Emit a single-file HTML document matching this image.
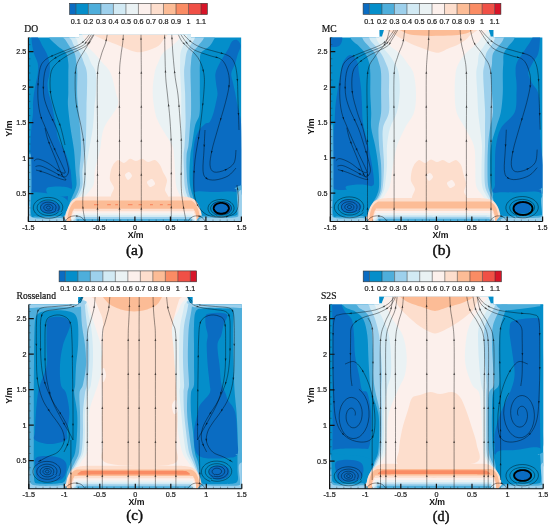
<!DOCTYPE html>
<html><head><meta charset="utf-8"><title>Temperature contours</title>
<style>html,body{margin:0;padding:0;background:#fff;}body{width:550px;height:527px;overflow:hidden;}svg{display:block;}</style>
</head><body>
<svg width="550" height="527" viewBox="0 0 550 527">
<clipPath id="clipa"><path d="M28.4,221.5L28.4,37.5L79,37.5L79,34.8L191,34.8L191,37.5L241.4,37.5L241.4,221.5Z"/></clipPath>
<g clip-path="url(#clipa)">
<rect x="28.4" y="34.8" width="213.0" height="186.7" fill="#048eca"/>
<path d="M78.0,32.8C78.0,32.8 82.0,32.8 82.0,32.8C82.0,32.8 81.5,35.3 81.5,35.3C81.5,35.3 81.5,36.3 81.5,36.3C81.5,36.3 79.0,36.3 79.0,36.3C79.0,36.3 78.0,32.8 78.0,32.8Z" fill="#048eca"/>
<path d="M26.0,31.0C26.8,32.8 30.0,34.8 31.0,37.0C32.0,39.2 31.5,41.2 32.0,44.0C32.5,46.8 33.0,50.4 34.0,53.6C35.0,56.9 37.2,60.2 37.8,63.5C38.4,66.8 38.1,70.0 37.8,73.3C37.5,76.5 36.5,79.7 35.9,83.0C35.3,86.3 34.5,89.7 34.0,93.0C33.5,96.3 33.2,99.7 33.0,103.0C32.8,106.3 33.2,109.2 33.0,113.0C32.8,116.8 31.9,120.7 31.5,126.0C31.1,131.3 30.7,137.7 30.5,145.0C30.3,152.3 30.4,162.5 30.5,170.0C30.6,177.5 30.5,184.2 31.0,190.0C31.5,195.8 32.7,201.0 33.5,205.0C34.3,209.0 34.1,212.0 36.0,214.0C37.9,216.0 41.7,216.7 45.0,217.0C48.3,217.3 53.0,217.0 56.0,216.0C59.0,215.0 61.2,212.8 63.0,211.0C64.8,209.2 66.2,207.5 67.0,205.0C67.8,202.5 67.7,198.2 68.0,196.0C68.3,193.8 68.3,193.3 69.0,192.0C69.7,190.7 71.6,190.0 72.0,188.0C72.4,186.0 71.8,183.0 71.5,180.0C71.2,177.0 71.4,174.3 70.5,170.0C69.6,165.7 67.6,158.2 66.0,154.0C64.4,149.8 62.4,148.0 61.0,145.0C59.6,142.0 58.3,139.2 57.5,136.0C56.7,132.8 56.7,129.8 56.0,126.0C55.3,122.2 54.2,116.8 53.5,113.0C52.8,109.2 52.4,106.3 51.6,103.0C50.8,99.7 49.3,96.3 48.6,93.0C47.9,89.7 47.4,86.3 47.6,83.0C47.8,79.7 49.3,76.5 49.6,73.3C49.9,70.0 50.1,66.8 49.6,63.5C49.1,60.2 47.9,56.5 46.7,53.6C45.5,50.7 43.7,48.3 42.5,46.0C41.3,43.7 40.8,42.2 39.5,40.0C38.2,37.8 36.4,35.0 35.0,33.0C33.6,31.0 32.5,29.2 31.0,28.0C29.5,26.8 26.8,25.5 26.0,26.0C25.2,26.5 25.2,29.2 26.0,31.0Z" fill="#0a6cc2"/>
<path d="M47.0,188.0C48.3,186.9 51.8,186.7 55.0,186.5C58.2,186.3 63.1,186.4 66.0,187.0C68.9,187.6 71.5,188.7 72.5,190.0C73.5,191.3 73.4,193.9 72.0,195.0C70.6,196.1 67.3,196.3 64.0,196.5C60.7,196.7 54.8,196.6 52.0,196.0C49.2,195.4 47.8,194.3 47.0,193.0C46.2,191.7 45.7,189.1 47.0,188.0Z" fill="#048eca"/>
<path d="M231.0,43.0C231.8,41.8 232.5,40.8 233.5,40.3C234.5,39.8 236.0,39.6 237.0,40.0C238.0,40.4 238.9,41.3 239.5,42.5C240.1,43.7 240.8,45.1 240.5,47.0C240.2,48.9 238.9,50.9 238.0,53.6C237.1,56.4 236.3,60.2 235.2,63.5C234.1,66.8 231.7,70.0 231.3,73.3C230.9,76.5 232.3,79.7 233.0,83.0C233.7,86.3 234.5,89.7 235.2,93.0C235.9,96.3 236.3,99.7 237.0,103.0C237.7,106.3 238.4,109.4 239.1,112.6C239.8,115.8 240.5,115.8 241.0,122.0C241.5,128.2 241.8,138.2 242.0,150.0C242.2,161.8 244.0,185.7 242.0,193.0C240.0,200.3 235.0,193.8 230.0,194.0C225.0,194.2 217.7,194.0 212.0,194.0C206.3,194.0 199.2,195.5 196.0,194.0C192.8,192.5 193.5,189.8 193.0,185.0C192.5,180.2 192.8,171.7 193.0,165.0C193.2,158.3 193.2,150.5 194.0,145.0C194.8,139.5 196.2,135.5 198.0,132.0C199.8,128.5 203.1,125.7 205.0,124.0C206.9,122.3 208.3,123.9 209.7,122.0C211.1,120.1 212.5,116.3 213.6,112.6C214.7,108.9 215.8,103.3 216.5,100.0C217.2,96.7 217.6,95.8 217.5,93.0C217.4,90.2 216.3,86.3 216.0,83.0C215.7,79.7 214.9,76.5 215.5,73.3C216.1,70.0 217.8,66.8 219.5,63.5C221.2,60.2 223.8,56.3 225.4,53.6C227.0,50.9 228.1,49.3 229.0,47.5C229.9,45.7 230.2,44.2 231.0,43.0Z" fill="#0a6cc2"/>
<path d="M49.0,22.0C21.3,24.3 48.7,33.0 49.0,36.0C49.3,39.0 49.6,38.3 51.0,40.0C52.4,41.7 55.0,43.8 57.5,46.0C60.0,48.2 64.2,50.2 66.0,53.0C67.8,55.8 67.9,59.7 68.3,63.0C68.7,66.3 68.3,68.0 68.3,73.0C68.3,78.0 68.3,87.5 68.3,93.0C68.2,98.5 67.6,100.2 68.0,106.0C68.4,111.8 69.5,120.7 70.5,128.0C71.5,135.3 73.2,143.0 74.0,150.0C74.8,157.0 75.1,164.2 75.5,170.0C75.9,175.8 76.9,180.8 76.5,185.0C76.1,189.2 74.3,191.7 73.0,195.0C71.7,198.3 70.0,201.7 68.5,205.0C67.0,208.3 64.8,211.0 64.0,215.0C63.2,219.0 41.2,226.7 64.0,229.0C86.8,231.3 177.8,231.3 200.5,229.0C223.2,226.7 201.2,219.0 200.5,215.0C199.8,211.0 197.3,208.3 196.0,205.0C194.7,201.7 193.5,198.3 192.5,195.0C191.5,191.7 190.5,189.2 190.0,185.0C189.5,180.8 189.4,175.0 189.5,170.0C189.6,165.0 190.0,159.2 190.4,155.0C190.8,150.8 191.2,149.8 192.0,145.0C192.8,140.2 193.8,131.2 195.0,126.0C196.2,120.8 198.7,119.5 199.5,114.0C200.3,108.5 199.8,99.8 199.8,93.0C199.9,86.2 199.8,78.0 199.8,73.0C199.8,68.0 199.8,66.3 200.0,63.0C200.2,59.7 199.4,55.8 201.0,53.0C202.6,50.2 207.6,48.2 209.7,46.0C211.8,43.8 212.7,41.7 213.6,40.0C214.5,38.3 214.8,39.0 215.0,36.0C215.2,33.0 242.7,24.3 215.0,22.0C187.3,19.7 76.7,19.7 49.0,22.0Z" fill="#4eaedb"/>
<path d="M31.0,193.0C32.5,191.8 36.8,192.3 40.0,192.5C43.2,192.7 46.7,193.4 50.0,194.0C53.3,194.6 57.3,195.2 60.0,196.0C62.7,196.8 64.3,197.5 66.0,199.0C67.7,200.5 69.7,202.8 70.0,205.0C70.3,207.2 69.3,210.1 68.0,212.0C66.7,213.9 65.8,215.7 62.0,216.5C58.2,217.3 49.7,217.0 45.0,217.0C40.3,217.0 36.3,217.5 34.0,216.5C31.7,215.5 31.5,213.8 31.0,211.0C30.5,208.2 31.0,203.0 31.0,200.0C31.0,197.0 29.5,194.2 31.0,193.0Z" fill="#048eca"/>
<path d="M41.0,202.0C42.2,201.2 45.7,200.9 48.0,201.0C50.3,201.1 53.0,201.7 55.0,202.5C57.0,203.3 59.2,204.8 60.0,206.0C60.8,207.2 60.6,208.8 59.8,210.0C59.0,211.2 57.1,212.5 55.0,213.0C52.9,213.5 49.2,213.5 47.0,213.2C44.8,212.9 42.6,212.2 41.5,211.0C40.4,209.8 40.6,207.5 40.5,206.0C40.4,204.5 39.8,202.8 41.0,202.0Z" fill="#0a6cc2"/>
<path d="M195.0,192.0C198.3,190.2 208.2,192.0 215.0,192.0C221.8,192.0 232.3,190.7 236.0,192.0C239.7,193.3 237.0,197.0 237.0,200.0C237.0,203.0 236.8,207.4 236.0,210.0C235.2,212.6 235.0,214.4 232.0,215.4C229.0,216.4 222.7,216.0 218.0,216.0C213.3,216.0 207.2,216.3 204.0,215.5C200.8,214.7 200.5,213.1 199.0,211.0C197.5,208.9 195.7,206.2 195.0,203.0C194.3,199.8 191.7,193.8 195.0,192.0Z" fill="#048eca"/>
<path d="M213.6,203.5C214.8,202.2 217.6,202.4 220.0,202.3C222.4,202.2 226.1,202.2 228.0,203.0C229.9,203.8 231.0,205.4 231.3,207.0C231.6,208.6 231.2,211.3 230.0,212.5C228.8,213.7 226.3,214.1 224.0,214.4C221.7,214.7 217.8,214.9 216.0,214.2C214.2,213.5 213.4,211.8 213.0,210.0C212.6,208.2 212.4,204.8 213.6,203.5Z" fill="#0a6cc2"/>
<path d="M63.0,22.0C39.5,24.3 62.6,33.0 63.0,36.0C63.4,39.0 64.5,38.3 65.5,40.0C66.5,41.7 67.8,43.8 69.3,46.0C70.8,48.2 73.3,50.2 74.5,53.0C75.7,55.8 76.0,59.7 76.5,63.0C77.0,66.3 77.2,68.0 77.3,73.0C77.4,78.0 77.0,87.5 77.1,93.0C77.2,98.5 77.5,100.2 78.0,106.0C78.5,111.8 79.5,120.7 80.0,128.0C80.5,135.3 81.1,143.0 81.0,150.0C80.9,157.0 79.7,164.2 79.5,170.0C79.3,175.8 80.5,180.8 80.0,185.0C79.5,189.2 78.1,191.7 76.5,195.0C74.9,198.3 72.4,201.7 70.5,205.0C68.6,208.3 65.9,211.0 65.0,215.0C64.1,219.0 42.5,226.7 65.0,229.0C87.5,231.3 177.5,231.3 200.0,229.0C222.5,226.7 201.1,219.0 200.0,215.0C198.9,211.0 195.2,208.3 193.5,205.0C191.8,201.7 190.5,198.3 189.5,195.0C188.5,191.7 188.0,189.2 187.5,185.0C187.0,180.8 186.7,175.0 186.5,170.0C186.3,165.0 186.3,159.2 186.6,155.0C186.9,150.8 187.9,149.8 188.5,145.0C189.1,140.2 189.6,131.2 190.0,126.0C190.4,120.8 190.8,119.5 191.0,114.0C191.2,108.5 191.1,99.8 191.0,93.0C190.9,86.2 190.5,78.0 190.5,73.0C190.5,68.0 190.7,66.3 191.0,63.0C191.3,59.7 191.3,55.8 192.5,53.0C193.7,50.2 196.3,48.2 198.0,46.0C199.7,43.8 201.8,41.7 202.8,40.0C203.8,38.3 203.8,39.0 204.0,36.0C204.2,33.0 227.5,24.3 204.0,22.0C180.5,19.7 86.5,19.7 63.0,22.0Z" fill="#9dd0ec"/>
<path d="M69.0,22.0C48.0,24.3 68.6,33.0 69.0,36.0C69.4,39.0 70.6,38.3 71.5,40.0C72.4,41.7 72.8,43.8 74.2,46.0C75.6,48.2 78.4,50.2 80.0,53.0C81.6,55.8 82.8,59.7 84.0,63.0C85.2,66.3 86.4,68.0 86.9,73.0C87.4,78.0 87.0,87.5 86.9,93.0C86.8,98.5 86.6,100.2 86.5,106.0C86.4,111.8 86.4,120.7 86.2,128.0C86.0,135.3 86.1,143.0 85.5,150.0C84.9,157.0 83.0,164.2 82.5,170.0C82.0,175.8 83.2,180.8 82.5,185.0C81.8,189.2 80.2,191.7 78.5,195.0C76.8,198.3 74.1,201.7 72.0,205.0C69.9,208.3 67.0,211.0 66.0,215.0C65.0,219.0 43.8,226.7 66.0,229.0C88.2,231.3 177.2,231.3 199.5,229.0C221.8,226.7 200.8,219.0 199.5,215.0C198.2,211.0 193.6,208.3 191.5,205.0C189.4,201.7 188.2,198.3 187.0,195.0C185.8,191.7 185.1,189.2 184.6,185.0C184.1,180.8 184.2,175.0 184.0,170.0C183.8,165.0 183.5,159.2 183.6,155.0C183.7,150.8 184.3,149.8 184.6,145.0C184.9,140.2 185.3,131.2 185.5,126.0C185.7,120.8 185.6,119.5 185.5,114.0C185.4,108.5 185.3,99.8 185.1,93.0C184.9,86.2 184.1,78.0 184.1,73.0C184.1,68.0 184.6,66.3 185.0,63.0C185.4,59.7 185.7,55.8 186.5,53.0C187.3,50.2 188.8,48.2 190.0,46.0C191.2,43.8 193.2,41.7 194.0,40.0C194.8,38.3 194.8,39.0 195.0,36.0C195.2,33.0 216.0,24.3 195.0,22.0C174.0,19.7 90.0,19.7 69.0,22.0Z" fill="#d2eaf4"/>
<path d="M75.0,22.0C56.3,24.3 74.7,33.0 75.0,36.0C75.3,39.0 76.3,38.3 77.0,40.0C77.7,41.7 77.4,43.8 79.0,46.0C80.6,48.2 84.5,50.2 86.5,53.0C88.5,55.8 89.5,59.7 91.0,63.0C92.5,66.3 95.0,68.0 95.8,73.0C96.6,78.0 96.0,87.5 95.8,93.0C95.6,98.5 95.0,100.2 94.5,106.0C94.0,111.8 93.7,120.7 92.8,128.0C91.9,135.3 90.1,143.0 89.0,150.0C87.9,157.0 86.5,164.2 86.0,170.0C85.5,175.8 86.8,180.8 86.0,185.0C85.2,189.2 83.0,191.7 81.0,195.0C79.0,198.3 76.3,201.7 74.0,205.0C71.7,208.3 68.2,211.0 67.0,215.0C65.8,219.0 45.0,226.7 67.0,229.0C89.0,231.3 177.0,231.3 199.0,229.0C221.0,226.7 200.6,219.0 199.0,215.0C197.4,211.0 192.0,208.3 189.5,205.0C187.0,201.7 185.3,198.3 184.0,195.0C182.7,191.7 182.2,189.2 181.7,185.0C181.2,180.8 181.2,175.0 181.0,170.0C180.8,165.0 180.8,159.2 180.7,155.0C180.6,150.8 180.6,149.8 180.7,145.0C180.8,140.2 180.9,131.2 181.0,126.0C181.1,120.8 181.2,119.5 181.2,114.0C181.2,108.5 181.4,99.8 181.2,93.0C181.0,86.2 180.4,78.0 180.2,73.0C180.0,68.0 180.1,66.3 180.2,63.0C180.2,59.7 180.0,55.8 180.5,53.0C181.0,50.2 182.1,48.2 183.0,46.0C183.9,43.8 185.3,41.7 186.0,40.0C186.7,38.3 186.8,39.0 187.0,36.0C187.2,33.0 205.7,24.3 187.0,22.0C168.3,19.7 93.7,19.7 75.0,22.0Z" fill="#eaf2f4"/>
<path d="M83.0,22.0C67.0,24.3 82.7,33.0 83.0,36.0C83.3,39.0 84.3,38.3 85.0,40.0C85.7,41.7 85.5,43.8 87.0,46.0C88.5,48.2 91.4,50.2 94.0,53.0C96.6,55.8 100.0,59.7 102.7,63.0C105.5,66.3 108.3,68.0 110.5,73.0C112.7,78.0 114.8,87.5 116.0,93.0C117.2,98.5 119.5,100.2 117.5,106.0C115.5,111.8 106.9,120.7 104.0,128.0C101.1,135.3 101.5,143.0 100.0,150.0C98.5,157.0 96.1,164.2 95.0,170.0C93.9,175.8 95.0,180.8 93.5,185.0C92.0,189.2 88.8,191.7 86.0,195.0C83.2,198.3 80.0,201.7 77.0,205.0C74.0,208.3 69.5,211.0 68.0,215.0C66.5,219.0 46.2,226.7 68.0,229.0C89.8,231.3 176.8,231.3 198.5,229.0C220.2,226.7 200.4,219.0 198.5,215.0C196.6,211.0 190.1,208.3 187.0,205.0C183.9,201.7 181.8,198.3 180.0,195.0C178.2,191.7 176.8,189.2 176.0,185.0C175.2,180.8 175.3,175.0 175.0,170.0C174.7,165.0 174.5,159.2 174.0,155.0C173.5,150.8 174.2,149.8 172.0,145.0C169.8,140.2 163.2,131.2 160.5,126.0C157.8,120.8 156.8,119.5 155.5,114.0C154.2,108.5 152.8,99.8 152.7,93.0C152.5,86.2 153.7,78.0 154.6,73.0C155.5,68.0 156.6,66.3 158.0,63.0C159.4,59.7 160.7,55.8 163.0,53.0C165.3,50.2 169.5,48.2 172.0,46.0C174.5,43.8 177.0,41.7 178.2,40.0C179.4,38.3 178.9,39.0 179.0,36.0C179.1,33.0 195.0,24.3 179.0,22.0C163.0,19.7 99.0,19.7 83.0,22.0Z" fill="#fcf0ec"/>
<path d="M91.0,28.0C78.2,29.0 91.5,32.3 93.0,34.0C94.5,35.7 97.2,36.7 100.0,38.0C102.8,39.3 106.7,40.7 110.0,42.0C113.3,43.3 115.7,44.3 120.0,46.0C124.3,47.7 131.5,51.2 136.0,52.0C140.5,52.8 143.2,51.7 147.0,50.7C150.8,49.7 155.7,47.9 158.6,45.8C161.5,43.7 162.9,40.0 164.5,38.0C166.1,36.0 167.1,35.7 168.0,34.0C168.9,32.3 182.8,29.0 170.0,28.0C157.2,27.0 103.8,27.0 91.0,28.0Z" fill="#fddecd"/>
<path d="M110.5,172.0C110.9,170.0 112.0,166.6 113.0,165.0C114.0,163.4 116.5,160.3 118.0,160.0C119.5,159.7 122.4,163.2 124.0,163.0C125.6,162.8 128.4,159.0 130.0,158.7C131.6,158.4 134.4,161.0 136.0,161.0C137.6,161.0 140.4,158.6 142.0,158.7C143.6,158.8 146.3,161.8 148.0,162.0C149.7,162.2 153.4,159.6 155.0,160.0C156.6,160.4 158.9,163.4 160.0,165.0C161.1,166.6 162.1,170.0 163.0,172.0C163.9,174.0 166.7,177.6 167.0,180.0C167.3,182.4 165.0,187.6 165.0,190.0C165.0,192.4 170.3,196.8 167.0,198.0C163.7,199.2 147.3,199.0 140.0,199.0C132.7,199.0 115.5,199.5 112.0,198.0C108.5,196.5 114.3,190.4 114.0,188.0C113.7,185.6 110.5,182.1 110.0,180.0C109.5,177.9 110.1,174.0 110.5,172.0Z" fill="#fddecd"/>
<path d="M125.0,175.0C125.1,173.9 128.1,171.9 129.0,172.0C129.9,172.1 132.1,174.9 132.0,176.0C131.9,177.1 128.9,180.1 128.0,180.0C127.1,179.9 124.9,176.1 125.0,175.0Z" fill="#fcf0ec"/>
<path d="M147.0,182.0C147.3,180.9 150.9,178.7 152.0,179.0C153.1,179.3 155.3,182.9 155.0,184.0C154.7,185.1 151.1,187.3 150.0,187.0C148.9,186.7 146.7,183.1 147.0,182.0Z" fill="#fcf0ec"/>
<path d="M64.5,225.5C41.6,224.0 65.0,219.3 65.5,216.5C66.0,213.7 66.4,211.5 67.5,208.8C68.6,206.2 70.1,202.5 72.0,200.6C73.9,198.7 75.8,198.0 79.0,197.3C82.2,196.6 81.9,196.6 91.0,196.5C100.1,196.4 119.5,196.5 133.8,196.5C148.0,196.5 167.4,196.4 176.5,196.5C185.6,196.6 185.3,196.6 188.5,197.3C191.7,198.0 193.6,198.7 195.5,200.6C197.4,202.5 198.9,206.2 200.0,208.8C201.1,211.5 201.5,213.7 202.0,216.5C202.5,219.3 225.9,224.0 203.0,225.5C180.1,227.0 87.4,227.0 64.5,225.5Z" fill="#fddecd"/>
<path d="M73.5,225.5C61.5,224.2 73.2,214.1 73.5,212.7C73.8,211.3 70.5,211.4 76.5,211.2C82.5,211.1 122.3,211.2 133.8,211.2C145.2,211.2 185.0,211.1 191.0,211.2C197.0,211.4 193.7,211.3 194.0,212.7C194.3,214.1 206.1,224.2 194.0,225.5C181.9,226.8 85.5,226.8 73.5,225.5Z" fill="#fcf0ec"/>
<path d="M74.5,225.5C62.6,224.4 74.2,216.1 74.5,214.9C74.8,213.7 71.6,213.6 77.5,213.4C83.4,213.2 122.5,213.4 133.8,213.4C145.0,213.4 184.1,213.2 190.0,213.4C195.9,213.6 192.7,213.7 193.0,214.9C193.3,216.1 204.8,224.4 193.0,225.5C181.2,226.6 86.3,226.6 74.5,225.5Z" fill="#eaf2f4"/>
<path d="M75.5,225.5C63.9,224.6 75.2,217.9 75.5,216.9C75.8,215.9 72.7,215.6 78.5,215.4C84.3,215.2 122.7,215.4 133.8,215.4C144.8,215.4 183.2,215.2 189.0,215.4C194.8,215.6 191.7,215.9 192.0,216.9C192.3,217.9 203.7,224.6 192.0,225.5C180.3,226.4 87.2,226.4 75.5,225.5Z" fill="#d2eaf4"/>
<path d="M76.0,225.5C64.5,224.8 75.7,219.4 76.0,218.6C76.3,217.8 73.2,217.3 79.0,217.1C84.8,217.0 122.8,217.1 133.8,217.1C144.7,217.1 182.7,217.0 188.5,217.1C194.3,217.3 191.2,217.8 191.5,218.6C191.8,219.4 203.1,224.8 191.5,225.5C179.9,226.2 87.5,226.2 76.0,225.5Z" fill="#9dd0ec"/>
<path d="M76.5,225.5C65.0,225.0 76.2,221.2 76.5,220.5C76.8,219.8 73.8,219.2 79.5,219.0C85.2,218.8 122.9,219.0 133.8,219.0C144.6,219.0 182.3,218.8 188.0,219.0C193.7,219.2 190.7,219.8 191.0,220.5C191.3,221.2 202.4,225.0 191.0,225.5C179.6,226.0 88.0,226.0 76.5,225.5Z" fill="#4eaedb"/>
<path d="M67.2,225.5C66.7,224.0 67.1,219.4 67.6,216.5C68.1,213.6 68.8,210.4 70.0,207.8C71.2,205.2 72.7,202.4 75.0,201.2C77.3,200.0 74.2,200.7 84.0,200.6C93.8,200.5 117.2,200.6 133.8,200.6C150.3,200.6 173.7,200.5 183.5,200.6C193.3,200.7 190.2,200.0 192.5,201.2C194.8,202.4 196.3,205.2 197.5,207.8C198.7,210.4 199.4,213.6 199.9,216.5C200.4,219.4 200.8,224.0 200.3,225.5C199.8,227.0 197.6,227.0 196.9,225.5C196.2,224.0 196.8,219.1 196.3,216.5C195.8,213.9 195.5,211.3 194.0,210.0C192.5,208.7 197.5,209.0 187.5,208.8C177.5,208.6 151.7,208.8 133.8,208.8C115.8,208.8 90.0,208.6 80.0,208.8C70.0,209.0 75.0,208.7 73.5,210.0C72.0,211.3 71.7,213.9 71.2,216.5C70.7,219.1 71.3,224.0 70.6,225.5C69.9,227.0 67.7,227.0 67.2,225.5Z" fill="#fcbc96"/>
<path d="M94.0,204.1C94.0,204.1 98.4,204.0 98.4,204.0C98.4,204.0 98.4,205.3 98.4,205.3C98.4,205.3 94.0,205.4 94.0,205.4C94.0,205.4 94.0,204.1 94.0,204.1Z" fill="#fa8c64"/>
<path d="M107.2,204.1C107.2,204.1 110.8,204.0 110.8,204.0C110.8,204.0 110.8,205.3 110.8,205.3C110.8,205.3 107.2,205.4 107.2,205.4C107.2,205.4 107.2,204.1 107.2,204.1Z" fill="#fa8c64"/>
<path d="M115.3,204.1C115.3,204.1 117.9,204.0 117.9,204.0C117.9,204.0 117.9,205.3 117.9,205.3C117.9,205.3 115.3,205.4 115.3,205.4C115.3,205.4 115.3,204.1 115.3,204.1Z" fill="#fa8c64"/>
<path d="M127.9,204.1C127.9,204.1 132.5,204.0 132.5,204.0C132.5,204.0 132.5,205.3 132.5,205.3C132.5,205.3 127.9,205.4 127.9,205.4C127.9,205.4 127.9,204.1 127.9,204.1Z" fill="#fa8c64"/>
<path d="M138.6,204.1C138.6,204.1 141.9,204.0 141.9,204.0C141.9,204.0 141.9,205.3 141.9,205.3C141.9,205.3 138.6,205.4 138.6,205.4C138.6,205.4 138.6,204.1 138.6,204.1Z" fill="#fa8c64"/>
<path d="M150.0,204.1C150.0,204.1 152.9,204.0 152.9,204.0C152.9,204.0 152.9,205.3 152.9,205.3C152.9,205.3 150.0,205.4 150.0,205.4C150.0,205.4 150.0,204.1 150.0,204.1Z" fill="#fa8c64"/>
<path d="M159.9,204.1C159.9,204.1 162.8,204.0 162.8,204.0C162.8,204.0 162.8,205.3 162.8,205.3C162.8,205.3 159.9,205.4 159.9,205.4C159.9,205.4 159.9,204.1 159.9,204.1Z" fill="#fa8c64"/>
<path d="M167.6,204.1C167.6,204.1 171.0,204.0 171.0,204.0C171.0,204.0 171.0,205.3 171.0,205.3C171.0,205.3 167.6,205.4 167.6,205.4C167.6,205.4 167.6,204.1 167.6,204.1Z" fill="#fa8c64"/>
<path d="M28.0,155.0C28.8,155.2 30.4,151.0 31.0,156.0C31.6,161.0 31.5,175.3 31.5,185.0C31.5,194.7 30.2,208.7 31.0,214.0C31.8,219.3 32.8,216.1 36.0,216.6C39.2,217.1 45.7,216.8 50.0,216.8C54.3,216.8 59.7,215.4 62.0,216.6C64.3,217.8 70.0,222.8 64.0,224.0C58.0,225.2 32.3,235.5 26.0,224.0C19.7,212.5 25.7,166.5 26.0,155.0C26.3,143.5 27.2,154.8 28.0,155.0Z" fill="#4eaedb"/>
<path d="M26.0,205.0C26.6,202.0 28.8,204.2 29.5,206.0C30.2,207.8 28.9,213.4 30.0,215.5C31.1,217.6 32.7,217.8 36.0,218.3C39.3,218.8 45.7,218.5 50.0,218.5C54.3,218.5 59.8,217.4 62.0,218.3C64.2,219.2 69.0,223.1 63.0,224.0C57.0,224.9 32.2,227.2 26.0,224.0C19.8,220.8 25.4,208.0 26.0,205.0Z" fill="#9dd0ec"/>
<path d="M235.0,188.0C233.6,188.3 236.2,188.0 236.5,190.0C236.8,192.0 236.9,196.7 237.0,200.0C237.1,203.3 237.2,207.4 237.0,210.0C236.8,212.6 238.8,214.4 236.0,215.4C233.2,216.4 225.3,216.1 220.0,216.2C214.7,216.3 207.3,215.8 204.0,215.8C200.7,215.8 200.7,214.6 200.0,216.0C199.3,217.4 192.5,222.7 200.0,224.0C207.5,225.3 237.5,230.0 245.0,224.0C252.5,218.0 246.7,194.0 245.0,188.0C243.3,182.0 236.4,187.7 235.0,188.0Z" fill="#4eaedb"/>
<path d="M238.0,193.0C239.1,189.7 243.8,187.8 245.0,193.0C246.2,198.2 252.3,218.8 245.0,224.0C237.7,229.2 208.2,225.0 201.0,224.0C193.8,223.0 198.3,219.0 201.5,218.0C204.7,217.0 214.2,217.9 220.0,217.8C225.8,217.7 232.9,218.0 236.0,217.2C239.1,216.4 238.2,217.0 238.5,213.0C238.8,209.0 236.9,196.3 238.0,193.0Z" fill="#9dd0ec"/>
<path d="M97.5,224.5C97.5,221.5 97.5,214.9 97.5,206.8C97.5,198.6 97.5,188.4 97.5,175.5C97.5,162.6 97.5,146.4 97.5,129.5C97.5,112.6 96.9,86.6 97.5,74.3C98.1,62.0 99.7,61.1 101.0,55.9C102.3,50.7 104.4,46.9 105.5,43.0C106.6,39.2 107.2,34.5 107.5,32.8M119.5,224.5C119.5,221.5 119.5,214.9 119.5,206.8C119.5,198.6 119.5,188.4 119.5,175.5C119.5,162.6 119.5,146.4 119.5,129.5C119.5,112.6 119.3,86.6 119.5,74.3C119.7,62.0 120.4,61.1 120.9,55.9C121.4,50.7 122.3,46.9 122.7,43.0C123.1,39.2 123.4,34.5 123.5,32.8M141.3,224.5C141.3,221.5 141.3,214.9 141.3,206.8C141.3,198.6 141.3,188.4 141.3,175.5C141.3,162.6 141.3,146.4 141.3,129.5C141.3,112.6 141.3,86.6 141.3,74.3C141.3,62.0 141.2,61.1 141.2,55.9C141.2,50.7 141.1,46.9 141.1,43.0C141.0,39.2 141.0,34.5 141.0,32.8M85.5,223.0C85.1,220.6 83.4,213.2 83.0,208.5C82.6,203.8 82.7,200.4 83.0,194.8C83.3,189.2 84.8,183.2 85.0,175.0C85.2,166.8 84.7,153.8 84.0,145.6C83.3,137.4 82.3,133.1 81.0,126.0C79.7,118.9 77.1,110.9 76.1,102.8C75.1,94.7 75.0,83.8 75.2,77.2C75.4,70.7 75.5,68.1 77.1,63.5C78.7,58.9 82.7,53.6 85.0,49.7C87.3,45.8 89.3,42.8 91.0,40.0C92.7,37.2 94.3,34.2 95.0,33.0M171.3,223.0C171.3,212.5 171.3,173.0 171.3,160.0C171.3,147.0 171.5,151.7 171.3,145.0C171.1,138.3 170.6,128.3 170.0,120.0C169.4,111.7 168.2,102.1 167.5,95.0C166.8,87.9 166.1,84.0 165.7,77.3C165.3,70.6 165.2,62.4 165.0,55.0C164.8,47.6 164.7,36.7 164.6,33.0M186.5,223.0C185.9,219.9 184.0,210.9 183.1,204.6C182.2,198.3 181.5,194.9 181.2,185.0C180.9,175.1 181.6,155.8 181.4,145.0C181.2,134.2 180.6,128.3 180.0,120.0C179.4,111.7 178.8,102.1 178.0,95.0C177.2,87.9 176.0,84.0 175.2,77.3C174.4,70.6 173.6,62.4 173.0,55.0C172.4,47.6 171.9,36.7 171.7,33.0M92.5,30.0C91.2,31.7 87.6,37.4 85.0,40.0C82.4,42.6 81.7,43.5 77.1,45.8C72.5,48.1 62.7,51.3 57.5,53.6C52.3,55.9 48.7,56.9 45.7,59.5C42.8,62.1 41.1,63.8 39.8,69.4C38.5,75.0 37.8,85.8 37.8,93.0C37.8,100.2 38.5,106.7 39.8,112.6C41.1,118.5 43.2,122.1 45.7,128.3C48.2,134.5 52.1,143.6 55.0,150.0C57.9,156.4 61.3,163.2 63.0,167.0C64.7,170.8 65.7,172.3 65.0,173.0C64.3,173.7 61.8,172.7 59.0,171.0C56.2,169.3 51.5,165.0 48.0,163.0C44.5,161.0 40.3,159.3 38.0,159.0C35.7,158.7 34.7,160.7 34.0,161.0M94.5,30.0C93.2,31.8 89.2,38.2 87.0,41.0C84.8,43.8 85.3,44.2 81.0,46.5C76.7,48.8 66.6,51.9 61.4,54.6C56.2,57.3 52.4,59.4 49.6,62.5C46.8,65.6 45.5,68.2 44.5,73.3C43.5,78.4 43.0,87.1 43.5,93.0C44.0,98.9 45.4,102.8 47.6,108.7C49.8,114.6 54.1,122.3 56.5,128.3C58.9,134.4 60.2,139.4 62.0,145.0C63.8,150.6 65.9,157.5 67.0,162.0C68.1,166.5 69.0,169.5 68.5,172.0C68.0,174.5 66.8,177.2 64.0,177.0C61.2,176.8 55.8,172.8 52.0,171.0C48.2,169.2 43.8,166.8 41.0,166.0C38.2,165.2 36.4,166.4 35.5,166.5M96.0,30.0C95.0,31.7 91.8,37.2 90.0,40.0C88.2,42.8 88.8,43.9 85.0,46.5C81.2,49.1 72.2,52.6 67.3,55.6C62.4,58.6 58.3,61.4 55.5,64.5C52.7,67.6 51.4,69.6 50.6,74.3C49.8,79.1 49.8,86.6 50.6,93.0C51.4,99.4 53.8,106.7 55.5,112.6C57.2,118.5 59.4,122.9 61.0,128.3C62.6,133.7 64.3,142.2 65.0,145.0M176.3,30.0C177.1,31.7 179.4,37.4 181.0,40.0C182.6,42.6 183.3,42.9 186.1,45.8C188.9,48.7 194.9,53.0 197.9,57.6C200.9,62.2 202.8,67.4 203.8,73.3C204.8,79.2 204.5,83.5 203.8,93.0C203.1,102.5 201.3,118.8 199.8,130.0C198.3,141.2 196.0,150.8 195.0,160.0C194.0,169.2 193.7,178.3 193.8,185.0C193.9,191.7 194.3,195.8 195.5,200.0C196.7,204.2 198.6,207.3 201.0,210.0C203.4,212.7 206.0,214.8 210.0,216.0C214.0,217.2 220.7,217.7 225.0,217.0C229.3,216.3 233.8,214.8 236.0,212.0C238.2,209.2 238.3,204.5 238.5,200.0C238.7,195.5 237.2,187.5 237.0,185.0M178.0,30.0C179.3,32.0 183.3,38.7 186.0,42.0C188.6,45.3 189.9,47.4 193.9,49.7C197.8,52.0 205.1,54.0 209.7,55.6C214.3,57.2 218.5,57.2 221.4,59.5C224.3,61.8 226.0,65.5 227.3,69.4C228.6,73.3 229.6,77.5 229.3,83.1C229.0,88.7 227.4,95.0 225.4,102.8C223.4,110.6 219.7,122.1 217.5,130.0C215.3,137.9 213.2,144.2 212.0,150.0C210.8,155.8 209.7,161.3 210.0,165.0C210.3,168.7 211.5,171.2 214.0,172.0C216.5,172.8 221.7,171.5 225.0,170.0C228.3,168.5 232.2,166.3 234.0,163.0C235.8,159.7 235.7,152.2 236.0,150.0M179.5,30.0C181.2,31.8 186.6,38.2 190.0,41.0C193.4,43.8 195.8,45.2 200.0,47.0C204.2,48.8 210.3,50.1 215.0,51.5C219.7,52.9 224.8,53.8 228.0,55.5C231.2,57.2 232.5,58.8 234.0,62.0C235.5,65.2 236.3,68.7 237.0,75.0C237.7,81.3 237.7,90.8 238.0,100.0C238.3,109.2 238.8,125.0 239.0,130.0M45.0,128.0C45.5,130.0 46.2,134.7 48.0,140.0C49.8,145.3 53.7,154.2 56.0,160.0C58.3,165.8 60.3,171.7 62.0,175.0C63.7,178.3 66.7,179.5 66.0,180.0C65.3,180.5 61.3,179.2 58.0,178.0C54.7,176.8 49.7,174.3 46.0,173.0C42.3,171.7 37.7,170.5 36.0,170.0M205.0,130.0C204.8,133.3 204.3,143.3 204.0,150.0C203.7,156.7 202.7,165.3 203.0,170.0C203.3,174.7 204.0,176.3 206.0,178.0C208.0,179.7 211.3,180.3 215.0,180.0C218.7,179.7 224.5,178.0 228.0,176.0C231.5,174.0 234.7,169.3 236.0,168.0M64.5,223.0C65.0,222.2 66.1,219.7 67.5,218.5C68.9,217.3 70.9,216.3 73.0,216.0C75.1,215.7 78.2,215.9 80.0,216.6C81.8,217.3 83.2,218.9 84.0,220.0C84.8,221.1 84.8,222.5 85.0,223.0M187.0,223.0C187.3,222.4 187.8,220.6 189.0,219.5C190.2,218.4 192.2,216.7 194.0,216.2C195.8,215.7 198.3,215.8 200.0,216.4C201.7,217.0 203.2,218.4 204.0,219.5C204.8,220.6 204.8,222.4 205.0,223.0M62.5,212.8L60.6,214.6L58.1,216.2L55.3,217.3L52.1,218.0L48.9,218.3L45.6,218.1L42.5,217.4L39.7,216.3L37.3,214.8L35.4,213.0L34.1,211.0L33.4,208.8L33.4,206.7L34.0,204.5L35.3,202.5L37.1,200.8L39.5,199.4L42.1,198.3L45.1,197.6L48.2,197.4L51.2,197.6L54.1,198.2L56.8,199.3L59.0,200.7L60.8,202.3L62.0,204.2L62.7,206.2L62.7,208.3L62.1,210.3L60.9,212.1L60.9,212.1M59.0,211.4L57.6,212.8L55.7,214.0L53.6,214.8L51.2,215.4L48.8,215.5L46.3,215.4L44.0,214.9L41.9,214.0L40.1,212.9L38.7,211.6L37.7,210.1L37.2,208.5L37.2,206.9L37.6,205.3L38.6,203.8L40.0,202.5L41.7,201.4L43.7,200.6L45.9,200.1L48.2,200.0L50.5,200.1L52.7,200.6L54.7,201.4L56.4,202.4L57.7,203.7L58.6,205.1L59.1,206.6L59.1,208.1L58.7,209.6L57.8,211.0L57.8,211.0M56.0,210.3L54.9,211.3L53.6,212.1L52.1,212.7L50.4,213.1L48.7,213.2L47.0,213.1L45.3,212.7L43.8,212.1L42.5,211.3L41.5,210.4L40.8,209.3L40.5,208.2L40.5,207.1L40.8,205.9L41.5,204.9L42.5,204.0L43.7,203.2L45.1,202.6L46.7,202.3L48.3,202.2L49.9,202.3L51.5,202.6L52.9,203.2L54.1,203.9L55.0,204.8L55.7,205.8L56.0,206.8L56.0,207.9L55.7,209.0L55.1,209.9L55.1,209.9M52.9,209.2L52.3,209.8L51.5,210.3L50.6,210.6L49.6,210.9L48.6,210.9L47.6,210.9L46.6,210.6L45.7,210.3L45.0,209.8L44.4,209.2L44.0,208.6L43.8,207.9L43.8,207.2L44.0,206.6L44.4,205.9L44.9,205.4L45.7,204.9L46.5,204.6L47.4,204.4L48.4,204.3L49.3,204.3L50.3,204.6L51.1,204.9L51.8,205.3L52.3,205.9L52.7,206.5L52.9,207.1L52.9,207.8L52.7,208.4L52.4,209.0L52.4,209.0M50.4,208.3L50.2,208.5L49.8,208.8L49.4,208.9L49.0,209.0L48.6,209.1L48.1,209.0L47.7,208.9L47.3,208.8L47.0,208.6L46.7,208.3L46.5,208.0L46.4,207.7L46.4,207.4L46.5,207.1L46.7,206.8L46.9,206.5L47.3,206.3L47.6,206.2L48.0,206.1L48.5,206.0L48.9,206.1L49.3,206.2L49.6,206.3L49.9,206.5L50.2,206.8L50.4,207.0L50.4,207.3L50.4,207.6L50.4,207.9L50.2,208.2L50.2,208.2M215.7,216.7L213.3,215.7L211.2,214.4L209.6,212.8L208.6,211.0L208.0,209.2L208.1,207.3L208.7,205.4L209.9,203.7L211.6,202.2L213.7,201.0L216.1,200.1L218.7,199.6L221.4,199.4L224.1,199.7L226.7,200.3L229.0,201.2L231.0,202.5L232.5,204.0L233.5,205.7L234.0,207.5L234.0,209.3L233.3,211.1L232.2,212.7L230.6,214.1L228.6,215.3L226.3,216.2L223.8,216.7L221.2,216.8L218.6,216.6L216.1,216.0L216.1,216.0M216.8,214.8L214.9,214.1L213.2,213.0L212.0,211.8L211.1,210.4L210.7,209.0L210.7,207.5L211.3,206.0L212.2,204.7L213.5,203.5L215.2,202.6L217.1,201.9L219.2,201.5L221.4,201.3L223.6,201.5L225.6,202.0L227.5,202.8L229.0,203.8L230.3,204.9L231.1,206.3L231.5,207.7L231.4,209.1L230.9,210.5L230.0,211.7L228.7,212.9L227.1,213.8L225.3,214.4L223.3,214.8L221.2,215.0L219.1,214.8L217.2,214.3L217.2,214.3" fill="none" stroke="#000" stroke-opacity="0.55" stroke-width="0.75" stroke-linejoin="round"/><path d="M97.5,207.2L98.5,209.8L96.5,209.8ZM97.5,173.2L98.5,175.8L96.5,175.8ZM97.5,139.2L98.5,141.8L96.5,141.8ZM97.3,105.2L98.3,107.8L96.4,107.8ZM97.7,71.2L98.5,73.9L96.5,73.8ZM106.5,38.5L107.0,41.3L105.0,40.9ZM119.5,207.2L120.5,209.8L118.5,209.8ZM119.5,173.2L120.5,175.8L118.5,175.8ZM119.5,139.2L120.5,141.8L118.5,141.8ZM119.4,105.2L120.4,107.8L118.4,107.8ZM119.6,71.2L120.5,73.8L118.5,73.8ZM123.2,37.4L124.0,40.1L122.0,40.0ZM141.3,207.2L142.3,209.8L140.3,209.8ZM141.3,173.2L142.3,175.8L140.3,175.8ZM141.3,139.2L142.3,141.8L140.3,141.8ZM141.3,105.2L142.3,107.8L140.3,107.8ZM141.3,71.2L142.3,73.8L140.3,73.8ZM141.0,37.2L142.0,39.8L140.0,39.8ZM82.8,205.9L84.0,208.5L82.0,208.6ZM85.0,172.0L86.0,174.7L84.0,174.7ZM83.2,138.1L84.5,140.6L82.5,140.8ZM76.3,104.8L77.8,107.2L75.8,107.6ZM75.5,70.9L76.3,73.5L74.3,73.4ZM90.5,40.8L90.0,43.5L88.3,42.5ZM171.3,205.7L172.3,208.3L170.3,208.3ZM171.3,171.7L172.3,174.3L170.3,174.3ZM171.0,137.7L172.1,140.3L170.1,140.4ZM168.4,103.8L169.7,106.3L167.7,106.5ZM165.4,69.9L166.5,72.5L164.5,72.6ZM164.6,36.0L165.7,38.6L163.7,38.6ZM183.3,206.0L184.7,208.4L182.7,208.7ZM181.2,172.1L182.1,174.8L180.2,174.7ZM181.2,138.1L182.3,140.7L180.3,140.8ZM178.9,104.2L180.1,106.7L178.1,106.9ZM174.4,70.5L175.7,73.0L173.7,73.2ZM171.9,36.6L173.0,39.2L171.0,39.3ZM81.5,43.3L82.9,40.8L84.2,42.3ZM50.3,56.6L52.3,54.7L53.1,56.5ZM38.0,86.1L37.1,83.4L39.1,83.5ZM42.0,119.6L40.1,117.5L42.0,116.8ZM55.4,150.8L53.4,148.8L55.2,148.0ZM56.4,169.2L59.1,169.9L58.0,171.6ZM84.6,44.2L85.4,41.5L87.0,42.7ZM54.0,58.8L55.7,56.5L56.7,58.2ZM43.3,89.4L42.3,86.7L44.3,86.7ZM53.4,121.5L51.4,119.5L53.2,118.7ZM64.6,153.5L62.9,151.3L64.8,150.7ZM57.1,173.8L59.8,174.3L58.8,176.0ZM87.3,44.9L87.7,42.2L89.4,43.2ZM57.9,62.1L59.4,59.7L60.6,61.2ZM50.7,93.7L49.4,91.2L51.4,90.9ZM60.4,126.2L58.5,124.0L60.4,123.4ZM185.1,44.7L182.5,43.6L183.9,42.2ZM203.6,72.2L202.1,69.8L204.0,69.4ZM202.6,106.1L201.9,103.4L203.9,103.6ZM198.3,139.8L197.8,137.0L199.7,137.4ZM194.0,173.5L193.1,170.8L195.1,170.9ZM198.5,206.7L196.3,204.9L198.0,203.9ZM228.7,216.2L226.3,217.8L225.9,215.9ZM237.3,187.1L238.6,189.6L236.7,189.9ZM187.8,44.3L185.4,42.8L186.9,41.6ZM218.3,57.9L215.5,58.1L216.0,56.2ZM228.8,87.9L228.1,85.2L230.1,85.4ZM220.2,120.8L220.0,118.0L221.9,118.6ZM211.3,153.6L210.8,150.8L212.8,151.2ZM227.3,168.9L225.4,170.9L224.5,169.1ZM191.6,42.3L189.0,41.4L190.2,39.9ZM223.4,53.7L220.6,54.0L221.1,52.1ZM237.5,81.6L236.3,79.0L238.3,78.9ZM238.5,115.6L237.5,113.0L239.4,112.9ZM49.7,144.6L47.9,142.5L49.7,141.8ZM62.5,176.1L60.5,174.2L62.3,173.3ZM38.9,170.8L41.7,170.6L41.2,172.5ZM204.1,147.3L203.3,144.6L205.3,144.7ZM208.0,179.4L205.3,178.7L206.4,177.1ZM78.8,216.2L76.0,216.9L76.3,214.9ZM201.1,216.7L198.3,217.0L198.8,215.1Z" fill="#000" fill-opacity="0.55"/><path d="M228.9,208.3L228.8,209.0L228.6,209.7L228.3,210.4L227.9,211.0L227.3,211.6L226.7,212.1L225.9,212.6L225.1,213.0L224.2,213.3L223.3,213.5L222.3,213.7L221.3,213.7L220.3,213.7L219.3,213.5L218.4,213.3L217.5,213.0L216.7,212.6L215.9,212.1L215.3,211.6L214.7,211.0L214.3,210.4L214.0,209.7L213.8,209.0L213.7,208.3L213.8,207.6L214.0,206.9L214.3,206.2L214.7,205.6L215.3,205.0L215.9,204.5L216.7,204.0L217.5,203.6L218.4,203.3L219.3,203.1L220.3,202.9L221.3,202.9L222.3,202.9L223.3,203.1L224.2,203.3L225.1,203.6L225.9,204.0L226.7,204.5L227.3,205.0L227.9,205.6L228.3,206.2L228.6,206.9L228.8,207.6L228.9,208.3Z" fill="none" stroke="#000" stroke-width="1.9"/>
</g>
<path d="M28.40,37.50V221.50H241.40" fill="none" stroke="#111" stroke-width="1.1"/>
<path d="M28.40,193.70h5M28.40,158.20h5M28.40,122.70h5M28.40,87.20h5M28.40,51.70h5M28.40,221.50v-5M63.90,221.50v-5M99.40,221.50v-5M134.90,221.50v-5M170.40,221.50v-5M205.90,221.50v-5M241.40,221.50v-5" stroke="#111" stroke-width="1.2" fill="none"/>
<path d="M28.40,215.00h2M28.40,207.90h2M28.40,200.80h2M28.40,186.60h2M28.40,179.50h2M28.40,172.40h2M28.40,165.30h2M28.40,151.10h2M28.40,144.00h2M28.40,136.90h2M28.40,129.80h2M28.40,115.60h2M28.40,108.50h2M28.40,101.40h2M28.40,94.30h2M28.40,80.10h2M28.40,73.00h2M28.40,65.90h2M28.40,58.80h2M28.40,44.60h2M28.40,37.50h2M35.50,221.50v-2M42.60,221.50v-2M49.70,221.50v-2M56.80,221.50v-2M71.00,221.50v-2M78.10,221.50v-2M85.20,221.50v-2M92.30,221.50v-2M106.50,221.50v-2M113.60,221.50v-2M120.70,221.50v-2M127.80,221.50v-2M142.00,221.50v-2M149.10,221.50v-2M156.20,221.50v-2M163.30,221.50v-2M177.50,221.50v-2M184.60,221.50v-2M191.70,221.50v-2M198.80,221.50v-2M213.00,221.50v-2M220.10,221.50v-2M227.20,221.50v-2M234.30,221.50v-2" stroke="#222" stroke-width="0.6" stroke-opacity="0.6" fill="none"/>
<g font-family="'Liberation Sans', Arial, sans-serif" font-size="7.2" fill="#222" stroke="#222" stroke-width="0.22"><text x="26.20" y="196.20" text-anchor="end">0.5</text><text x="26.20" y="160.70" text-anchor="end">1</text><text x="26.20" y="125.20" text-anchor="end">1.5</text><text x="26.20" y="89.70" text-anchor="end">2</text><text x="26.20" y="54.20" text-anchor="end">2.5</text><text x="28.40" y="230.00" text-anchor="middle">-1.5</text><text x="63.90" y="230.00" text-anchor="middle">-1</text><text x="99.40" y="230.00" text-anchor="middle">-0.5</text><text x="134.90" y="230.00" text-anchor="middle">0</text><text x="170.40" y="230.00" text-anchor="middle">0.5</text><text x="205.90" y="230.00" text-anchor="middle">1</text><text x="241.40" y="230.00" text-anchor="middle">1.5</text></g>
<text x="135.6" y="237.8" text-anchor="middle" font-family="'Liberation Sans', Arial, sans-serif" font-weight="bold" font-size="8.7" fill="#111">X/m</text>
<text transform="translate(12.0,128.5) rotate(-90)" text-anchor="middle" font-family="'Liberation Sans', Arial, sans-serif" font-weight="bold" font-size="8.9" fill="#111">Y/m</text>
<text x="24.3" y="31.8" font-family="'Liberation Serif', 'Times New Roman', serif" font-size="9.6" fill="#111" stroke="#111" stroke-width="0.2">DO</text>
<text x="134.5" y="255.3" text-anchor="middle" font-family="'Liberation Serif', 'Times New Roman', serif" font-size="15.5" fill="#111" stroke="#111" stroke-width="0.45">(a)</text>
<g font-family="'Liberation Sans', Arial, sans-serif" font-size="7.2" fill="#222"><rect x="69.60" y="3.3" width="6.31" height="11.20" fill="#0a6cc2"/><rect x="75.86" y="3.3" width="12.57" height="11.20" fill="#048eca"/><rect x="88.38" y="3.3" width="12.57" height="11.20" fill="#4eaedb"/><rect x="100.90" y="3.3" width="12.57" height="11.20" fill="#9dd0ec"/><rect x="113.41" y="3.3" width="12.57" height="11.20" fill="#d2eaf4"/><rect x="125.93" y="3.3" width="12.57" height="11.20" fill="#eaf2f4"/><rect x="138.45" y="3.3" width="12.57" height="11.20" fill="#fcf0ec"/><rect x="150.97" y="3.3" width="12.57" height="11.20" fill="#fddecd"/><rect x="163.49" y="3.3" width="12.57" height="11.20" fill="#fcbc96"/><rect x="176.00" y="3.3" width="12.57" height="11.20" fill="#fa8c64"/><rect x="188.52" y="3.3" width="12.57" height="11.20" fill="#f05046"/><rect x="201.04" y="3.3" width="6.31" height="11.20" fill="#d71428"/><path d="M75.86,3.3V14.5M88.38,3.3V14.5M100.90,3.3V14.5M113.41,3.3V14.5M125.93,3.3V14.5M138.45,3.3V14.5M150.97,3.3V14.5M163.49,3.3V14.5M176.00,3.3V14.5M188.52,3.3V14.5M201.04,3.3V14.5" stroke="#333" stroke-width="0.6" stroke-opacity="0.85"/><rect x="69.6" y="3.3" width="137.70" height="11.20" fill="none" stroke="#333" stroke-width="0.6"/><text x="75.86" y="23.6" text-anchor="middle" stroke="#222" stroke-width="0.22">0.1</text><text x="88.38" y="23.6" text-anchor="middle" stroke="#222" stroke-width="0.22">0.2</text><text x="100.90" y="23.6" text-anchor="middle" stroke="#222" stroke-width="0.22">0.3</text><text x="113.41" y="23.6" text-anchor="middle" stroke="#222" stroke-width="0.22">0.4</text><text x="125.93" y="23.6" text-anchor="middle" stroke="#222" stroke-width="0.22">0.5</text><text x="138.45" y="23.6" text-anchor="middle" stroke="#222" stroke-width="0.22">0.6</text><text x="150.97" y="23.6" text-anchor="middle" stroke="#222" stroke-width="0.22">0.7</text><text x="163.49" y="23.6" text-anchor="middle" stroke="#222" stroke-width="0.22">0.8</text><text x="176.00" y="23.6" text-anchor="middle" stroke="#222" stroke-width="0.22">0.9</text><text x="188.52" y="23.6" text-anchor="middle" stroke="#222" stroke-width="0.22">1</text><text x="201.04" y="23.6" text-anchor="middle" stroke="#222" stroke-width="0.22">1.1</text></g>
<clipPath id="clipb"><path d="M330.3,221.5L330.3,37.5L379.5,37.5L379.5,30.0L493.3,30.0L493.3,37.5L542.6,37.5L542.6,221.5Z"/></clipPath>
<g clip-path="url(#clipb)">
<rect x="330.3" y="30.0" width="212.3" height="191.5" fill="#048eca"/>
<path d="M330.0,36.0C331.8,34.3 339.0,35.2 341.0,36.0C343.0,36.8 342.3,39.3 342.0,41.0C341.7,42.7 340.5,45.0 339.0,46.0C337.5,47.0 334.5,47.0 333.0,47.0C331.5,47.0 330.5,47.8 330.0,46.0C329.5,44.2 328.2,37.7 330.0,36.0Z" fill="#0a6cc2"/>
<path d="M350.0,55.0C347.7,55.2 344.9,59.0 343.3,62.0C341.7,65.0 341.4,69.0 340.5,73.3C339.6,77.6 338.8,82.7 338.0,88.0C337.2,93.3 336.1,99.2 335.5,105.0C334.9,110.8 335.0,116.2 334.5,123.0C334.0,129.8 332.9,139.0 332.5,146.0C332.1,153.0 332.0,158.3 332.0,165.0C332.0,171.7 331.2,181.8 332.5,186.0C333.8,190.2 335.4,189.7 340.0,190.0C344.6,190.3 354.7,188.7 360.0,188.0C365.3,187.3 369.7,187.2 372.0,186.0C374.3,184.8 374.0,184.5 374.0,181.0C374.0,177.5 372.9,170.8 372.0,165.0C371.1,159.2 369.8,153.0 368.3,146.0C366.8,139.0 364.1,129.8 363.0,123.0C361.9,116.2 362.3,110.8 362.0,105.0C361.7,99.2 361.5,93.3 361.0,88.0C360.5,82.7 359.7,77.8 359.0,73.3C358.3,68.8 358.5,64.0 357.0,61.0C355.5,58.0 352.3,54.8 350.0,55.0Z" fill="#0a6cc2"/>
<path d="M346.7,186.0C348.9,185.1 356.1,184.5 360.0,184.5C363.9,184.5 368.3,185.1 370.3,186.0C372.3,186.9 372.7,189.0 372.0,190.0C371.3,191.0 369.3,191.7 366.0,192.0C362.7,192.3 355.2,192.3 352.0,192.0C348.8,191.7 347.9,191.0 347.0,190.0C346.1,189.0 344.5,186.9 346.7,186.0Z" fill="#048eca"/>
<path d="M531.0,32.0C529.6,33.0 533.7,34.4 532.3,38.0C530.9,41.6 525.0,49.4 522.4,53.6C519.8,57.9 517.6,60.2 516.5,63.5C515.4,66.8 515.6,70.0 515.6,73.3C515.6,76.5 516.4,79.7 516.5,83.0C516.6,86.3 516.8,88.1 516.5,93.0C516.2,97.9 517.2,106.8 514.6,112.6C512.0,118.4 504.1,122.4 501.0,128.0C497.9,133.6 496.9,139.8 495.9,146.0C494.9,152.2 495.1,158.5 495.0,165.0C494.9,171.5 494.8,180.3 495.0,185.0C495.2,189.7 488.3,191.5 496.0,193.0C503.7,194.5 533.2,195.3 541.0,194.0C548.8,192.7 542.7,189.8 543.0,185.0C543.3,180.2 543.3,171.5 543.0,165.0C542.7,158.5 541.5,152.2 541.0,146.0C540.5,139.8 540.1,133.6 540.0,128.0C539.9,122.4 540.4,118.4 540.1,112.6C539.8,106.8 539.6,97.9 538.2,93.0C536.9,88.1 533.6,86.3 532.0,83.0C530.4,79.7 528.2,76.5 528.3,73.3C528.3,70.0 530.6,66.8 532.3,63.5C533.9,60.2 536.9,57.9 538.2,53.6C539.5,49.4 539.7,41.6 540.1,38.0C540.5,34.4 542.0,33.0 540.5,32.0C539.0,31.0 532.4,31.0 531.0,32.0Z" fill="#0a6cc2"/>
<path d="M350.6,24.0C323.3,26.3 349.3,34.4 350.6,38.0C351.9,41.6 356.1,43.2 358.5,45.8C360.9,48.4 363.5,50.6 365.3,53.6C367.1,56.6 368.5,60.2 369.3,63.5C370.1,66.8 370.1,68.4 370.3,73.3C370.5,78.2 370.2,86.5 370.3,93.0C370.4,99.5 371.1,106.8 371.2,112.6C371.3,118.4 370.5,122.4 371.2,128.0C371.9,133.6 374.0,139.8 375.2,146.0C376.4,152.2 377.5,158.5 378.1,165.0C378.8,171.5 379.3,180.0 379.1,185.0C378.9,190.0 378.3,191.7 377.0,195.0C375.7,198.3 373.2,201.7 371.5,205.0C369.8,208.3 367.8,211.0 367.0,215.0C366.2,219.0 344.8,226.7 367.0,229.0C389.2,231.3 477.8,231.3 500.0,229.0C522.2,226.7 500.6,219.0 500.0,215.0C499.4,211.0 497.6,208.3 496.5,205.0C495.4,201.7 494.4,198.3 493.5,195.0C492.6,191.7 491.6,190.0 491.0,185.0C490.4,180.0 490.0,171.5 490.0,165.0C490.0,158.5 490.0,152.2 491.0,146.0C492.0,139.8 494.4,133.6 496.0,128.0C497.6,122.4 499.7,118.4 500.8,112.6C501.9,106.8 502.5,99.5 502.8,93.0C503.1,86.5 502.7,78.2 502.8,73.3C502.9,68.4 503.1,66.8 503.3,63.5C503.5,60.2 502.9,56.6 503.8,53.6C504.7,50.6 506.9,48.4 508.7,45.8C510.5,43.2 513.6,41.6 514.6,38.0C515.6,34.4 541.9,26.3 514.6,24.0C487.3,21.7 377.9,21.7 350.6,24.0Z" fill="#4eaedb"/>
<path d="M332.0,192.0C334.2,188.5 340.3,190.8 345.0,191.0C349.7,191.2 355.8,192.0 360.0,193.0C364.2,194.0 367.8,195.2 370.0,197.0C372.2,198.8 373.0,201.7 373.0,204.0C373.0,206.3 371.5,208.9 370.0,211.0C368.5,213.1 367.3,215.3 364.0,216.3C360.7,217.3 354.7,216.8 350.0,216.8C345.3,216.8 339.0,217.1 336.0,216.3C333.0,215.5 332.7,216.1 332.0,212.0C331.3,207.9 329.8,195.5 332.0,192.0Z" fill="#048eca"/>
<path d="M341.0,201.0C342.2,199.9 345.5,199.5 348.0,199.5C350.5,199.5 353.8,200.1 356.0,201.0C358.2,201.9 360.2,203.6 361.0,205.0C361.8,206.4 361.3,208.2 360.5,209.5C359.7,210.8 358.1,211.9 356.0,212.5C353.9,213.1 350.3,213.2 348.0,213.0C345.7,212.8 343.2,212.2 342.0,211.0C340.8,209.8 340.7,207.7 340.5,206.0C340.3,204.3 339.8,202.1 341.0,201.0Z" fill="#0a6cc2"/>
<path d="M495.0,193.0C498.5,191.4 507.5,192.6 515.0,192.5C522.5,192.4 535.7,190.4 540.0,192.5C544.3,194.6 541.2,201.4 541.0,205.0C540.8,208.6 540.5,212.2 539.0,214.0C537.5,215.8 536.0,215.6 532.0,216.0C528.0,216.4 519.8,216.2 515.0,216.2C510.2,216.2 505.8,216.9 503.0,216.0C500.2,215.1 499.5,213.3 498.0,211.0C496.5,208.7 494.5,205.0 494.0,202.0C493.5,199.0 491.5,194.6 495.0,193.0Z" fill="#048eca"/>
<path d="M513.6,204.0C514.7,202.8 517.6,201.8 520.0,201.6C522.4,201.3 526.3,201.6 528.0,202.5C529.7,203.4 530.1,205.4 530.3,207.0C530.5,208.6 530.4,210.9 529.0,212.0C527.6,213.1 524.2,213.3 522.0,213.4C519.8,213.5 516.9,213.3 515.5,212.5C514.1,211.7 513.7,209.9 513.4,208.5C513.1,207.1 512.5,205.2 513.6,204.0Z" fill="#0a6cc2"/>
<path d="M362.4,24.0C338.8,26.3 361.4,34.4 362.4,38.0C363.4,41.6 366.2,43.2 368.3,45.8C370.4,48.4 373.4,50.6 375.2,53.6C377.0,56.6 378.1,60.2 379.1,63.5C380.1,66.8 380.8,68.4 381.1,73.3C381.4,78.2 381.1,86.5 381.1,93.0C381.1,99.5 381.5,106.8 381.1,112.6C380.7,118.4 378.8,122.4 378.5,128.0C378.2,133.6 378.7,139.8 379.1,146.0C379.5,152.2 380.8,158.5 381.1,165.0C381.4,171.5 381.5,180.0 381.1,185.0C380.8,190.0 380.4,191.7 379.0,195.0C377.6,198.3 374.6,201.7 372.8,205.0C371.0,208.3 368.8,211.0 368.0,215.0C367.2,219.0 346.1,226.7 368.0,229.0C389.9,231.3 477.6,231.3 499.5,229.0C521.4,226.7 500.2,219.0 499.5,215.0C498.8,211.0 496.4,208.3 495.0,205.0C493.6,201.7 492.2,198.3 491.0,195.0C489.8,191.7 488.6,190.0 488.0,185.0C487.4,180.0 487.5,171.5 487.5,165.0C487.5,158.5 487.6,152.2 488.0,146.0C488.4,139.8 489.2,133.6 490.0,128.0C490.8,122.4 492.7,118.4 493.0,112.6C493.3,106.8 492.3,99.5 492.0,93.0C491.7,86.5 491.0,78.2 491.0,73.3C491.0,68.4 491.7,66.8 492.0,63.5C492.3,60.2 491.9,56.6 493.0,53.6C494.1,50.6 497.1,48.4 498.9,45.8C500.7,43.2 503.0,41.6 503.8,38.0C504.6,34.4 527.4,26.3 503.8,24.0C480.2,21.7 386.0,21.7 362.4,24.0Z" fill="#9dd0ec"/>
<path d="M369.3,24.0C348.4,26.3 368.3,34.4 369.3,38.0C370.3,41.6 373.2,43.2 375.2,45.8C377.2,48.4 379.3,50.6 381.1,53.6C382.9,56.6 384.7,60.2 386.0,63.5C387.3,66.8 388.4,68.4 388.9,73.3C389.4,78.2 388.9,86.5 388.9,93.0C388.9,99.5 389.9,106.8 388.9,112.6C387.9,118.4 384.0,122.4 383.0,128.0C382.0,133.6 382.8,139.8 383.0,146.0C383.2,152.2 384.0,158.5 384.0,165.0C384.0,171.5 383.6,180.0 383.0,185.0C382.4,190.0 382.0,191.7 380.5,195.0C379.0,198.3 375.9,201.7 374.0,205.0C372.1,208.3 369.8,211.0 369.0,215.0C368.2,219.0 347.3,226.7 369.0,229.0C390.7,231.3 477.3,231.3 499.0,229.0C520.7,226.7 499.9,219.0 499.0,215.0C498.1,211.0 495.2,208.3 493.5,205.0C491.8,201.7 489.9,198.3 488.5,195.0C487.1,191.7 485.7,190.0 485.0,185.0C484.3,180.0 484.5,171.5 484.5,165.0C484.5,158.5 484.9,152.2 485.0,146.0C485.1,139.8 485.0,133.6 485.0,128.0C485.0,122.4 485.2,118.4 485.1,112.6C485.0,106.8 484.4,99.5 484.1,93.0C483.8,86.5 483.1,78.2 483.2,73.3C483.3,68.4 484.2,66.8 484.7,63.5C485.2,60.2 485.1,56.6 486.1,53.6C487.2,50.6 489.5,48.4 491.0,45.8C492.5,43.2 494.2,41.6 494.9,38.0C495.5,34.4 515.8,26.3 494.9,24.0C474.0,21.7 390.2,21.7 369.3,24.0Z" fill="#d2eaf4"/>
<path d="M376.2,24.0C357.5,26.3 375.4,34.4 376.2,38.0C377.0,41.6 379.1,43.2 381.1,45.8C383.1,48.4 385.7,50.6 388.0,53.6C390.3,56.6 393.0,60.2 394.8,63.5C396.6,66.8 397.9,68.4 398.7,73.3C399.5,78.2 400.0,86.5 399.7,93.0C399.4,99.5 398.4,106.8 396.8,112.6C395.2,118.4 391.6,122.4 390.0,128.0C388.4,133.6 387.5,139.8 387.0,146.0C386.5,152.2 387.3,158.5 387.0,165.0C386.7,171.5 385.8,180.0 385.0,185.0C384.2,190.0 383.6,191.7 382.0,195.0C380.4,198.3 377.5,201.7 375.5,205.0C373.5,208.3 370.9,211.0 370.0,215.0C369.1,219.0 348.6,226.7 370.0,229.0C391.4,231.3 477.1,231.3 498.5,229.0C519.9,226.7 499.6,219.0 498.5,215.0C497.4,211.0 494.1,208.3 492.0,205.0C489.9,201.7 487.7,198.3 486.0,195.0C484.3,191.7 482.8,190.0 482.0,185.0C481.2,180.0 481.5,171.5 481.5,165.0C481.5,158.5 482.2,152.2 482.0,146.0C481.8,139.8 480.6,133.6 480.0,128.0C479.4,122.4 478.6,118.4 478.2,112.6C477.8,106.8 477.6,99.5 477.3,93.0C477.0,86.5 476.2,78.2 476.3,73.3C476.4,68.4 477.3,66.8 477.8,63.5C478.3,60.2 478.1,56.6 479.2,53.6C480.2,50.6 482.6,48.4 484.1,45.8C485.6,43.2 487.4,41.6 488.1,38.0C488.8,34.4 506.8,26.3 488.1,24.0C469.5,21.7 394.9,21.7 376.2,24.0Z" fill="#eaf2f4"/>
<path d="M384.0,24.0C367.8,26.3 383.0,34.4 384.0,38.0C385.0,41.6 387.3,43.2 389.9,45.8C392.5,48.4 396.8,50.6 399.7,53.6C402.6,56.6 405.3,60.2 407.6,63.5C409.9,66.8 412.1,68.4 413.5,73.3C414.9,78.2 415.9,86.5 416.0,93.0C416.1,99.5 415.8,106.8 414.0,112.6C412.2,118.4 407.8,122.4 405.0,128.0C402.2,133.6 399.0,139.8 397.0,146.0C395.0,152.2 394.2,158.5 393.0,165.0C391.8,171.5 391.3,180.0 390.0,185.0C388.7,190.0 387.1,191.7 385.0,195.0C382.9,198.3 379.8,201.7 377.5,205.0C375.2,208.3 372.1,211.0 371.0,215.0C369.9,219.0 349.8,226.7 371.0,229.0C392.2,231.3 476.8,231.3 498.0,229.0C519.2,226.7 499.3,219.0 498.0,215.0C496.7,211.0 492.7,208.3 490.0,205.0C487.3,201.7 484.3,198.3 482.0,195.0C479.7,191.7 477.1,190.0 476.0,185.0C474.9,180.0 475.6,171.5 475.3,165.0C475.0,158.5 475.7,152.2 474.0,146.0C472.3,139.8 467.9,133.6 465.0,128.0C462.1,122.4 458.3,118.4 456.6,112.6C454.9,106.8 454.9,99.5 454.7,93.0C454.5,86.5 455.0,78.2 455.6,73.3C456.2,68.4 457.0,66.8 458.6,63.5C460.2,60.2 462.9,56.6 465.5,53.6C468.1,50.6 471.7,48.4 474.3,45.8C476.9,43.2 480.1,41.6 481.2,38.0C482.3,34.4 497.4,26.3 481.2,24.0C465.0,21.7 400.2,21.7 384.0,24.0Z" fill="#fcf0ec"/>
<path d="M389.0,26.0C375.8,27.3 390.7,31.4 393.8,34.0C396.9,36.6 403.0,39.6 407.6,41.9C412.2,44.2 416.4,46.0 421.3,47.8C426.2,49.6 432.6,52.6 437.0,52.7C441.4,52.9 444.0,50.2 447.8,48.7C451.6,47.2 456.0,45.9 459.6,43.8C463.2,41.7 467.2,39.0 469.4,36.0C471.6,33.0 486.4,27.7 473.0,26.0C459.6,24.3 402.2,24.7 389.0,26.0Z" fill="#fddecd"/>
<path d="M398.0,26.0C385.7,26.8 400.0,29.6 402.0,31.0C404.0,32.4 406.2,33.7 410.0,34.5C413.8,35.3 420.0,35.6 425.0,35.8C430.0,36.0 435.0,35.9 440.0,35.8C445.0,35.7 450.7,35.7 455.0,35.3C459.3,34.9 463.0,34.4 466.0,33.5C469.0,32.6 471.3,31.2 473.0,30.0C474.7,28.8 488.5,26.7 476.0,26.0C463.5,25.3 410.3,25.2 398.0,26.0Z" fill="#fcbc96"/>
<path d="M378.5,28.0C378.5,28.0 384.3,28.0 384.3,28.0C384.3,28.0 383.8,30.5 383.8,30.5C383.8,30.5 382.0,36.5 382.0,36.5C382.0,36.5 379.5,36.5 379.5,36.5C379.5,36.5 378.5,28.0 378.5,28.0Z" fill="#048eca"/>
<path d="M488.5,28.0C488.5,28.0 494.3,28.0 494.3,28.0C494.3,28.0 493.3,36.5 493.3,36.5C493.3,36.5 490.8,36.5 490.8,36.5C490.8,36.5 489.0,30.5 489.0,30.5C489.0,30.5 488.5,28.0 488.5,28.0Z" fill="#048eca"/>
<path d="M411.5,172.0C411.9,169.9 413.0,166.6 414.0,165.0C415.0,163.4 417.5,160.3 419.0,160.0C420.5,159.7 423.4,163.1 425.0,163.0C426.6,162.9 429.4,159.5 431.0,159.4C432.6,159.3 435.4,161.9 437.0,162.0C438.6,162.1 441.4,159.9 443.0,160.0C444.6,160.1 447.3,163.0 449.0,163.0C450.7,163.0 454.4,159.7 456.0,160.0C457.6,160.3 460.0,163.1 461.0,165.0C462.0,166.9 462.8,171.5 463.5,174.0C464.2,176.5 465.9,181.6 466.0,184.0C466.1,186.4 464.0,190.0 464.0,192.0C464.0,194.0 469.2,197.9 466.0,199.0C462.8,200.1 447.1,200.4 440.0,200.5C432.9,200.6 416.3,201.0 413.0,199.5C409.7,198.0 415.3,191.5 415.0,189.0C414.7,186.5 411.5,183.3 411.0,181.0C410.5,178.7 411.1,174.1 411.5,172.0Z" fill="#fddecd"/>
<path d="M426.0,176.0C426.1,174.9 429.1,172.9 430.0,173.0C430.9,173.1 433.1,175.9 433.0,177.0C432.9,178.1 429.9,181.1 429.0,181.0C428.1,180.9 425.9,177.1 426.0,176.0Z" fill="#fcf0ec"/>
<path d="M447.0,183.0C447.3,181.9 450.9,179.7 452.0,180.0C453.1,180.3 455.3,183.9 455.0,185.0C454.7,186.1 451.1,188.3 450.0,188.0C448.9,187.7 446.7,184.1 447.0,183.0Z" fill="#fcf0ec"/>
<path d="M366.5,225.5C344.2,224.0 367.0,219.3 367.5,216.5C368.0,213.7 368.4,211.1 369.5,208.6C370.6,206.1 372.1,203.2 374.0,201.6C375.9,200.0 377.8,199.4 381.0,198.8C384.2,198.2 384.2,198.1 393.0,198.0C401.8,197.9 420.3,198.0 434.0,198.0C447.7,198.0 466.2,197.9 475.0,198.0C483.8,198.1 483.8,198.2 487.0,198.8C490.2,199.4 492.1,200.0 494.0,201.6C495.9,203.2 497.4,206.1 498.5,208.6C499.6,211.1 500.0,213.7 500.5,216.5C501.0,219.3 523.8,224.0 501.5,225.5C479.2,227.0 388.8,227.0 366.5,225.5Z" fill="#fddecd"/>
<path d="M375.5,225.5C363.8,224.2 375.2,213.9 375.5,212.5C375.8,211.1 372.6,211.2 378.5,211.0C384.4,210.8 422.9,211.0 434.0,211.0C445.1,211.0 483.6,210.8 489.5,211.0C495.4,211.2 492.2,211.1 492.5,212.5C492.8,213.9 504.2,224.2 492.5,225.5C480.8,226.8 387.2,226.8 375.5,225.5Z" fill="#fcf0ec"/>
<path d="M376.5,225.5C365.0,224.4 376.2,215.9 376.5,214.7C376.8,213.5 373.8,213.3 379.5,213.2C385.2,213.0 423.1,213.2 434.0,213.2C444.9,213.2 482.8,213.0 488.5,213.2C494.2,213.3 491.2,213.5 491.5,214.7C491.8,215.9 503.0,224.4 491.5,225.5C480.0,226.6 388.0,226.6 376.5,225.5Z" fill="#eaf2f4"/>
<path d="M377.5,225.5C366.2,224.6 377.2,217.7 377.5,216.7C377.8,215.7 374.9,215.3 380.5,215.2C386.1,215.0 423.3,215.2 434.0,215.2C444.7,215.2 481.9,215.0 487.5,215.2C493.1,215.3 490.2,215.7 490.5,216.7C490.8,217.7 501.8,224.6 490.5,225.5C479.2,226.4 388.8,226.4 377.5,225.5Z" fill="#d2eaf4"/>
<path d="M378.0,225.5C366.8,224.8 377.7,219.3 378.0,218.4C378.3,217.5 375.4,217.1 381.0,216.9C386.6,216.8 423.4,216.9 434.0,216.9C444.6,216.9 481.4,216.8 487.0,216.9C492.6,217.1 489.7,217.5 490.0,218.4C490.3,219.3 501.2,224.8 490.0,225.5C478.8,226.2 389.2,226.2 378.0,225.5Z" fill="#9dd0ec"/>
<path d="M378.5,225.5C367.4,225.0 378.2,221.0 378.5,220.3C378.8,219.6 375.9,218.9 381.5,218.8C387.1,218.6 423.5,218.8 434.0,218.8C444.5,218.8 480.9,218.6 486.5,218.8C492.1,218.9 489.2,219.6 489.5,220.3C489.8,221.0 500.6,225.0 489.5,225.5C478.4,226.0 389.6,226.0 378.5,225.5Z" fill="#4eaedb"/>
<path d="M369.2,225.5C368.7,224.0 369.1,219.5 369.6,216.5C370.1,213.5 370.8,210.0 372.0,207.6C373.2,205.2 374.7,203.2 377.0,202.2C379.3,201.2 376.5,201.7 386.0,201.6C395.5,201.5 418.0,201.6 434.0,201.6C450.0,201.6 472.5,201.5 482.0,201.6C491.5,201.7 488.7,201.2 491.0,202.2C493.3,203.2 494.8,205.2 496.0,207.6C497.2,210.0 497.9,213.5 498.4,216.5C498.9,219.5 499.3,224.0 498.8,225.5C498.3,227.0 496.1,227.0 495.4,225.5C494.7,224.0 495.3,219.1 494.8,216.5C494.3,213.9 494.0,211.1 492.5,209.8C491.0,208.5 495.8,208.8 486.0,208.6C476.2,208.4 451.3,208.6 434.0,208.6C416.7,208.6 391.8,208.4 382.0,208.6C372.2,208.8 377.0,208.5 375.5,209.8C374.0,211.1 373.7,213.9 373.2,216.5C372.7,219.1 373.3,224.0 372.6,225.5C371.9,227.0 369.7,227.0 369.2,225.5Z" fill="#fcbc96"/>
<path d="M330.0,128.0C330.8,128.0 332.4,118.5 333.0,128.0C333.6,137.5 333.5,170.7 333.5,185.0C333.5,199.3 332.2,208.7 333.0,214.0C333.8,219.3 334.8,216.1 338.0,216.6C341.2,217.1 347.7,216.8 352.0,216.8C356.3,216.8 361.7,215.4 364.0,216.6C366.3,217.8 372.0,222.8 366.0,224.0C360.0,225.2 334.3,240.0 328.0,224.0C321.7,208.0 327.7,144.0 328.0,128.0C328.3,112.0 329.2,128.0 330.0,128.0Z" fill="#4eaedb"/>
<path d="M328.0,200.0C328.6,196.2 330.8,198.4 331.5,201.0C332.2,203.6 330.9,212.6 332.0,215.5C333.1,218.4 334.7,217.8 338.0,218.3C341.3,218.8 347.7,218.5 352.0,218.5C356.3,218.5 361.8,217.4 364.0,218.3C366.2,219.2 371.0,223.1 365.0,224.0C359.0,224.9 334.2,228.0 328.0,224.0C321.8,220.0 327.4,203.8 328.0,200.0Z" fill="#9dd0ec"/>
<path d="M539.0,190.0C538.2,190.0 540.5,188.3 541.0,190.0C541.5,191.7 541.8,196.3 542.0,200.0C542.2,203.7 542.3,209.4 542.0,212.0C541.7,214.6 543.7,214.7 540.0,215.4C536.3,216.1 526.0,216.3 520.0,216.4C514.0,216.5 507.3,216.0 504.0,216.0C500.7,216.0 500.7,214.9 500.0,216.2C499.3,217.5 492.3,222.7 500.0,224.0C507.7,225.3 538.3,229.7 546.0,224.0C553.7,218.3 547.2,195.7 546.0,190.0C544.8,184.3 539.8,190.0 539.0,190.0Z" fill="#4eaedb"/>
<path d="M541.5,198.0C542.2,195.3 545.2,193.7 546.0,198.0C546.8,202.3 553.3,219.7 546.0,224.0C538.7,228.3 509.2,225.0 502.0,224.0C494.8,223.0 499.5,219.2 502.5,218.2C505.5,217.2 513.8,218.1 520.0,218.0C526.2,217.9 536.3,218.1 540.0,217.4C543.7,216.7 541.8,217.2 542.0,214.0C542.2,210.8 540.8,200.7 541.5,198.0Z" fill="#9dd0ec"/>
<path d="M367.5,224.5C367.5,221.5 367.5,214.9 367.5,206.8C367.5,198.6 367.5,188.4 367.5,175.5C367.5,162.6 367.5,146.4 367.5,129.5C367.5,112.6 366.2,86.6 367.5,74.3C368.8,62.0 372.4,61.1 375.4,55.9C378.4,50.7 383.1,47.7 385.5,43.0C387.9,38.4 389.2,30.5 390.0,28.0M394.1,224.5C394.1,221.5 394.1,214.9 394.1,206.8C394.1,198.6 394.1,188.4 394.1,175.5C394.1,162.6 394.1,146.4 394.1,129.5C394.1,112.6 393.5,86.6 394.1,74.3C394.7,62.0 396.5,61.1 397.9,55.9C399.4,50.7 401.6,47.7 402.8,43.0C404.0,38.4 404.6,30.5 405.0,28.0M426.3,224.5C426.3,221.5 426.3,214.9 426.3,206.8C426.3,198.6 426.3,188.4 426.3,175.5C426.3,162.6 426.3,146.4 426.3,129.5C426.3,112.6 426.1,86.6 426.3,74.3C426.5,62.0 426.9,61.1 427.2,55.9C427.6,50.7 428.2,47.7 428.5,43.0C428.8,38.4 428.9,30.5 429.0,28.0M466.4,224.5C466.4,221.5 466.4,214.9 466.4,206.8C466.4,198.6 466.4,188.4 466.4,175.5C466.4,162.6 466.4,146.4 466.4,129.5C466.4,112.6 466.8,86.6 466.4,74.3C466.0,62.0 465.0,61.1 464.2,55.9C463.3,50.7 462.0,47.7 461.3,43.0C460.6,38.4 460.2,30.5 460.0,28.0M491.0,224.5C491.0,221.5 491.0,214.9 491.0,206.8C491.0,198.6 491.0,188.4 491.0,175.5C491.0,162.6 491.0,146.4 491.0,129.5C491.0,112.6 492.2,86.6 491.0,74.3C489.8,62.0 486.4,61.1 483.6,55.9C480.8,50.7 476.5,47.7 474.2,43.0C471.9,38.4 470.7,30.5 470.0,28.0M394.2,30.0C392.9,31.7 389.3,37.4 386.7,40.0C384.2,42.6 383.4,43.5 378.8,45.8C374.3,48.0 364.5,51.3 359.3,53.5C354.1,55.8 350.5,56.8 347.5,59.4C344.6,62.1 343.0,63.7 341.7,69.3C340.4,74.9 339.7,85.6 339.7,92.8C339.7,100.0 340.4,106.5 341.7,112.4C343.0,118.2 345.0,121.8 347.5,128.0C350.1,134.2 353.9,143.2 356.8,149.6C359.7,156.1 363.1,162.8 364.8,166.6C366.4,170.4 367.4,171.9 366.8,172.6C366.1,173.2 363.6,172.2 360.8,170.6C358.0,168.9 353.3,164.6 349.8,162.6C346.3,160.6 342.2,158.9 339.9,158.6C337.5,158.3 336.5,160.3 335.9,160.6M396.2,30.0C394.9,31.9 391.0,38.2 388.7,41.0C386.5,43.7 387.0,44.2 382.7,46.5C378.5,48.7 368.4,51.9 363.2,54.5C358.0,57.2 354.2,59.3 351.4,62.4C348.6,65.5 347.4,68.1 346.3,73.2C345.3,78.2 344.8,86.9 345.4,92.8C345.9,98.7 347.3,102.6 349.4,108.5C351.6,114.3 355.9,122.0 358.3,128.0C360.7,134.0 362.0,139.0 363.8,144.6C365.5,150.2 367.7,157.1 368.8,161.6C369.9,166.1 370.8,169.1 370.3,171.6C369.8,174.0 368.5,176.7 365.8,176.5C363.0,176.4 357.6,172.4 353.8,170.6C350.0,168.7 345.6,166.3 342.9,165.6C340.1,164.8 338.3,166.0 337.4,166.1M397.7,30.0C396.7,31.7 393.5,37.3 391.7,40.0C389.9,42.7 390.5,43.9 386.7,46.5C382.9,49.1 374.0,52.6 369.1,55.5C364.2,58.5 360.1,61.3 357.3,64.4C354.5,67.5 353.2,69.4 352.4,74.2C351.6,78.9 351.6,86.5 352.4,92.8C353.2,99.2 355.6,106.5 357.3,112.4C359.0,118.2 361.2,122.6 362.8,128.0C364.4,133.4 366.1,141.9 366.8,144.6M479.4,30.0C480.7,32.0 484.7,38.7 487.4,42.0C490.0,45.3 491.3,47.4 495.3,49.7C499.2,51.9 506.4,53.9 511.0,55.5C515.6,57.2 519.7,57.1 522.7,59.4C525.6,61.7 527.2,65.4 528.5,69.3C529.9,73.2 530.9,77.4 530.5,83.0C530.2,88.5 528.6,94.8 526.7,102.6C524.7,110.4 521.0,121.9 518.8,129.7C516.6,137.5 514.5,143.8 513.3,149.6C512.1,155.4 511.0,160.9 511.3,164.6C511.6,168.2 512.8,170.7 515.3,171.6C517.8,172.4 522.9,171.1 526.3,169.6C529.6,168.1 533.4,165.9 535.2,162.6C537.1,159.3 536.9,151.8 537.2,149.6M480.9,30.0C482.6,31.9 488.0,38.2 491.4,41.0C494.8,43.8 497.2,45.2 501.3,47.0C505.5,48.7 511.6,50.0 516.3,51.5C520.9,52.9 526.1,53.7 529.2,55.4C532.4,57.2 533.7,58.7 535.2,61.9C536.7,65.2 537.5,68.6 538.2,74.9C538.9,81.2 538.9,90.7 539.2,99.8C539.5,108.9 540.0,124.7 540.2,129.7M346.8,127.7C347.3,129.7 348.0,134.3 349.8,139.7C351.7,145.0 355.5,153.8 357.8,159.6C360.1,165.4 362.1,171.2 363.8,174.5C365.5,177.9 368.4,179.0 367.8,179.5C367.1,180.0 363.1,178.7 359.8,177.5C356.5,176.4 351.5,173.9 347.8,172.6C344.2,171.2 339.5,170.1 337.9,169.6M506.3,129.7C506.2,133.0 505.7,143.0 505.3,149.6C505.0,156.3 504.0,164.9 504.3,169.6C504.7,174.2 505.3,175.9 507.3,177.5C509.3,179.2 512.6,179.9 516.3,179.5C519.9,179.2 525.8,177.5 529.2,175.5C532.7,173.6 535.9,168.9 537.2,167.6M366.5,223.0C367.0,222.2 368.1,219.7 369.5,218.5C370.9,217.3 372.9,216.3 375.0,216.0C377.1,215.7 380.2,215.9 382.0,216.6C383.8,217.3 385.2,218.9 386.0,220.0C386.8,221.1 386.8,222.5 387.0,223.0M489.0,223.0C489.3,222.4 489.8,220.6 491.0,219.5C492.2,218.4 494.2,216.7 496.0,216.2C497.8,215.7 500.3,215.8 502.0,216.4C503.7,217.0 505.2,218.4 506.0,219.5C506.8,220.6 506.8,222.4 507.0,223.0M363.5,212.3L361.6,214.1L359.1,215.7L356.3,216.8L353.1,217.5L349.9,217.8L346.6,217.6L343.5,216.9L340.7,215.8L338.3,214.3L336.4,212.5L335.1,210.5L334.4,208.3L334.4,206.2L335.0,204.0L336.3,202.0L338.1,200.3L340.5,198.9L343.1,197.8L346.1,197.1L349.2,196.9L352.2,197.1L355.1,197.7L357.8,198.8L360.0,200.2L361.8,201.8L363.0,203.7L363.7,205.7L363.7,207.8L363.1,209.8L361.9,211.6L361.9,211.6M360.0,210.9L358.6,212.3L356.7,213.5L354.6,214.3L352.2,214.9L349.8,215.0L347.3,214.9L345.0,214.4L342.9,213.5L341.1,212.4L339.7,211.1L338.7,209.6L338.2,208.0L338.2,206.4L338.6,204.8L339.6,203.3L341.0,202.0L342.7,200.9L344.7,200.1L346.9,199.6L349.2,199.5L351.5,199.6L353.7,200.1L355.7,200.9L357.4,201.9L358.7,203.2L359.6,204.6L360.1,206.1L360.1,207.6L359.7,209.1L358.8,210.5L358.8,210.5M357.0,209.8L355.9,210.8L354.6,211.6L353.1,212.2L351.4,212.6L349.7,212.7L348.0,212.6L346.3,212.2L344.8,211.6L343.5,210.8L342.5,209.9L341.8,208.8L341.5,207.7L341.5,206.6L341.8,205.4L342.5,204.4L343.5,203.5L344.7,202.7L346.1,202.1L347.7,201.8L349.3,201.7L350.9,201.8L352.5,202.1L353.9,202.7L355.1,203.4L356.0,204.3L356.7,205.3L357.0,206.3L357.0,207.4L356.7,208.5L356.1,209.4L356.1,209.4M353.9,208.7L353.3,209.3L352.5,209.8L351.6,210.1L350.6,210.4L349.6,210.4L348.6,210.4L347.6,210.1L346.7,209.8L346.0,209.3L345.4,208.7L345.0,208.1L344.8,207.4L344.8,206.7L345.0,206.1L345.4,205.4L345.9,204.9L346.7,204.4L347.5,204.1L348.4,203.9L349.4,203.8L350.3,203.8L351.3,204.1L352.1,204.4L352.8,204.8L353.3,205.4L353.7,206.0L353.9,206.6L353.9,207.3L353.7,207.9L353.4,208.5L353.4,208.5M351.4,207.8L351.2,208.0L350.8,208.3L350.4,208.4L350.0,208.5L349.6,208.6L349.1,208.5L348.7,208.4L348.3,208.3L348.0,208.1L347.7,207.8L347.5,207.5L347.4,207.2L347.4,206.9L347.5,206.6L347.7,206.3L347.9,206.0L348.3,205.8L348.6,205.7L349.0,205.6L349.5,205.5L349.9,205.6L350.3,205.7L350.6,205.8L350.9,206.0L351.2,206.3L351.4,206.5L351.4,206.8L351.4,207.1L351.4,207.4L351.2,207.7L351.2,207.7M515.4,218.0L512.4,216.7L509.8,215.1L507.8,213.1L506.5,210.9L505.9,208.6L506.0,206.2L506.8,203.9L508.3,201.8L510.4,200.0L513.0,198.4L516.0,197.3L519.3,196.7L522.7,196.5L526.0,196.8L529.2,197.6L532.1,198.8L534.5,200.3L536.4,202.2L537.7,204.3L538.3,206.5L538.2,208.7L537.4,210.9L536.0,212.9L534.0,214.7L531.5,216.1L528.7,217.1L525.6,217.8L522.3,217.9L519.2,217.6L516.1,216.9L516.1,216.9M517.1,215.2L514.8,214.3L512.8,213.1L511.3,211.6L510.3,210.0L509.8,208.3L509.8,206.5L510.5,204.9L511.6,203.3L513.2,201.9L515.2,200.8L517.5,200.0L520.0,199.5L522.6,199.4L525.2,199.6L527.6,200.2L529.8,201.0L531.7,202.2L533.1,203.6L534.1,205.1L534.6,206.8L534.5,208.4L533.9,210.0L532.8,211.5L531.3,212.8L529.4,213.9L527.2,214.6L524.8,215.1L522.4,215.2L519.9,215.0L517.6,214.5L517.6,214.5" fill="none" stroke="#000" stroke-opacity="0.55" stroke-width="0.75" stroke-linejoin="round"/><path d="M367.5,207.2L368.5,209.8L366.5,209.8ZM367.5,173.2L368.5,175.8L366.5,175.8ZM367.5,139.2L368.5,141.8L366.5,141.8ZM367.1,105.2L368.1,107.8L366.2,107.8ZM367.9,71.2L368.5,74.0L366.6,73.7ZM385.6,42.8L385.2,45.6L383.5,44.5ZM394.1,207.2L395.1,209.8L393.1,209.8ZM394.1,173.2L395.1,175.8L393.1,175.8ZM394.1,139.2L395.1,141.8L393.1,141.8ZM393.9,105.2L394.9,107.8L392.9,107.8ZM394.3,71.2L395.1,73.9L393.1,73.8ZM403.7,38.7L404.2,41.5L402.2,41.1ZM426.3,207.2L427.3,209.8L425.3,209.8ZM426.3,173.2L427.3,175.8L425.3,175.8ZM426.3,139.2L427.3,141.8L425.3,141.8ZM426.3,105.2L427.2,107.8L425.3,107.8ZM426.3,71.2L427.3,73.8L425.3,73.8ZM428.7,37.3L429.6,40.0L427.6,39.9ZM466.4,207.2L467.4,209.8L465.4,209.8ZM466.4,173.2L467.4,175.8L465.4,175.8ZM466.4,139.2L467.4,141.8L465.4,141.8ZM466.5,105.2L467.5,107.8L465.5,107.8ZM466.3,71.2L467.4,73.8L465.4,73.9ZM460.7,37.7L461.9,40.2L460.0,40.4ZM491.0,207.2L492.0,209.8L490.0,209.8ZM491.0,173.2L492.0,175.8L490.0,175.8ZM491.0,139.2L492.0,141.8L490.0,141.8ZM491.4,105.2L492.3,107.8L490.3,107.8ZM490.6,71.2L491.9,73.7L490.0,74.0ZM473.7,42.2L475.9,44.0L474.2,45.0ZM383.2,43.3L384.6,40.9L385.8,42.4ZM351.9,56.6L354.0,54.7L354.8,56.5ZM339.8,86.2L339.0,83.5L340.9,83.6ZM344.0,119.7L342.1,117.6L344.0,116.9ZM357.4,150.9L355.4,148.9L357.2,148.1ZM357.7,168.4L360.4,169.2L359.3,170.8ZM386.3,44.2L387.0,41.5L388.6,42.7ZM355.7,58.8L357.3,56.5L358.4,58.2ZM345.2,89.5L344.2,86.8L346.1,86.8ZM355.4,121.6L353.4,119.6L355.2,118.8ZM366.6,153.6L364.8,151.4L366.7,150.8ZM358.3,173.1L361.1,173.6L360.1,175.3ZM388.9,45.0L389.4,42.2L391.1,43.2ZM359.6,62.1L361.1,59.7L362.3,61.3ZM352.5,93.8L351.2,91.3L353.2,91.0ZM362.3,126.3L360.5,124.1L362.3,123.5ZM489.2,44.3L486.8,42.8L488.3,41.6ZM519.7,57.8L516.9,58.1L517.4,56.2ZM530.0,88.0L529.3,85.3L531.3,85.5ZM521.4,120.9L521.2,118.1L523.1,118.7ZM512.4,153.7L512.0,150.9L513.9,151.3ZM529.1,168.1L527.2,170.2L526.3,168.5ZM493.0,42.3L490.4,41.5L491.6,39.9ZM524.8,53.7L522.0,54.0L522.6,52.1ZM538.7,81.8L537.6,79.2L539.5,79.1ZM539.8,115.8L538.7,113.1L540.7,113.1ZM351.6,144.3L349.7,142.2L351.6,141.5ZM364.6,175.7L362.3,174.1L363.9,173.0ZM340.5,170.3L343.3,170.1L342.8,172.0ZM505.5,147.0L504.6,144.3L506.6,144.4ZM509.5,179.0L506.7,178.3L507.8,176.7ZM380.8,216.2L378.0,216.9L378.3,214.9ZM503.1,216.7L500.3,217.0L500.8,215.1Z" fill="#000" fill-opacity="0.55"/><path d="M532.5,208.5L532.4,209.3L532.2,210.2L531.8,211.0L531.2,211.8L530.5,212.5L529.7,213.1L528.8,213.7L527.8,214.1L526.6,214.5L525.5,214.8L524.2,214.9L523.0,215.0L521.8,214.9L520.5,214.8L519.4,214.5L518.2,214.1L517.2,213.7L516.3,213.1L515.5,212.5L514.8,211.8L514.2,211.0L513.8,210.2L513.6,209.3L513.5,208.5L513.6,207.7L513.8,206.8L514.2,206.0L514.8,205.2L515.5,204.5L516.3,203.9L517.2,203.3L518.2,202.9L519.4,202.5L520.5,202.2L521.8,202.1L523.0,202.0L524.2,202.1L525.5,202.2L526.6,202.5L527.8,202.9L528.8,203.3L529.7,203.9L530.5,204.5L531.2,205.2L531.8,206.0L532.2,206.8L532.4,207.7L532.5,208.5Z" fill="none" stroke="#000" stroke-width="1.9"/>
</g>
<path d="M330.30,37.50V221.50H542.60" fill="none" stroke="#111" stroke-width="1.1"/>
<path d="M330.30,193.19h5M330.30,157.80h5M330.30,122.42h5M330.30,87.04h5M330.30,51.65h5M330.30,221.50v-5M365.68,221.50v-5M401.07,221.50v-5M436.45,221.50v-5M471.83,221.50v-5M507.22,221.50v-5M542.60,221.50v-5" stroke="#111" stroke-width="1.2" fill="none"/>
<path d="M330.30,214.42h2M330.30,207.34h2M330.30,200.26h2M330.30,186.11h2M330.30,179.03h2M330.30,171.96h2M330.30,164.88h2M330.30,150.73h2M330.30,143.65h2M330.30,136.57h2M330.30,129.50h2M330.30,115.34h2M330.30,108.27h2M330.30,101.19h2M330.30,94.11h2M330.30,79.96h2M330.30,72.88h2M330.30,65.81h2M330.30,58.73h2M330.30,44.58h2M330.30,37.50h2M337.38,221.50v-2M344.45,221.50v-2M351.53,221.50v-2M358.61,221.50v-2M372.76,221.50v-2M379.84,221.50v-2M386.91,221.50v-2M393.99,221.50v-2M408.14,221.50v-2M415.22,221.50v-2M422.30,221.50v-2M429.37,221.50v-2M443.53,221.50v-2M450.60,221.50v-2M457.68,221.50v-2M464.76,221.50v-2M478.91,221.50v-2M485.99,221.50v-2M493.06,221.50v-2M500.14,221.50v-2M514.29,221.50v-2M521.37,221.50v-2M528.45,221.50v-2M535.52,221.50v-2" stroke="#222" stroke-width="0.6" stroke-opacity="0.6" fill="none"/>
<g font-family="'Liberation Sans', Arial, sans-serif" font-size="7.2" fill="#222" stroke="#222" stroke-width="0.22"><text x="327.50" y="195.69" text-anchor="end">0.5</text><text x="327.50" y="160.30" text-anchor="end">1</text><text x="327.50" y="124.92" text-anchor="end">1.5</text><text x="327.50" y="89.54" text-anchor="end">2</text><text x="327.50" y="54.15" text-anchor="end">2.5</text><text x="330.30" y="229.80" text-anchor="middle">-1.5</text><text x="365.68" y="229.80" text-anchor="middle">-1</text><text x="401.07" y="229.80" text-anchor="middle">-0.5</text><text x="436.45" y="229.80" text-anchor="middle">0</text><text x="471.83" y="229.80" text-anchor="middle">0.5</text><text x="507.22" y="229.80" text-anchor="middle">1</text><text x="542.60" y="229.80" text-anchor="middle">1.5</text></g>
<text x="440.5" y="238.0" text-anchor="middle" font-family="'Liberation Sans', Arial, sans-serif" font-weight="bold" font-size="8.7" fill="#111">X/m</text>
<text transform="translate(313.7,126.4) rotate(-90)" text-anchor="middle" font-family="'Liberation Sans', Arial, sans-serif" font-weight="bold" font-size="8.9" fill="#111">Y/m</text>
<text x="321.8" y="31.8" font-family="'Liberation Serif', 'Times New Roman', serif" font-size="9.6" fill="#111" stroke="#111" stroke-width="0.2">MC</text>
<text x="441.6" y="254.8" text-anchor="middle" font-family="'Liberation Serif', 'Times New Roman', serif" font-size="15.5" fill="#111" stroke="#111" stroke-width="0.45">(b)</text>
<g font-family="'Liberation Sans', Arial, sans-serif" font-size="7.2" fill="#222"><rect x="363.10" y="3.3" width="6.31" height="11.00" fill="#0a6cc2"/><rect x="369.36" y="3.3" width="12.58" height="11.00" fill="#048eca"/><rect x="381.89" y="3.3" width="12.58" height="11.00" fill="#4eaedb"/><rect x="394.42" y="3.3" width="12.58" height="11.00" fill="#9dd0ec"/><rect x="406.95" y="3.3" width="12.58" height="11.00" fill="#d2eaf4"/><rect x="419.47" y="3.3" width="12.58" height="11.00" fill="#eaf2f4"/><rect x="432.00" y="3.3" width="12.58" height="11.00" fill="#fcf0ec"/><rect x="444.53" y="3.3" width="12.58" height="11.00" fill="#fddecd"/><rect x="457.05" y="3.3" width="12.58" height="11.00" fill="#fcbc96"/><rect x="469.58" y="3.3" width="12.58" height="11.00" fill="#fa8c64"/><rect x="482.11" y="3.3" width="12.58" height="11.00" fill="#f05046"/><rect x="494.64" y="3.3" width="6.31" height="11.00" fill="#d71428"/><path d="M369.36,3.3V14.3M381.89,3.3V14.3M394.42,3.3V14.3M406.95,3.3V14.3M419.47,3.3V14.3M432.00,3.3V14.3M444.53,3.3V14.3M457.05,3.3V14.3M469.58,3.3V14.3M482.11,3.3V14.3M494.64,3.3V14.3" stroke="#333" stroke-width="0.6" stroke-opacity="0.85"/><rect x="363.1" y="3.3" width="137.80" height="11.00" fill="none" stroke="#333" stroke-width="0.6"/><text x="369.36" y="23.6" text-anchor="middle" stroke="#222" stroke-width="0.22">0.1</text><text x="381.89" y="23.6" text-anchor="middle" stroke="#222" stroke-width="0.22">0.2</text><text x="394.42" y="23.6" text-anchor="middle" stroke="#222" stroke-width="0.22">0.3</text><text x="406.95" y="23.6" text-anchor="middle" stroke="#222" stroke-width="0.22">0.4</text><text x="419.47" y="23.6" text-anchor="middle" stroke="#222" stroke-width="0.22">0.5</text><text x="432.00" y="23.6" text-anchor="middle" stroke="#222" stroke-width="0.22">0.6</text><text x="444.53" y="23.6" text-anchor="middle" stroke="#222" stroke-width="0.22">0.7</text><text x="457.05" y="23.6" text-anchor="middle" stroke="#222" stroke-width="0.22">0.8</text><text x="469.58" y="23.6" text-anchor="middle" stroke="#222" stroke-width="0.22">0.9</text><text x="482.11" y="23.6" text-anchor="middle" stroke="#222" stroke-width="0.22">1</text><text x="494.64" y="23.6" text-anchor="middle" stroke="#222" stroke-width="0.22">1.1</text></g>
<clipPath id="clipc"><path d="M28.8,488.7L28.8,304.4L78.2,304.4L78.2,297.0L192.5,297.0L192.5,304.4L241.8,304.4L241.8,488.7Z"/></clipPath>
<g clip-path="url(#clipc)">
<rect x="28.8" y="297.0" width="213.0" height="191.7" fill="#048eca"/>
<path d="M20.0,290.0C20.0,290.0 250.0,290.0 250.0,290.0C250.0,290.0 250.0,495.0 250.0,495.0C250.0,495.0 20.0,495.0 20.0,495.0C20.0,495.0 20.0,290.0 20.0,290.0Z" fill="#4eaedb"/>
<path d="M44.0,311.5C46.9,311.0 52.0,310.4 56.0,310.3C60.0,310.2 64.8,310.4 68.0,311.2C71.2,312.0 73.8,312.6 75.5,315.0C77.2,317.4 77.7,320.5 78.1,325.5C78.5,330.5 78.4,338.4 78.1,345.0C77.8,351.6 76.6,358.2 76.1,364.8C75.6,371.4 75.5,379.7 75.2,384.4C74.9,389.1 73.9,388.3 74.2,393.0C74.5,397.7 76.6,406.1 77.1,412.6C77.6,419.2 77.4,425.7 77.1,432.3C76.8,438.9 76.2,447.1 75.2,452.0C74.2,456.9 72.5,458.5 71.2,461.8C69.9,465.1 68.5,468.2 67.3,471.6C66.1,475.0 66.9,479.9 64.0,482.0C61.1,484.1 54.7,483.7 50.0,484.0C45.3,484.3 38.7,486.3 36.0,484.0C33.3,481.7 34.4,477.3 34.0,470.0C33.6,462.7 33.8,451.7 33.8,440.0C33.8,428.3 33.8,413.3 33.8,400.0C33.8,386.7 33.9,371.7 34.0,360.0C34.1,348.3 34.2,337.0 34.5,330.0C34.8,323.0 34.8,320.8 35.5,318.0C36.2,315.2 37.1,314.6 38.5,313.5C39.9,312.4 41.1,312.0 44.0,311.5Z" fill="#048eca"/>
<path d="M54.0,317.0C51.8,317.3 49.2,317.5 48.0,319.0C46.8,320.5 46.9,321.7 46.7,326.0C46.5,330.3 46.7,338.5 46.7,345.0C46.7,351.5 47.8,358.3 46.7,365.0C45.6,371.7 41.5,380.3 40.0,385.0C38.5,389.7 38.7,388.5 38.0,393.0C37.3,397.5 36.5,405.5 36.0,412.0C35.5,418.5 35.2,427.3 35.0,432.0C34.8,436.7 32.5,438.0 35.0,440.0C37.5,442.0 44.8,444.0 50.0,444.0C55.2,444.0 63.2,442.0 66.0,440.0C68.8,438.0 66.5,436.7 67.0,432.0C67.5,427.3 69.5,418.5 69.3,412.0C69.1,405.5 67.4,397.5 66.0,393.0C64.6,388.5 62.0,389.7 61.0,385.0C60.0,380.3 59.7,371.7 60.0,365.0C60.3,358.3 61.3,351.5 63.0,345.0C64.7,338.5 69.3,330.3 70.0,326.0C70.7,321.7 68.5,320.5 67.0,319.0C65.5,317.5 63.2,317.3 61.0,317.0C58.8,316.7 56.2,316.7 54.0,317.0Z" fill="#0a6cc2"/>
<path d="M36.0,458.0C38.1,456.0 44.0,456.0 48.0,456.0C52.0,456.0 57.0,456.8 60.0,458.0C63.0,459.2 65.0,460.7 66.0,463.0C67.0,465.3 66.7,469.3 66.0,472.0C65.3,474.7 64.3,477.4 62.0,479.0C59.7,480.6 55.3,481.1 52.0,481.4C48.7,481.7 44.6,481.7 42.0,481.0C39.4,480.3 37.6,479.2 36.5,477.0C35.4,474.8 35.6,471.2 35.5,468.0C35.4,464.8 33.9,460.0 36.0,458.0Z" fill="#0a6cc2"/>
<path d="M196.0,311.0C197.8,308.2 200.2,308.9 205.0,308.5C209.8,308.1 220.5,308.3 225.0,308.5C229.5,308.7 230.6,308.6 232.0,309.5C233.4,310.4 233.3,310.6 233.5,314.0C233.7,317.4 233.2,322.3 233.2,330.0C233.2,337.7 233.3,350.0 233.5,360.0C233.7,370.0 234.0,381.3 234.5,390.0C235.0,398.7 236.0,405.0 236.5,412.0C237.0,419.0 237.3,424.8 237.5,432.0C237.7,439.2 237.5,448.7 237.5,455.0C237.5,461.3 237.6,465.5 237.5,470.0C237.4,474.5 239.1,479.7 237.0,482.0C234.9,484.3 230.3,483.7 225.0,484.0C219.7,484.3 209.1,484.3 205.0,484.0C200.9,483.7 201.4,484.0 200.5,482.0C199.6,480.0 200.2,475.4 199.8,472.0C199.4,468.6 198.7,465.1 197.9,461.8C197.1,458.5 195.7,456.9 194.9,452.0C194.1,447.1 193.7,438.9 193.0,432.3C192.3,425.7 191.3,419.2 191.0,412.6C190.7,406.1 190.5,397.7 191.0,393.0C191.5,388.3 193.5,389.1 194.0,384.4C194.5,379.7 194.0,371.4 194.0,364.8C194.0,358.2 194.0,351.6 194.0,345.0C194.0,338.4 193.7,331.2 194.0,325.5C194.3,319.8 194.2,313.8 196.0,311.0Z" fill="#048eca"/>
<path d="M210.0,313.5C207.3,313.9 206.4,313.6 205.7,315.6C205.0,317.6 205.4,322.3 205.7,325.5C206.0,328.7 207.5,331.8 207.7,335.0C207.9,338.2 206.7,340.0 206.7,345.0C206.7,350.0 207.2,358.5 207.7,365.0C208.2,371.5 209.4,379.3 209.7,384.0C210.0,388.7 211.3,389.5 209.7,393.0C208.1,396.5 202.0,401.7 200.0,405.0C198.0,408.3 198.9,408.1 197.9,412.6C196.9,417.2 194.3,425.7 194.0,432.3C193.7,438.9 194.2,447.7 196.0,452.0C197.8,456.3 200.2,457.0 205.0,458.0C209.8,459.0 219.7,458.5 225.0,458.0C230.3,457.5 234.9,458.0 237.0,455.0C239.1,452.0 237.7,447.1 237.4,440.0C237.1,432.9 236.8,419.3 235.2,412.6C233.6,405.9 229.6,403.3 228.0,400.0C226.4,396.7 226.5,395.7 225.4,393.0C224.3,390.3 222.4,388.7 221.4,384.0C220.4,379.3 220.2,371.5 219.5,365.0C218.8,358.5 217.2,350.0 217.5,345.0C217.8,340.0 220.4,338.2 221.4,335.0C222.4,331.8 222.4,328.7 223.4,325.5C224.4,322.3 227.5,317.7 227.3,315.6C227.1,313.5 224.9,313.4 222.0,313.0C219.1,312.6 212.7,313.1 210.0,313.5Z" fill="#0a6cc2"/>
<path d="M209.7,469.0C210.8,467.4 213.4,466.2 216.0,465.7C218.6,465.2 222.8,465.3 225.0,466.0C227.2,466.7 228.7,468.3 229.3,470.0C229.9,471.7 229.7,474.4 228.5,476.0C227.3,477.6 224.4,478.9 222.0,479.4C219.6,479.9 216.1,479.7 214.0,479.0C211.9,478.3 210.2,476.7 209.5,475.0C208.8,473.3 208.6,470.6 209.7,469.0Z" fill="#0a6cc2"/>
<path d="M81.0,292.0C62.5,294.3 80.8,300.4 81.0,306.0C81.2,311.6 81.3,319.0 82.0,325.5C82.7,332.0 84.3,338.4 85.0,345.0C85.7,351.6 86.3,358.2 86.0,364.8C85.7,371.4 84.1,379.7 83.0,384.4C81.9,389.1 80.0,388.3 79.5,393.0C79.0,397.7 79.9,406.1 80.0,412.6C80.1,419.2 80.2,425.7 80.0,432.3C79.8,438.9 79.8,447.1 79.0,452.0C78.2,456.9 76.5,458.7 75.0,462.0C73.5,465.3 71.3,468.7 70.0,472.0C68.7,475.3 67.5,478.0 67.0,482.0C66.5,486.0 44.8,493.7 67.0,496.0C89.2,498.3 177.8,498.3 200.0,496.0C222.2,493.7 200.3,486.0 200.0,482.0C199.7,478.0 198.8,475.3 198.0,472.0C197.2,468.7 196.0,465.3 195.0,462.0C194.0,458.7 193.0,456.9 192.0,452.0C191.0,447.1 189.8,438.9 189.0,432.3C188.2,425.7 187.3,419.2 187.1,412.6C186.8,406.1 187.2,397.7 187.5,393.0C187.8,388.3 188.9,389.1 189.0,384.4C189.1,379.7 188.2,371.4 188.0,364.8C187.8,358.2 187.8,351.6 188.0,345.0C188.2,338.4 188.3,332.0 189.0,325.5C189.7,319.0 191.5,311.6 192.0,306.0C192.5,300.4 210.5,294.3 192.0,292.0C173.5,289.7 99.5,289.7 81.0,292.0Z" fill="#9dd0ec"/>
<path d="M85.0,292.0C67.8,294.3 84.7,300.4 85.0,306.0C85.3,311.6 86.3,319.0 87.0,325.5C87.7,332.0 88.7,338.4 89.0,345.0C89.3,351.6 89.3,358.2 89.0,364.8C88.7,371.4 87.7,379.7 87.0,384.4C86.3,389.1 85.7,388.3 85.0,393.0C84.3,397.7 83.3,406.1 83.0,412.6C82.7,419.2 83.2,425.7 83.0,432.3C82.8,438.9 82.5,447.1 81.5,452.0C80.5,456.9 78.7,458.7 77.0,462.0C75.3,465.3 73.0,468.7 71.5,472.0C70.0,475.3 68.6,478.0 68.0,482.0C67.4,486.0 46.1,493.7 68.0,496.0C89.9,498.3 177.6,498.3 199.5,496.0C221.4,493.7 199.9,486.0 199.5,482.0C199.1,478.0 198.1,475.3 197.0,472.0C195.9,468.7 194.3,465.3 193.0,462.0C191.7,458.7 190.2,456.9 189.0,452.0C187.8,447.1 186.9,438.9 186.1,432.3C185.3,425.7 184.5,419.2 184.1,412.6C183.7,406.1 183.5,397.7 183.5,393.0C183.5,388.3 184.2,389.1 184.1,384.4C184.0,379.7 183.3,371.4 183.1,364.8C182.9,358.2 182.9,351.6 183.1,345.0C183.3,338.4 183.3,332.0 184.1,325.5C184.9,319.0 187.3,311.6 188.0,306.0C188.7,300.4 205.2,294.3 188.0,292.0C170.8,289.7 102.2,289.7 85.0,292.0Z" fill="#d2eaf4"/>
<path d="M87.0,292.0C70.8,294.3 86.3,300.4 87.0,306.0C87.7,311.6 89.9,319.0 90.9,325.5C91.9,332.0 92.5,338.4 92.8,345.0C93.1,351.6 93.1,358.2 92.8,364.8C92.5,371.4 91.7,379.7 90.9,384.4C90.1,389.1 89.0,388.3 88.0,393.0C87.0,397.7 85.5,406.1 85.0,412.6C84.5,419.2 85.2,425.7 85.0,432.3C84.8,438.9 84.6,447.1 83.5,452.0C82.4,456.9 80.2,458.7 78.5,462.0C76.8,465.3 74.6,468.7 73.0,472.0C71.4,475.3 69.7,478.0 69.0,482.0C68.3,486.0 47.3,493.7 69.0,496.0C90.7,498.3 177.3,498.3 199.0,496.0C220.7,493.7 199.5,486.0 199.0,482.0C198.5,478.0 197.3,475.3 196.0,472.0C194.7,468.7 192.7,465.3 191.0,462.0C189.3,458.7 187.4,456.9 186.1,452.0C184.8,447.1 183.9,438.9 183.1,432.3C182.3,425.7 181.8,419.2 181.2,412.6C180.6,406.1 179.7,397.7 179.5,393.0C179.3,388.3 180.2,389.1 180.2,384.4C180.1,379.7 179.4,371.4 179.2,364.8C179.0,358.2 179.0,351.6 179.2,345.0C179.4,338.4 179.4,332.0 180.2,325.5C181.0,319.0 183.4,311.6 184.1,306.0C184.8,300.4 200.3,294.3 184.1,292.0C167.9,289.7 103.2,289.7 87.0,292.0Z" fill="#eaf2f4"/>
<path d="M89.0,292.0C73.8,294.3 88.0,300.4 89.0,306.0C90.0,311.6 92.8,319.0 94.8,325.5C96.8,332.0 99.4,338.4 100.7,345.0C102.0,351.6 103.2,358.2 102.7,364.8C102.2,371.4 99.3,379.7 98.0,384.4C96.7,389.1 96.5,388.3 95.0,393.0C93.5,397.7 90.0,406.1 89.0,412.6C88.0,419.2 89.3,425.7 89.0,432.3C88.7,438.9 88.3,447.1 87.0,452.0C85.7,456.9 83.0,458.7 81.0,462.0C79.0,465.3 76.8,468.7 75.0,472.0C73.2,475.3 70.8,478.0 70.0,482.0C69.2,486.0 48.6,493.7 70.0,496.0C91.4,498.3 177.1,498.3 198.5,496.0C219.9,493.7 199.1,486.0 198.5,482.0C197.9,478.0 196.8,475.3 195.0,472.0C193.2,468.7 190.1,465.3 188.0,462.0C185.9,458.7 183.8,456.9 182.2,452.0C180.6,447.1 179.2,438.9 178.2,432.3C177.2,425.7 177.7,419.2 176.3,412.6C174.9,406.1 171.7,397.7 170.0,393.0C168.3,388.3 167.2,389.1 166.0,384.4C164.8,379.7 162.8,371.4 162.5,364.8C162.2,358.2 163.2,351.6 164.5,345.0C165.8,338.4 167.8,332.0 170.4,325.5C173.0,319.0 178.6,311.6 180.2,306.0C181.8,300.4 195.4,294.3 180.2,292.0C165.0,289.7 104.2,289.7 89.0,292.0Z" fill="#fcf0ec"/>
<path d="M26.0,300.0C35.3,298.8 72.8,298.9 82.0,300.0C91.2,301.1 84.7,305.3 81.0,306.5C77.3,307.7 66.8,307.1 60.0,307.3C53.2,307.5 45.7,307.5 40.0,307.5C34.3,307.5 28.3,308.8 26.0,307.5C23.7,306.2 16.7,301.2 26.0,300.0Z" fill="#9dd0ec"/>
<path d="M191.0,300.0C200.0,298.9 236.8,298.8 246.0,300.0C255.2,301.2 248.7,306.2 246.0,307.5C243.3,308.8 236.8,307.5 230.0,307.5C223.2,307.5 211.3,307.5 205.0,307.3C198.7,307.1 194.3,307.7 192.0,306.5C189.7,305.3 182.0,301.1 191.0,300.0Z" fill="#9dd0ec"/>
<path d="M92.0,290.0C77.7,291.7 93.8,296.7 95.0,300.0C96.2,303.3 97.7,306.3 99.0,310.0C100.3,313.7 102.4,315.7 103.0,322.0C103.6,328.3 102.8,340.8 102.6,348.0C102.3,355.2 101.5,356.8 101.5,365.0C101.5,373.2 102.5,387.8 102.6,397.0C102.6,406.2 101.7,412.0 101.8,420.0C101.9,428.0 102.5,438.0 103.0,445.0C103.5,452.0 98.3,458.5 104.5,462.0C110.7,465.5 128.2,465.8 140.0,466.0C151.8,466.2 169.0,466.5 175.0,463.0C181.0,459.5 175.6,452.2 176.0,445.0C176.4,437.8 177.4,428.0 177.5,420.0C177.6,412.0 177.2,405.3 176.8,397.0C176.4,388.7 175.6,378.2 175.0,370.0C174.4,361.8 174.0,355.0 173.5,348.0C173.0,341.0 171.6,334.3 172.0,328.0C172.4,321.7 174.8,314.7 176.0,310.0C177.2,305.3 178.2,303.3 179.0,300.0C179.8,296.7 195.5,291.7 181.0,290.0C166.5,288.3 106.3,288.3 92.0,290.0Z" fill="#fddecd"/>
<path d="M101.0,372.0C101.2,369.7 103.2,367.3 104.0,368.0C104.8,368.7 106.2,373.7 106.0,376.0C105.8,378.3 103.8,382.7 103.0,382.0C102.2,381.3 100.8,374.3 101.0,372.0Z" fill="#fcf0ec"/>
<path d="M172.0,405.0C172.3,402.7 175.0,399.2 176.0,400.0C177.0,400.8 178.3,407.7 178.0,410.0C177.7,412.3 175.0,414.8 174.0,414.0C173.0,413.2 171.7,407.3 172.0,405.0Z" fill="#fcf0ec"/>
<path d="M100.0,290.0C91.7,290.9 101.7,295.1 103.0,297.0C104.3,298.9 107.5,302.8 110.0,304.5C112.5,306.2 118.8,308.9 122.0,309.8C125.2,310.7 131.0,311.4 134.2,311.4C137.4,311.4 143.0,310.7 146.0,309.8C149.0,308.9 154.9,306.2 157.0,304.5C159.1,302.8 160.9,298.9 162.0,297.0C163.1,295.1 173.3,290.9 165.0,290.0C156.7,289.1 108.3,289.1 100.0,290.0Z" fill="#fcbc96"/>
<path d="M77.2,295.0C77.2,295.0 83.5,295.0 83.5,295.0C83.5,295.0 83.0,297.5 83.0,297.5C83.0,297.5 80.7,303.0 80.7,303.0C80.7,303.0 78.2,303.0 78.2,303.0C78.2,303.0 77.2,295.0 77.2,295.0Z" fill="#048eca"/>
<path d="M187.2,295.0C187.2,295.0 193.5,295.0 193.5,295.0C193.5,295.0 192.5,303.0 192.5,303.0C192.5,303.0 190.0,303.0 190.0,303.0C190.0,303.0 187.7,297.5 187.7,297.5C187.7,297.5 187.2,295.0 187.2,295.0Z" fill="#048eca"/>
<path d="M65.0,492.7C42.2,491.2 65.5,486.5 66.0,483.7C66.5,480.9 66.9,478.4 68.0,476.0C69.1,473.6 70.6,471.1 72.5,469.5C74.4,467.9 76.3,467.1 79.5,466.5C82.7,465.9 82.5,465.8 91.5,465.7C100.5,465.6 119.7,465.7 133.8,465.7C147.8,465.7 167.0,465.6 176.0,465.7C185.0,465.8 184.8,465.9 188.0,466.5C191.2,467.1 193.1,467.9 195.0,469.5C196.9,471.1 198.4,473.6 199.5,476.0C200.6,478.4 201.0,480.9 201.5,483.7C202.0,486.5 225.2,491.2 202.5,492.7C179.8,494.2 87.8,494.2 65.0,492.7Z" fill="#fddecd"/>
<path d="M74.0,492.7C62.0,491.4 73.7,481.3 74.0,479.9C74.3,478.5 71.0,478.5 77.0,478.4C83.0,478.2 122.4,478.4 133.8,478.4C145.1,478.4 184.5,478.2 190.5,478.4C196.5,478.5 193.2,478.5 193.5,479.9C193.8,481.3 205.4,491.4 193.5,492.7C181.6,494.0 86.0,494.0 74.0,492.7Z" fill="#fcf0ec"/>
<path d="M75.0,492.7C63.2,491.6 74.7,483.3 75.0,482.1C75.3,480.9 72.1,480.8 78.0,480.6C83.9,480.5 122.6,480.6 133.8,480.6C144.9,480.6 183.6,480.5 189.5,480.6C195.4,480.8 192.2,480.9 192.5,482.1C192.8,483.3 204.2,491.6 192.5,492.7C180.8,493.8 86.8,493.8 75.0,492.7Z" fill="#eaf2f4"/>
<path d="M76.0,492.7C64.5,491.8 75.7,485.1 76.0,484.1C76.3,483.1 73.2,482.8 79.0,482.6C84.8,482.5 122.8,482.6 133.8,482.6C144.7,482.6 182.7,482.5 188.5,482.6C194.3,482.8 191.2,483.1 191.5,484.1C191.8,485.1 203.1,491.8 191.5,492.7C179.9,493.6 87.5,493.6 76.0,492.7Z" fill="#d2eaf4"/>
<path d="M76.5,492.7C65.0,492.0 76.2,486.6 76.5,485.8C76.8,485.0 73.8,484.4 79.5,484.3C85.2,484.2 122.9,484.3 133.8,484.3C144.6,484.3 182.3,484.2 188.0,484.3C193.7,484.4 190.7,485.0 191.0,485.8C191.3,486.6 202.4,492.0 191.0,492.7C179.6,493.4 88.0,493.4 76.5,492.7Z" fill="#9dd0ec"/>
<path d="M77.0,492.7C65.7,492.2 76.7,488.3 77.0,487.7C77.3,487.1 74.3,486.3 80.0,486.2C85.7,486.1 123.0,486.2 133.8,486.2C144.5,486.2 181.8,486.1 187.5,486.2C193.2,486.3 190.2,487.1 190.5,487.7C190.8,488.3 201.8,492.2 190.5,492.7C179.2,493.2 88.3,493.2 77.0,492.7Z" fill="#4eaedb"/>
<path d="M67.7,492.7C67.2,491.2 67.6,486.6 68.1,483.7C68.6,480.8 69.3,477.3 70.5,475.0C71.7,472.7 73.2,471.0 75.5,470.1C77.8,469.2 74.8,469.6 84.5,469.5C94.2,469.4 117.3,469.5 133.8,469.5C150.2,469.5 173.3,469.4 183.0,469.5C192.7,469.6 189.7,469.2 192.0,470.1C194.3,471.0 195.8,472.7 197.0,475.0C198.2,477.3 198.9,480.8 199.4,483.7C199.9,486.6 200.3,491.2 199.8,492.7C199.3,494.2 197.1,494.2 196.4,492.7C195.7,491.2 196.3,486.3 195.8,483.7C195.3,481.1 195.0,478.5 193.5,477.2C192.0,475.9 197.0,476.2 187.0,476.0C177.0,475.8 151.5,476.0 133.8,476.0C116.0,476.0 90.5,475.8 80.5,476.0C70.5,476.2 75.5,475.9 74.0,477.2C72.5,478.5 72.2,481.1 71.7,483.7C71.2,486.3 71.8,491.2 71.1,492.7C70.4,494.2 68.2,494.2 67.7,492.7Z" fill="#fcbc96"/>
<path d="M77.5,474.5C76.7,474.1 80.1,471.5 81.5,471.1C82.9,470.7 86.3,470.7 91.5,470.7C96.7,470.7 125.3,470.8 133.8,470.8C142.2,470.8 170.8,470.7 176.0,470.7C181.2,470.7 184.6,470.7 186.0,471.1C187.4,471.5 190.8,474.1 190.0,474.5C189.2,474.9 183.6,474.7 178.0,474.7C172.4,474.7 142.6,474.6 133.8,474.6C124.9,474.6 95.1,474.7 89.5,474.7C83.9,474.7 78.3,474.9 77.5,474.5Z" fill="#fa8c64"/>
<path d="M28.0,455.0C28.7,455.2 29.5,452.7 30.0,456.0C30.5,459.3 30.7,470.7 31.0,475.0C31.3,479.3 30.5,480.5 32.0,482.0C33.5,483.5 36.2,483.5 40.0,483.8C43.8,484.1 51.2,484.0 55.0,484.0C58.8,484.0 61.3,482.5 63.0,483.8C64.7,485.1 71.2,490.6 65.0,492.0C58.8,493.4 32.5,498.2 26.0,492.0C19.5,485.8 25.7,461.2 26.0,455.0C26.3,448.8 27.3,454.8 28.0,455.0Z" fill="#4eaedb"/>
<path d="M26.0,470.0C26.6,466.5 28.8,468.8 29.5,471.0C30.2,473.2 29.1,480.6 30.5,483.0C31.9,485.4 33.9,485.1 38.0,485.6C42.1,486.1 50.8,485.8 55.0,485.8C59.2,485.8 61.5,484.6 63.0,485.6C64.5,486.6 70.2,490.9 64.0,492.0C57.8,493.1 32.3,495.7 26.0,492.0C19.7,488.3 25.4,473.5 26.0,470.0Z" fill="#9dd0ec"/>
<path d="M236.0,455.0C234.7,455.0 237.5,452.5 238.0,455.0C238.5,457.5 238.8,465.8 239.0,470.0C239.2,474.2 239.5,477.7 239.0,480.0C238.5,482.3 239.2,482.9 236.0,483.6C232.8,484.3 225.2,484.2 220.0,484.3C214.8,484.4 208.2,484.0 205.0,484.0C201.8,484.0 201.7,483.0 201.0,484.3C200.3,485.6 193.5,490.7 201.0,492.0C208.5,493.3 238.5,498.2 246.0,492.0C253.5,485.8 247.7,461.2 246.0,455.0C244.3,448.8 237.3,455.0 236.0,455.0Z" fill="#4eaedb"/>
<path d="M239.0,465.0C240.0,462.2 244.8,460.5 246.0,465.0C247.2,469.5 253.3,487.5 246.0,492.0C238.7,496.5 209.2,493.0 202.0,492.0C194.8,491.0 199.5,487.0 202.5,486.0C205.5,485.0 214.1,485.9 220.0,485.8C225.9,485.7 234.7,486.0 238.0,485.4C241.3,484.8 239.8,485.4 240.0,482.0C240.2,478.6 238.0,467.8 239.0,465.0Z" fill="#9dd0ec"/>
<path d="M87.3,491.7C87.3,488.7 87.3,482.1 87.3,474.0C87.3,465.8 87.3,455.5 87.3,442.6C87.3,429.7 87.3,414.1 87.3,396.5C87.3,379.0 86.8,349.9 87.3,337.6C87.8,325.3 89.0,327.4 90.1,322.8C91.2,318.2 92.8,314.6 93.7,309.9C94.6,305.3 95.0,297.5 95.3,295.0M102.3,491.7C102.3,488.7 102.3,482.1 102.3,474.0C102.3,465.8 102.3,455.5 102.3,442.6C102.3,429.7 102.3,414.1 102.3,396.5C102.3,379.0 101.9,349.9 102.3,337.6C102.7,325.3 104.0,327.4 105.0,322.8C106.0,318.2 107.6,314.6 108.5,309.9C109.3,305.3 109.7,297.5 110.0,295.0M128.2,491.7C128.2,488.7 128.2,482.1 128.2,474.0C128.2,465.8 128.2,455.5 128.2,442.6C128.2,429.7 128.2,414.1 128.2,396.5C128.2,379.0 128.1,349.9 128.2,337.6C128.3,325.3 128.5,327.4 128.7,322.8C128.9,318.2 129.2,314.6 129.3,309.9C129.5,305.3 129.6,297.5 129.6,295.0M139.1,491.7C139.1,488.7 139.1,482.1 139.1,474.0C139.1,465.8 139.1,455.5 139.1,442.6C139.1,429.7 139.1,414.1 139.1,396.5C139.1,379.0 139.1,349.9 139.1,337.6C139.1,325.3 139.1,327.4 139.1,322.8C139.1,318.2 139.2,314.6 139.2,309.9C139.2,305.3 139.2,297.5 139.2,295.0M155.4,491.7C155.4,488.7 155.4,482.1 155.4,474.0C155.4,465.8 155.4,455.5 155.4,442.6C155.4,429.7 155.4,414.1 155.4,396.5C155.4,379.0 155.5,349.9 155.4,337.6C155.3,325.3 154.9,327.4 154.6,322.8C154.2,318.2 153.7,314.6 153.5,309.9C153.2,305.3 153.1,297.5 153.0,295.0M175.9,491.7C175.9,488.7 175.9,482.1 175.9,474.0C175.9,465.8 175.9,455.5 175.9,442.6C175.9,429.7 175.9,414.1 175.9,396.5C175.9,379.0 176.5,349.9 175.9,337.6C175.3,325.3 173.8,327.4 172.6,322.8C171.3,318.2 169.3,314.6 168.3,309.9C167.3,305.3 166.7,297.5 166.4,295.0M82.6,296.0C81.8,297.0 80.1,300.5 78.0,302.0C75.9,303.5 73.8,304.2 70.0,305.0C66.2,305.8 59.7,306.0 55.0,306.5C50.3,307.0 44.9,306.9 42.0,307.8C39.1,308.7 38.4,309.1 37.5,312.0C36.6,314.9 36.6,318.7 36.4,325.0C36.2,331.3 36.3,341.2 36.4,350.0C36.5,358.8 36.3,370.0 37.2,378.0C38.1,386.0 39.9,392.3 42.0,398.0C44.1,403.7 47.3,407.8 50.0,412.0C52.7,416.2 55.8,419.7 58.0,423.0C60.2,426.3 62.0,428.8 63.0,432.0C64.0,435.2 64.8,438.7 64.0,442.0C63.2,445.3 60.8,449.5 58.0,452.0C55.2,454.5 50.3,455.3 47.0,457.0C43.7,458.7 39.5,461.2 38.0,462.0M83.6,296.0C82.8,297.2 81.3,301.6 79.0,303.5C76.7,305.4 73.8,306.5 70.0,307.5C66.2,308.5 60.2,308.8 56.0,309.5C51.8,310.2 47.5,310.1 45.0,311.5C42.5,312.9 41.8,314.1 41.0,318.0C40.2,321.9 40.5,328.0 40.5,335.0C40.5,342.0 40.4,352.5 41.0,360.0C41.6,367.5 42.2,373.3 44.0,380.0C45.8,386.7 49.0,394.0 52.0,400.0C55.0,406.0 59.3,411.3 62.0,416.0C64.7,420.7 66.8,424.0 68.0,428.0C69.2,432.0 69.7,436.0 69.0,440.0C68.3,444.0 64.8,450.0 64.0,452.0M73.0,440.0C73.0,435.0 73.1,421.7 73.0,410.0C72.9,398.3 72.7,381.7 72.5,370.0C72.3,358.3 72.4,348.0 72.0,340.0C71.6,332.0 71.7,326.1 70.0,322.0C68.3,317.9 65.0,316.5 62.0,315.5C59.0,314.5 54.7,314.9 52.0,316.0C49.3,317.1 47.2,317.2 46.0,322.0C44.8,326.8 45.0,336.2 45.0,345.0C45.0,353.8 44.8,365.8 46.0,375.0C47.2,384.2 49.3,392.5 52.0,400.0C54.7,407.5 59.0,414.3 62.0,420.0C65.0,425.7 68.2,430.7 70.0,434.0C71.8,437.3 72.5,439.0 73.0,440.0M70.9,489.0C70.9,485.8 70.9,478.2 70.9,470.0C70.9,461.8 70.9,445.0 70.9,440.0M188.0,296.0C188.8,297.0 190.5,300.5 192.6,302.0C194.7,303.5 196.8,304.2 200.6,305.0C204.4,305.8 210.9,306.0 215.6,306.5C220.3,307.0 225.7,306.9 228.6,307.8C231.5,308.7 232.2,309.1 233.1,312.0C234.0,314.9 234.0,318.7 234.2,325.0C234.4,331.3 234.3,341.2 234.2,350.0C234.1,358.8 234.3,370.0 233.4,378.0C232.5,386.0 230.7,392.3 228.6,398.0C226.5,403.7 223.3,407.8 220.6,412.0C217.9,416.2 214.8,419.7 212.6,423.0C210.4,426.3 208.6,428.8 207.6,432.0C206.6,435.2 205.8,438.7 206.6,442.0C207.4,445.3 209.8,449.5 212.6,452.0C215.4,454.5 220.3,455.3 223.6,457.0C226.9,458.7 231.1,461.2 232.6,462.0M187.0,296.0C187.8,297.2 189.3,301.6 191.6,303.5C193.9,305.4 196.8,306.5 200.6,307.5C204.4,308.5 210.4,308.8 214.6,309.5C218.8,310.2 223.1,310.1 225.6,311.5C228.1,312.9 228.9,314.1 229.6,318.0C230.4,321.9 230.1,328.0 230.1,335.0C230.1,342.0 230.2,352.5 229.6,360.0C229.0,367.5 228.4,373.3 226.6,380.0C224.8,386.7 221.6,394.0 218.6,400.0C215.6,406.0 211.3,411.3 208.6,416.0C205.9,420.7 203.8,424.0 202.6,428.0C201.4,432.0 200.9,436.0 201.6,440.0C202.3,444.0 205.8,450.0 206.6,452.0M197.6,440.0C197.6,435.0 197.5,421.7 197.6,410.0C197.7,398.3 197.9,381.7 198.1,370.0C198.3,358.3 198.2,348.0 198.6,340.0C199.0,332.0 198.9,326.1 200.6,322.0C202.3,317.9 205.6,316.5 208.6,315.5C211.6,314.5 215.9,314.9 218.6,316.0C221.3,317.1 223.4,317.2 224.6,322.0C225.8,326.8 225.6,336.2 225.6,345.0C225.6,353.8 225.8,365.8 224.6,375.0C223.4,384.2 221.3,392.5 218.6,400.0C215.9,407.5 211.6,414.3 208.6,420.0C205.6,425.7 202.4,430.7 200.6,434.0C198.8,437.3 198.1,439.0 197.6,440.0M199.7,489.0C199.7,485.8 199.8,478.2 199.7,470.0C199.6,461.8 199.2,445.0 199.1,440.0M64.5,490.0C65.0,489.3 66.1,486.8 67.5,485.7C68.9,484.6 70.9,483.5 73.0,483.2C75.1,482.9 78.2,483.1 80.0,483.8C81.8,484.5 83.2,486.2 84.0,487.2C84.8,488.2 84.8,489.5 85.0,490.0M187.0,490.0C187.3,489.4 187.8,487.8 189.0,486.7C190.2,485.6 192.2,483.9 194.0,483.4C195.8,482.9 198.3,483.1 200.0,483.6C201.7,484.2 203.2,485.6 204.0,486.7C204.8,487.8 204.8,489.4 205.0,490.0M60.4,476.8L58.5,478.6L56.2,480.2L53.5,481.3L50.6,482.0L47.5,482.3L44.5,482.1L41.6,481.4L38.9,480.3L36.7,478.8L34.9,477.0L33.7,475.0L33.0,472.8L33.0,470.7L33.6,468.5L34.8,466.5L36.5,464.8L38.7,463.4L41.2,462.3L44.0,461.6L46.9,461.4L49.7,461.6L52.5,462.2L54.9,463.3L57.1,464.7L58.7,466.3L59.9,468.2L60.5,470.2L60.5,472.3L59.9,474.3L58.8,476.1L58.8,476.1M56.9,475.3L55.5,476.7L53.8,477.8L51.9,478.6L49.7,479.2L47.5,479.3L45.2,479.2L43.1,478.7L41.1,477.9L39.5,476.8L38.2,475.5L37.3,474.0L36.8,472.5L36.8,470.9L37.3,469.3L38.1,467.9L39.4,466.6L41.0,465.6L42.8,464.8L44.9,464.3L47.0,464.1L49.1,464.3L51.1,464.8L52.9,465.5L54.4,466.5L55.7,467.8L56.5,469.1L56.9,470.6L56.9,472.1L56.5,473.5L55.7,474.9L55.7,474.9M53.8,474.1L52.9,475.1L51.7,475.8L50.4,476.4L48.9,476.8L47.4,476.9L45.8,476.8L44.4,476.4L43.1,475.9L41.9,475.1L41.1,474.2L40.4,473.2L40.1,472.2L40.1,471.1L40.4,470.0L41.0,469.0L41.9,468.1L43.0,467.4L44.2,466.9L45.6,466.6L47.0,466.4L48.5,466.5L49.8,466.9L51.1,467.4L52.1,468.1L53.0,468.9L53.5,469.9L53.8,470.9L53.8,471.9L53.6,472.9L53.0,473.8L53.0,473.8M51.1,473.1L50.6,473.6L49.9,474.1L49.1,474.4L48.2,474.7L47.3,474.7L46.4,474.7L45.5,474.5L44.7,474.1L44.0,473.7L43.5,473.1L43.1,472.5L43.0,471.9L42.9,471.2L43.1,470.6L43.5,470.0L44.0,469.5L44.7,469.1L45.4,468.7L46.2,468.5L47.1,468.5L48.0,468.5L48.8,468.7L49.5,469.0L50.2,469.5L50.7,470.0L51.0,470.5L51.2,471.1L51.2,471.7L51.0,472.3L50.7,472.9L50.7,472.9M49.0,472.2L48.7,472.5L48.4,472.7L48.0,472.8L47.7,472.9L47.2,473.0L46.8,472.9L46.5,472.8L46.1,472.7L45.8,472.5L45.6,472.2L45.4,472.0L45.3,471.7L45.3,471.4L45.4,471.1L45.6,470.8L45.8,470.6L46.1,470.4L46.4,470.2L46.8,470.2L47.2,470.1L47.5,470.1L47.9,470.2L48.2,470.4L48.5,470.6L48.7,470.8L48.9,471.1L49.0,471.3L49.0,471.6L48.9,471.9L48.7,472.1L48.7,472.1M210.3,481.5L207.5,480.3L205.1,478.7L203.2,476.8L202.0,474.7L201.4,472.5L201.5,470.3L202.3,468.1L203.7,466.1L205.6,464.3L208.1,462.9L210.9,461.8L214.0,461.2L217.2,461.1L220.3,461.4L223.3,462.1L225.9,463.2L228.2,464.7L229.9,466.5L231.1,468.5L231.7,470.5L231.6,472.7L230.8,474.7L229.5,476.6L227.6,478.2L225.3,479.6L222.7,480.5L219.8,481.1L216.9,481.3L213.9,481.0L211.1,480.3L211.1,480.3M212.0,479.0L209.9,478.1L208.1,476.9L206.7,475.5L205.7,473.9L205.3,472.3L205.4,470.6L205.9,469.0L207.0,467.5L208.5,466.2L210.3,465.1L212.4,464.3L214.7,463.8L217.1,463.7L219.5,463.9L221.7,464.5L223.7,465.3L225.4,466.4L226.7,467.8L227.6,469.2L228.0,470.8L227.9,472.4L227.4,473.9L226.4,475.3L225.0,476.5L223.3,477.5L221.3,478.2L219.1,478.7L216.9,478.8L214.7,478.6L212.6,478.1L212.6,478.1M213.5,476.8L212.0,476.1L210.7,475.3L209.7,474.3L209.0,473.2L208.7,472.0L208.8,470.9L209.2,469.7L209.9,468.6L211.0,467.7L212.3,467.0L213.8,466.4L215.4,466.1L217.1,466.0L218.7,466.2L220.3,466.5L221.7,467.1L222.9,467.9L223.9,468.9L224.5,469.9L224.8,471.0L224.7,472.1L224.3,473.2L223.6,474.2L222.7,475.0L221.4,475.8L220.0,476.3L218.5,476.6L216.9,476.7L215.4,476.5L213.9,476.1L213.9,476.1M214.9,474.7L214.0,474.3L213.3,473.8L212.7,473.2L212.3,472.5L212.1,471.8L212.2,471.1L212.4,470.4L212.8,469.8L213.5,469.2L214.2,468.8L215.1,468.4L216.1,468.2L217.0,468.2L218.0,468.3L219.0,468.5L219.8,468.9L220.5,469.3L221.0,469.9L221.4,470.5L221.6,471.2L221.5,471.9L221.3,472.5L220.9,473.1L220.3,473.6L219.6,474.1L218.8,474.4L217.9,474.6L217.0,474.6L216.0,474.5L215.2,474.3L215.2,474.3" fill="none" stroke="#000" stroke-opacity="0.55" stroke-width="0.75" stroke-linejoin="round"/><path d="M87.3,474.4L88.3,477.0L86.3,477.0ZM87.3,440.4L88.3,443.0L86.3,443.0ZM87.3,406.4L88.3,409.0L86.3,409.0ZM87.2,372.4L88.2,375.0L86.2,375.0ZM87.3,338.4L88.2,341.0L86.2,341.0ZM94.4,305.3L95.0,308.1L93.1,307.8ZM102.3,474.4L103.3,477.0L101.3,477.0ZM102.3,440.4L103.3,443.0L101.3,443.0ZM102.3,406.4L103.3,409.0L101.3,409.0ZM102.2,372.4L103.2,375.0L101.2,375.0ZM102.3,338.4L103.2,341.0L101.2,341.0ZM109.1,305.2L109.8,308.0L107.8,307.8ZM128.2,474.4L129.2,477.0L127.2,477.0ZM128.2,440.4L129.2,443.0L127.2,443.0ZM128.2,406.4L129.2,409.0L127.2,409.0ZM128.2,372.4L129.2,375.0L127.2,375.0ZM128.2,338.4L129.2,341.0L127.2,341.0ZM129.5,304.4L130.4,307.1L128.4,307.0ZM139.1,474.4L140.1,477.0L138.1,477.0ZM139.1,440.4L140.1,443.0L138.1,443.0ZM139.1,406.4L140.1,409.0L138.1,409.0ZM139.1,372.4L140.1,375.0L138.1,375.0ZM139.1,338.4L140.1,341.0L138.1,341.0ZM139.2,304.4L140.2,307.0L138.2,307.0ZM155.4,474.4L156.4,477.0L154.4,477.0ZM155.4,440.4L156.4,443.0L154.4,443.0ZM155.4,406.4L156.4,409.0L154.4,409.0ZM155.4,372.4L156.4,375.0L154.4,375.0ZM155.4,338.4L156.4,341.0L154.4,341.0ZM153.3,304.5L154.3,307.1L152.4,307.1ZM175.9,474.4L176.9,477.0L174.9,477.0ZM175.9,440.4L176.9,443.0L174.9,443.0ZM175.9,406.4L176.9,409.0L174.9,409.0ZM176.1,372.4L177.0,375.0L175.0,375.0ZM175.9,338.4L177.0,341.0L175.0,341.1ZM167.5,305.7L169.0,308.1L167.0,308.5ZM68.9,305.2L71.3,303.7L71.7,305.6ZM37.4,312.4L37.4,309.5L39.2,310.3ZM36.4,346.3L35.3,343.7L37.3,343.7ZM37.5,380.3L36.2,377.8L38.1,377.5ZM49.7,411.6L47.5,409.9L49.1,408.8ZM64.3,441.4L63.3,438.7L65.3,438.8ZM38.7,461.6L40.5,459.4L41.5,461.1ZM71.4,307.1L73.6,305.4L74.2,307.3ZM41.0,317.2L41.0,314.3L42.9,315.0ZM40.6,351.2L39.6,348.5L41.5,348.5ZM45.4,384.7L43.7,382.5L45.6,381.8ZM61.2,414.6L58.9,413.0L60.6,411.9ZM66.7,446.4L66.9,443.6L68.7,444.4ZM73.0,422.7L74.0,425.3L72.0,425.3ZM72.8,388.7L73.8,391.3L71.8,391.3ZM72.4,354.7L73.4,357.3L71.4,357.3ZM69.6,320.9L71.4,323.1L69.6,323.8ZM45.3,327.2L44.5,324.5L46.5,324.6ZM45.1,361.2L44.0,358.5L46.0,358.5ZM50.2,394.7L48.5,392.4L50.4,391.8ZM64.9,425.2L62.7,423.4L64.5,422.5ZM70.9,471.7L71.9,474.3L69.9,474.3ZM201.7,305.2L198.9,305.6L199.3,303.7ZM233.2,312.4L231.4,310.3L233.2,309.5ZM234.2,346.3L233.3,343.7L235.3,343.7ZM233.1,380.3L232.5,377.5L234.4,377.8ZM220.9,411.6L221.5,408.8L223.1,409.9ZM206.3,441.4L205.3,438.8L207.3,438.7ZM231.9,461.6L229.1,461.1L230.1,459.4ZM199.2,307.1L196.4,307.3L197.0,305.4ZM229.6,317.2L227.7,315.0L229.6,314.3ZM230.0,351.2L229.1,348.5L231.0,348.5ZM225.2,384.7L225.0,381.8L226.9,382.5ZM209.4,414.6L210.0,411.9L211.7,413.0ZM203.9,446.4L201.9,444.4L203.7,443.6ZM197.6,422.7L198.6,425.3L196.6,425.3ZM197.8,388.7L198.8,391.3L196.8,391.3ZM198.2,354.7L199.2,357.3L197.2,357.3ZM201.0,320.9L201.0,323.8L199.2,323.1ZM225.3,327.2L224.1,324.6L226.1,324.5ZM225.5,361.2L224.6,358.5L226.6,358.5ZM220.4,394.7L220.2,391.8L222.1,392.4ZM205.7,425.2L206.1,422.5L207.9,423.4ZM199.7,471.7L200.7,474.3L198.7,474.3ZM78.9,483.4L76.2,484.1L76.4,482.1ZM201.2,484.2L198.4,483.9L199.3,482.1Z" fill="#000" fill-opacity="0.55"/>
</g>
<path d="M28.80,304.40V488.70H241.80" fill="none" stroke="#111" stroke-width="1.1"/>
<path d="M28.80,460.60h5M28.80,425.10h5M28.80,389.60h5M28.80,354.10h5M28.80,318.60h5M28.80,488.70v-5M64.30,488.70v-5M99.80,488.70v-5M135.30,488.70v-5M170.80,488.70v-5M206.30,488.70v-5M241.80,488.70v-5" stroke="#111" stroke-width="1.2" fill="none"/>
<path d="M28.80,481.90h2M28.80,474.80h2M28.80,467.70h2M28.80,453.50h2M28.80,446.40h2M28.80,439.30h2M28.80,432.20h2M28.80,418.00h2M28.80,410.90h2M28.80,403.80h2M28.80,396.70h2M28.80,382.50h2M28.80,375.40h2M28.80,368.30h2M28.80,361.20h2M28.80,347.00h2M28.80,339.90h2M28.80,332.80h2M28.80,325.70h2M28.80,311.50h2M28.80,304.40h2M35.90,488.70v-2M43.00,488.70v-2M50.10,488.70v-2M57.20,488.70v-2M71.40,488.70v-2M78.50,488.70v-2M85.60,488.70v-2M92.70,488.70v-2M106.90,488.70v-2M114.00,488.70v-2M121.10,488.70v-2M128.20,488.70v-2M142.40,488.70v-2M149.50,488.70v-2M156.60,488.70v-2M163.70,488.70v-2M177.90,488.70v-2M185.00,488.70v-2M192.10,488.70v-2M199.20,488.70v-2M213.40,488.70v-2M220.50,488.70v-2M227.60,488.70v-2M234.70,488.70v-2" stroke="#222" stroke-width="0.6" stroke-opacity="0.6" fill="none"/>
<g font-family="'Liberation Sans', Arial, sans-serif" font-size="7.2" fill="#222" stroke="#222" stroke-width="0.22"><text x="26.50" y="463.10" text-anchor="end">0.5</text><text x="26.50" y="427.60" text-anchor="end">1</text><text x="26.50" y="392.10" text-anchor="end">1.5</text><text x="26.50" y="356.60" text-anchor="end">2</text><text x="26.50" y="321.10" text-anchor="end">2.5</text><text x="28.80" y="496.60" text-anchor="middle">-1.5</text><text x="64.30" y="496.60" text-anchor="middle">-1</text><text x="99.80" y="496.60" text-anchor="middle">-0.5</text><text x="135.30" y="496.60" text-anchor="middle">0</text><text x="170.80" y="496.60" text-anchor="middle">0.5</text><text x="206.30" y="496.60" text-anchor="middle">1</text><text x="241.80" y="496.60" text-anchor="middle">1.5</text></g>
<text x="136.4" y="504.8" text-anchor="middle" font-family="'Liberation Sans', Arial, sans-serif" font-weight="bold" font-size="8.7" fill="#111">X/m</text>
<text transform="translate(12.0,395.5) rotate(-90)" text-anchor="middle" font-family="'Liberation Sans', Arial, sans-serif" font-weight="bold" font-size="8.9" fill="#111">Y/m</text>
<text x="16.5" y="298.8" font-family="'Liberation Serif', 'Times New Roman', serif" font-size="9.6" fill="#111" stroke="#111" stroke-width="0.2">Rosseland</text>
<text x="134.6" y="519.6" text-anchor="middle" font-family="'Liberation Serif', 'Times New Roman', serif" font-size="15.0" fill="#111" stroke="#111" stroke-width="0.45">(c)</text>
<g font-family="'Liberation Sans', Arial, sans-serif" font-size="7.2" fill="#222"><rect x="59.10" y="270.9" width="6.30" height="10.90" fill="#0a6cc2"/><rect x="65.35" y="270.9" width="12.55" height="10.90" fill="#048eca"/><rect x="77.85" y="270.9" width="12.55" height="10.90" fill="#4eaedb"/><rect x="90.35" y="270.9" width="12.55" height="10.90" fill="#9dd0ec"/><rect x="102.85" y="270.9" width="12.55" height="10.90" fill="#d2eaf4"/><rect x="115.35" y="270.9" width="12.55" height="10.90" fill="#eaf2f4"/><rect x="127.85" y="270.9" width="12.55" height="10.90" fill="#fcf0ec"/><rect x="140.35" y="270.9" width="12.55" height="10.90" fill="#fddecd"/><rect x="152.85" y="270.9" width="12.55" height="10.90" fill="#fcbc96"/><rect x="165.35" y="270.9" width="12.55" height="10.90" fill="#fa8c64"/><rect x="177.85" y="270.9" width="12.55" height="10.90" fill="#f05046"/><rect x="190.35" y="270.9" width="6.30" height="10.90" fill="#d71428"/><path d="M65.35,270.9V281.8M77.85,270.9V281.8M90.35,270.9V281.8M102.85,270.9V281.8M115.35,270.9V281.8M127.85,270.9V281.8M140.35,270.9V281.8M152.85,270.9V281.8M165.35,270.9V281.8M177.85,270.9V281.8M190.35,270.9V281.8" stroke="#333" stroke-width="0.6" stroke-opacity="0.85"/><rect x="59.1" y="270.9" width="137.50" height="10.90" fill="none" stroke="#333" stroke-width="0.6"/><text x="65.35" y="291.0" text-anchor="middle" stroke="#222" stroke-width="0.22">0.1</text><text x="77.85" y="291.0" text-anchor="middle" stroke="#222" stroke-width="0.22">0.2</text><text x="90.35" y="291.0" text-anchor="middle" stroke="#222" stroke-width="0.22">0.3</text><text x="102.85" y="291.0" text-anchor="middle" stroke="#222" stroke-width="0.22">0.4</text><text x="115.35" y="291.0" text-anchor="middle" stroke="#222" stroke-width="0.22">0.5</text><text x="127.85" y="291.0" text-anchor="middle" stroke="#222" stroke-width="0.22">0.6</text><text x="140.35" y="291.0" text-anchor="middle" stroke="#222" stroke-width="0.22">0.7</text><text x="152.85" y="291.0" text-anchor="middle" stroke="#222" stroke-width="0.22">0.8</text><text x="165.35" y="291.0" text-anchor="middle" stroke="#222" stroke-width="0.22">0.9</text><text x="177.85" y="291.0" text-anchor="middle" stroke="#222" stroke-width="0.22">1</text><text x="190.35" y="291.0" text-anchor="middle" stroke="#222" stroke-width="0.22">1.1</text></g>
<clipPath id="clipd"><path d="M329.6,488.7L329.6,304.4L379.2,304.4L379.2,296.8L493.3,296.8L493.3,304.4L543.2,304.4L543.2,488.7Z"/></clipPath>
<g clip-path="url(#clipd)">
<rect x="329.6" y="296.8" width="213.60000000000002" height="191.89999999999998" fill="#048eca"/>
<path d="M331.0,302.0C332.8,277.3 340.2,301.3 342.0,302.0C343.8,302.7 341.3,304.2 342.0,306.0C342.7,307.8 344.3,310.7 346.0,313.0C347.7,315.3 350.7,316.3 352.0,320.0C353.3,323.7 353.5,329.2 354.0,335.0C354.5,340.8 354.2,348.3 355.0,355.0C355.8,361.7 357.8,369.2 359.0,375.0C360.2,380.8 360.6,387.0 362.0,390.0C363.4,393.0 365.8,389.3 367.3,393.0C368.8,396.7 370.4,405.5 371.0,412.0C371.6,418.5 371.3,426.2 371.0,432.0C370.7,437.8 370.5,443.7 369.0,447.0C367.5,450.3 368.3,451.5 362.0,452.0C355.7,452.5 336.2,475.0 331.0,450.0C325.8,425.0 329.2,326.7 331.0,302.0Z" fill="#0a6cc2"/>
<path d="M333.0,450.0C335.7,448.6 344.2,448.7 350.0,448.5C355.8,448.3 363.7,448.4 368.0,449.0C372.3,449.6 375.0,450.5 376.0,452.0C377.0,453.5 376.7,456.9 374.0,458.0C371.3,459.1 364.8,458.5 360.0,458.5C355.2,458.5 349.3,458.2 345.0,458.0C340.7,457.8 336.0,458.3 334.0,457.0C332.0,455.7 330.3,451.4 333.0,450.0Z" fill="#048eca"/>
<path d="M336.0,462.0C338.0,460.1 344.0,459.8 348.0,459.8C352.0,459.8 357.4,460.6 360.0,462.0C362.6,463.4 363.1,465.7 363.4,468.0C363.7,470.3 363.2,473.8 362.0,476.0C360.8,478.2 358.8,480.1 356.0,481.0C353.2,481.9 348.0,481.7 345.0,481.4C342.0,481.1 339.5,480.7 338.0,479.0C336.5,477.3 336.2,473.8 335.9,471.0C335.6,468.2 334.0,463.9 336.0,462.0Z" fill="#0a6cc2"/>
<path d="M536.0,318.0C533.5,317.8 530.0,317.9 526.0,318.5C522.0,319.1 514.7,319.9 512.0,321.5C509.3,323.1 510.1,325.8 509.7,328.0C509.3,330.2 509.2,330.5 509.7,335.0C510.2,339.5 511.8,348.4 512.6,355.0C513.4,361.6 514.9,368.8 514.6,374.6C514.3,380.4 513.3,383.7 511.0,390.0C508.7,396.3 503.5,405.6 500.8,412.6C498.1,419.7 496.0,426.6 495.0,432.3C494.0,438.0 494.7,443.2 495.0,447.0C495.3,450.8 492.8,454.2 497.0,455.0C501.2,455.8 512.5,453.2 520.0,452.0C527.5,450.8 538.1,451.7 542.0,448.0C545.9,444.3 543.2,438.0 543.5,430.0C543.8,422.0 543.5,411.7 543.5,400.0C543.5,388.3 543.8,372.0 543.5,360.0C543.2,348.0 542.4,334.7 542.0,328.0C541.6,321.3 542.0,321.7 541.0,320.0C540.0,318.3 538.5,318.2 536.0,318.0Z" fill="#0a6cc2"/>
<path d="M514.6,473.0C515.7,471.9 518.8,470.9 521.0,470.6C523.2,470.3 526.5,470.6 528.0,471.3C529.5,472.0 530.1,473.7 530.3,475.0C530.5,476.3 530.4,478.1 529.0,479.0C527.6,479.9 524.2,480.2 522.0,480.4C519.8,480.6 517.3,480.6 516.0,480.0C514.7,479.4 514.4,478.2 514.2,477.0C514.0,475.8 513.5,474.1 514.6,473.0Z" fill="#0a6cc2"/>
<path d="M343.7,291.8C316.5,294.1 341.7,302.5 343.7,305.8C345.7,309.1 352.2,309.4 355.5,311.7C358.8,314.0 361.4,315.7 363.4,319.6C365.4,323.5 366.5,329.4 367.3,335.3C368.1,341.2 368.0,348.4 368.3,355.0C368.6,361.6 368.9,368.8 369.3,374.6C369.8,380.4 369.5,383.7 371.0,390.0C372.5,396.3 376.8,405.6 378.1,412.6C379.5,419.7 379.1,425.7 379.1,432.3C379.1,438.9 378.9,447.1 378.1,452.0C377.3,456.9 375.7,458.7 374.2,462.0C372.7,465.3 370.7,468.7 369.3,472.0C367.9,475.3 366.6,478.0 366.0,482.0C365.4,486.0 343.7,493.7 366.0,496.0C388.3,498.3 477.7,498.3 500.0,496.0C522.3,493.7 500.3,486.0 500.0,482.0C499.7,478.0 498.8,475.4 498.0,472.0C497.2,468.6 495.8,465.1 495.0,461.8C494.2,458.5 493.5,456.9 493.0,452.0C492.5,447.1 492.2,438.9 492.0,432.3C491.8,425.7 491.8,419.2 492.0,412.6C492.2,406.1 491.8,397.7 493.0,393.0C494.2,388.3 498.0,389.1 499.0,384.4C500.0,379.7 498.9,371.4 498.9,364.8C498.9,358.2 498.6,351.7 498.9,345.1C499.2,338.6 499.5,332.1 500.8,325.5C502.1,318.9 505.7,311.4 506.7,305.8C507.7,300.2 533.9,294.1 506.7,291.8C479.5,289.5 370.9,289.5 343.7,291.8Z" fill="#4eaedb"/>
<path d="M332.0,456.0C334.2,451.8 340.3,455.0 345.0,455.0C349.7,455.0 355.5,455.2 360.0,456.0C364.5,456.8 369.7,458.0 372.0,460.0C374.3,462.0 374.2,465.3 374.0,468.0C373.8,470.7 372.5,473.3 371.0,476.0C369.5,478.7 368.5,482.6 365.0,484.0C361.5,485.4 354.8,484.5 350.0,484.5C345.2,484.5 339.0,484.8 336.0,484.0C333.0,483.2 332.7,484.7 332.0,480.0C331.3,475.3 329.8,460.2 332.0,456.0Z" fill="#048eca"/>
<path d="M336.0,462.0C338.0,460.1 344.0,459.8 348.0,459.8C352.0,459.8 357.4,460.6 360.0,462.0C362.6,463.4 363.1,465.7 363.4,468.0C363.7,470.3 363.2,473.8 362.0,476.0C360.8,478.2 358.8,480.1 356.0,481.0C353.2,481.9 348.0,481.7 345.0,481.4C342.0,481.1 339.5,480.7 338.0,479.0C336.5,477.3 336.2,473.8 335.9,471.0C335.6,468.2 334.0,463.9 336.0,462.0Z" fill="#0a6cc2"/>
<path d="M497.0,452.0C500.2,449.0 507.8,450.7 515.0,450.0C522.2,449.3 535.7,445.5 540.0,448.0C544.3,450.5 541.2,459.7 541.0,465.0C540.8,470.3 540.5,476.9 539.0,480.0C537.5,483.1 536.0,482.8 532.0,483.4C528.0,484.0 519.8,483.8 515.0,483.8C510.2,483.8 505.7,484.4 503.0,483.6C500.3,482.8 500.2,481.6 499.0,479.0C497.8,476.4 496.3,472.5 496.0,468.0C495.7,463.5 493.8,455.0 497.0,452.0Z" fill="#048eca"/>
<path d="M514.6,473.0C515.7,471.9 518.8,470.9 521.0,470.6C523.2,470.3 526.5,470.6 528.0,471.3C529.5,472.0 530.1,473.7 530.3,475.0C530.5,476.3 530.4,478.1 529.0,479.0C527.6,479.9 524.2,480.2 522.0,480.4C519.8,480.6 517.3,480.6 516.0,480.0C514.7,479.4 514.4,478.2 514.2,477.0C514.0,475.8 513.5,474.1 514.6,473.0Z" fill="#0a6cc2"/>
<path d="M357.5,291.8C333.6,294.1 356.2,302.5 357.5,305.8C358.8,309.1 363.2,309.4 365.3,311.7C367.4,314.0 369.1,315.7 370.2,319.6C371.3,323.5 371.7,329.4 372.2,335.3C372.7,341.2 373.0,348.4 373.2,355.0C373.4,361.6 372.9,368.8 373.2,374.6C373.5,380.4 373.9,383.7 375.0,390.0C376.1,396.3 379.1,405.6 380.0,412.6C380.9,419.7 380.6,425.7 380.5,432.3C380.4,438.9 380.3,447.1 379.5,452.0C378.7,456.9 377.0,458.7 375.5,462.0C374.0,465.3 371.9,468.7 370.5,472.0C369.1,475.3 367.4,478.0 366.8,482.0C366.2,486.0 344.7,493.7 366.8,496.0C388.9,498.3 477.4,498.3 499.5,496.0C521.6,493.7 499.9,486.0 499.5,482.0C499.1,478.0 498.2,475.4 497.0,472.0C495.8,468.6 493.3,465.1 492.0,461.8C490.7,458.5 489.6,456.9 489.0,452.0C488.4,447.1 488.2,438.9 488.1,432.3C488.0,425.7 488.0,419.2 488.1,412.6C488.2,406.1 488.0,397.7 489.0,393.0C490.0,388.3 493.3,389.1 494.0,384.4C494.7,379.7 493.3,371.4 493.0,364.8C492.7,358.2 492.0,351.7 492.0,345.1C492.0,338.6 491.5,332.1 493.0,325.5C494.5,318.9 499.5,311.4 500.8,305.8C502.1,300.2 524.7,294.1 500.8,291.8C476.9,289.5 381.4,289.5 357.5,291.8Z" fill="#9dd0ec"/>
<path d="M369.3,291.8C348.4,294.1 368.9,302.5 369.3,305.8C369.8,309.1 371.0,309.4 372.0,311.7C373.0,314.0 374.0,315.7 375.2,319.6C376.4,323.5 378.1,329.4 379.1,335.3C380.1,341.2 380.5,348.4 381.0,355.0C381.5,361.6 381.9,368.8 382.0,374.6C382.1,380.4 381.5,383.7 381.5,390.0C381.5,396.3 381.9,405.6 382.0,412.6C382.1,419.7 382.2,425.7 382.0,432.3C381.8,438.9 381.8,447.1 381.0,452.0C380.2,456.9 378.6,458.7 377.0,462.0C375.4,465.3 373.1,468.7 371.5,472.0C369.9,475.3 368.2,478.0 367.5,482.0C366.8,486.0 345.6,493.7 367.5,496.0C389.4,498.3 477.1,498.3 499.0,496.0C520.9,493.7 499.5,486.0 499.0,482.0C498.5,478.0 497.5,475.4 496.0,472.0C494.5,468.6 491.6,465.1 490.0,461.8C488.4,458.5 487.1,456.9 486.5,452.0C485.9,447.1 486.2,438.9 486.1,432.3C486.0,425.7 486.1,419.2 486.1,412.6C486.1,406.1 486.0,397.7 486.1,393.0C486.2,388.3 486.7,389.1 486.5,384.4C486.3,379.7 485.5,371.4 485.1,364.8C484.7,358.2 484.1,351.7 484.1,345.1C484.1,338.6 483.3,332.1 485.1,325.5C486.9,318.9 493.3,311.4 494.9,305.8C496.5,300.2 515.8,294.1 494.9,291.8C474.0,289.5 390.2,289.5 369.3,291.8Z" fill="#d2eaf4"/>
<path d="M375.2,291.8C356.2,294.1 374.6,302.5 375.2,305.8C375.8,309.1 377.7,309.4 379.0,311.7C380.3,314.0 381.4,315.7 383.0,319.6C384.6,323.5 387.6,329.4 388.9,335.3C390.2,341.2 390.6,348.4 390.9,355.0C391.2,361.6 391.5,368.8 390.9,374.6C390.2,380.4 388.1,383.7 387.0,390.0C385.9,396.3 384.5,405.6 384.0,412.6C383.5,419.7 384.2,425.7 384.0,432.3C383.8,438.9 383.9,447.1 383.0,452.0C382.1,456.9 380.2,458.7 378.5,462.0C376.8,465.3 374.2,468.7 372.5,472.0C370.8,475.3 368.9,478.0 368.2,482.0C367.5,486.0 346.5,493.7 368.2,496.0C389.9,498.3 476.8,498.3 498.5,496.0C520.2,493.7 499.1,486.0 498.5,482.0C497.9,478.0 496.8,475.4 495.0,472.0C493.2,468.6 489.8,465.1 488.0,461.8C486.2,458.5 485.1,456.9 484.5,452.0C483.9,447.1 484.2,438.9 484.1,432.3C484.0,425.7 484.2,419.2 484.1,412.6C484.0,406.1 483.7,397.7 483.2,393.0C482.7,388.3 481.9,389.1 481.2,384.4C480.5,379.7 479.7,371.4 479.2,364.8C478.7,358.2 478.2,351.7 478.2,345.1C478.2,338.6 477.4,332.1 479.2,325.5C481.0,318.9 487.4,311.4 489.0,305.8C490.6,300.2 508.0,294.1 489.0,291.8C470.0,289.5 394.2,289.5 375.2,291.8Z" fill="#eaf2f4"/>
<path d="M385.0,291.8C369.0,294.1 384.3,302.5 385.0,305.8C385.7,309.1 387.7,309.4 389.0,311.7C390.3,314.0 390.5,315.7 392.8,319.6C395.1,323.5 400.4,329.4 402.7,335.3C405.0,341.2 406.2,348.4 406.6,355.0C407.0,361.6 406.4,368.8 405.0,374.6C403.6,380.4 400.7,383.7 398.0,390.0C395.3,396.3 390.8,405.6 389.0,412.6C387.2,419.7 387.5,425.7 387.0,432.3C386.5,438.9 387.0,447.1 386.0,452.0C385.0,456.9 383.0,458.7 381.0,462.0C379.0,465.3 376.0,468.7 374.0,472.0C372.0,475.3 369.8,478.0 369.0,482.0C368.2,486.0 347.5,493.7 369.0,496.0C390.5,498.3 476.5,498.3 498.0,496.0C519.5,493.7 498.7,486.0 498.0,482.0C497.3,478.0 496.0,475.4 494.0,472.0C492.0,468.6 487.8,465.1 486.0,461.8C484.2,458.5 483.8,456.9 483.2,452.0C482.6,447.1 482.5,438.9 482.2,432.3C481.9,425.7 481.7,419.2 481.2,412.6C480.7,406.1 480.7,397.7 479.2,393.0C477.7,388.3 474.3,389.1 472.0,384.4C469.7,379.7 466.6,371.4 465.5,364.8C464.4,358.2 464.9,351.7 465.5,345.1C466.1,338.6 466.8,332.1 469.4,325.5C472.0,318.9 479.2,311.4 481.2,305.8C483.2,300.2 497.2,294.1 481.2,291.8C465.2,289.5 401.0,289.5 385.0,291.8Z" fill="#fcf0ec"/>
<path d="M500.0,300.0C508.0,299.0 537.5,299.2 545.0,300.0C552.5,300.8 546.7,303.8 545.0,305.0C543.3,306.2 539.2,306.3 535.0,307.0C530.8,307.7 525.0,308.5 520.0,309.0C515.0,309.5 508.8,310.5 505.0,310.0C501.2,309.5 497.8,307.7 497.0,306.0C496.2,304.3 492.0,301.0 500.0,300.0Z" fill="#4eaedb"/>
<path d="M390.0,290.0C379.9,290.8 391.7,294.7 393.0,297.0C394.3,299.3 398.1,306.2 401.0,309.5C403.9,312.8 414.0,322.2 418.0,325.0C422.0,327.8 430.8,333.4 435.0,333.4C439.2,333.4 449.3,327.6 453.7,325.0C458.1,322.4 469.5,314.0 472.3,311.0C475.1,308.0 477.1,301.4 478.0,299.0C478.9,296.6 490.3,291.1 480.0,290.0C469.7,288.9 400.1,289.2 390.0,290.0Z" fill="#fddecd"/>
<path d="M398.0,290.0C389.5,290.9 399.6,296.0 401.0,297.5C402.4,299.0 407.6,301.9 410.0,303.0C412.4,304.1 419.1,306.1 422.0,307.0C424.9,307.9 432.0,311.0 435.0,311.0C438.0,311.0 444.9,307.9 448.0,307.0C451.1,306.1 459.2,304.1 462.0,303.0C464.8,301.9 470.6,299.5 472.0,298.0C473.4,296.5 482.6,290.9 474.0,290.0C465.4,289.1 406.5,289.1 398.0,290.0Z" fill="#fcbc96"/>
<path d="M378.2,294.8C378.2,294.8 384.5,294.8 384.5,294.8C384.5,294.8 384.0,297.3 384.0,297.3C384.0,297.3 381.7,303.3 381.7,303.3C381.7,303.3 379.2,303.3 379.2,303.3C379.2,303.3 378.2,294.8 378.2,294.8Z" fill="#048eca"/>
<path d="M488.0,294.8C488.0,294.8 494.3,294.8 494.3,294.8C494.3,294.8 493.3,303.3 493.3,303.3C493.3,303.3 490.8,303.3 490.8,303.3C490.8,303.3 488.5,297.3 488.5,297.3C488.5,297.3 488.0,294.8 488.0,294.8Z" fill="#048eca"/>
<path d="M399.0,450.0C399.3,444.2 400.5,436.7 402.0,430.0C403.5,423.3 406.3,415.3 408.0,410.0C409.7,404.7 410.0,400.5 412.0,398.0C414.0,395.5 417.0,396.0 420.0,395.0C423.0,394.0 426.7,392.2 430.0,392.0C433.3,391.8 436.3,394.0 440.0,394.0C443.7,394.0 448.7,391.5 452.0,392.0C455.3,392.5 457.7,394.0 460.0,397.0C462.3,400.0 464.0,404.8 466.0,410.0C468.0,415.2 470.2,422.2 472.0,428.0C473.8,433.8 476.0,439.3 476.8,445.0C477.6,450.7 483.1,458.5 477.0,462.0C470.9,465.5 452.8,465.5 440.0,466.0C427.2,466.5 406.8,467.7 400.0,465.0C393.2,462.3 398.7,455.8 399.0,450.0Z" fill="#fddecd"/>
<path d="M365.5,492.7C342.8,491.2 366.0,486.6 366.5,483.7C367.0,480.8 367.4,477.9 368.5,475.5C369.6,473.1 371.1,470.8 373.0,469.0C374.9,467.2 376.8,465.4 380.0,464.5C383.2,463.6 383.0,463.8 392.0,463.7C401.0,463.6 420.0,463.7 434.0,463.7C448.0,463.7 467.0,463.6 476.0,463.7C485.0,463.8 484.8,463.6 488.0,464.5C491.2,465.4 493.1,467.2 495.0,469.0C496.9,470.8 498.4,473.1 499.5,475.5C500.6,477.9 501.0,480.8 501.5,483.7C502.0,486.6 525.2,491.2 502.5,492.7C479.8,494.2 388.2,494.2 365.5,492.7Z" fill="#fddecd"/>
<path d="M374.5,492.7C362.6,491.4 374.2,480.9 374.5,479.4C374.8,477.9 371.6,478.0 377.5,477.9C383.4,477.8 422.7,477.9 434.0,477.9C445.3,477.9 484.6,477.8 490.5,477.9C496.4,478.0 493.2,477.9 493.5,479.4C493.8,480.9 505.4,491.4 493.5,492.7C481.6,494.0 386.4,494.0 374.5,492.7Z" fill="#fcf0ec"/>
<path d="M375.5,492.7C363.8,491.6 375.2,482.9 375.5,481.6C375.8,480.3 372.6,480.2 378.5,480.1C384.4,480.0 422.9,480.1 434.0,480.1C445.1,480.1 483.6,480.0 489.5,480.1C495.4,480.2 492.2,480.3 492.5,481.6C492.8,482.9 504.2,491.6 492.5,492.7C480.8,493.8 387.2,493.8 375.5,492.7Z" fill="#eaf2f4"/>
<path d="M376.5,492.7C365.0,491.8 376.2,484.7 376.5,483.6C376.8,482.5 373.8,482.2 379.5,482.1C385.2,482.0 423.1,482.1 434.0,482.1C444.9,482.1 482.8,482.0 488.5,482.1C494.2,482.2 491.2,482.5 491.5,483.6C491.8,484.7 503.0,491.8 491.5,492.7C480.0,493.6 388.0,493.6 376.5,492.7Z" fill="#d2eaf4"/>
<path d="M377.0,492.7C365.6,492.0 376.7,486.2 377.0,485.3C377.3,484.4 374.3,483.9 380.0,483.8C385.7,483.7 423.2,483.8 434.0,483.8C444.8,483.8 482.3,483.7 488.0,483.8C493.7,483.9 490.7,484.4 491.0,485.3C491.3,486.2 502.4,492.0 491.0,492.7C479.6,493.4 388.4,493.4 377.0,492.7Z" fill="#9dd0ec"/>
<path d="M377.5,492.7C366.2,492.1 377.2,487.9 377.5,487.2C377.8,486.5 374.9,485.8 380.5,485.7C386.1,485.6 423.3,485.7 434.0,485.7C444.7,485.7 481.9,485.6 487.5,485.7C493.1,485.8 490.2,486.5 490.5,487.2C490.8,487.9 501.8,492.1 490.5,492.7C479.2,493.2 388.8,493.2 377.5,492.7Z" fill="#4eaedb"/>
<path d="M368.2,492.7C367.7,491.2 368.1,486.7 368.6,483.7C369.1,480.7 369.8,476.9 371.0,474.5C372.2,472.1 373.7,470.5 376.0,469.6C378.3,468.7 375.3,469.1 385.0,469.0C394.7,468.9 417.7,469.0 434.0,469.0C450.3,469.0 473.3,468.9 483.0,469.0C492.7,469.1 489.7,468.7 492.0,469.6C494.3,470.5 495.8,472.1 497.0,474.5C498.2,476.9 498.9,480.7 499.4,483.7C499.9,486.7 500.3,491.2 499.8,492.7C499.3,494.2 497.1,494.2 496.4,492.7C495.7,491.2 496.3,486.4 495.8,483.7C495.3,481.0 495.0,478.1 493.5,476.7C492.0,475.3 496.9,475.7 487.0,475.5C477.1,475.3 451.7,475.5 434.0,475.5C416.3,475.5 390.9,475.3 381.0,475.5C371.1,475.7 376.0,475.3 374.5,476.7C373.0,478.1 372.7,481.0 372.2,483.7C371.7,486.4 372.3,491.2 371.6,492.7C370.9,494.2 368.7,494.2 368.2,492.7Z" fill="#fcbc96"/>
<path d="M378.0,474.0C377.2,473.6 380.6,471.0 382.0,470.6C383.4,470.2 386.8,470.2 392.0,470.2C397.2,470.2 425.6,470.3 434.0,470.3C442.4,470.3 470.8,470.2 476.0,470.2C481.2,470.2 484.6,470.2 486.0,470.6C487.4,471.0 490.8,473.6 490.0,474.0C489.2,474.4 483.6,474.2 478.0,474.2C472.4,474.2 442.8,474.1 434.0,474.1C425.2,474.1 395.6,474.2 390.0,474.2C384.4,474.2 378.8,474.4 378.0,474.0Z" fill="#fa8c64"/>
<path d="M328.0,300.0C329.0,300.0 331.2,275.0 332.0,300.0C332.8,325.0 332.8,425.0 332.5,450.0C332.2,475.0 331.1,450.0 330.0,450.0C328.9,450.0 326.7,475.0 326.0,450.0C325.3,425.0 325.7,325.0 326.0,300.0C326.3,275.0 327.0,300.0 328.0,300.0Z" fill="#048eca"/>
<path d="M540.5,300.0C541.4,275.3 545.1,275.3 546.0,300.0C546.9,324.7 546.9,423.3 546.0,448.0C545.1,472.7 541.4,472.7 540.5,448.0C539.6,423.3 539.6,324.7 540.5,300.0Z" fill="#048eca"/>
<path d="M329.0,455.0C329.7,455.2 330.5,452.7 331.0,456.0C331.5,459.3 331.7,470.7 332.0,475.0C332.3,479.3 331.7,480.5 333.0,482.0C334.3,483.5 336.3,483.5 340.0,483.8C343.7,484.1 351.0,484.0 355.0,484.0C359.0,484.0 362.2,482.5 364.0,483.8C365.8,485.1 372.2,490.6 366.0,492.0C359.8,493.4 333.5,498.2 327.0,492.0C320.5,485.8 326.7,461.2 327.0,455.0C327.3,448.8 328.3,454.8 329.0,455.0Z" fill="#4eaedb"/>
<path d="M327.0,470.0C327.6,466.5 329.8,468.8 330.5,471.0C331.2,473.2 330.2,480.6 331.5,483.0C332.8,485.4 334.1,485.1 338.0,485.6C341.9,486.1 350.7,485.8 355.0,485.8C359.3,485.8 362.3,484.6 364.0,485.6C365.7,486.6 371.2,490.9 365.0,492.0C358.8,493.1 333.3,495.7 327.0,492.0C320.7,488.3 326.4,473.5 327.0,470.0Z" fill="#9dd0ec"/>
<path d="M538.0,455.0C536.8,455.0 539.5,452.5 540.0,455.0C540.5,457.5 540.8,465.8 541.0,470.0C541.2,474.2 541.5,477.7 541.0,480.0C540.5,482.3 541.5,482.9 538.0,483.6C534.5,484.3 525.5,484.2 520.0,484.3C514.5,484.4 508.0,484.0 505.0,484.0C502.0,484.0 502.5,483.0 502.0,484.3C501.5,485.6 494.5,490.7 502.0,492.0C509.5,493.3 539.5,498.2 547.0,492.0C554.5,485.8 548.5,461.2 547.0,455.0C545.5,448.8 539.2,455.0 538.0,455.0Z" fill="#4eaedb"/>
<path d="M541.0,465.0C541.8,462.2 546.0,460.5 547.0,465.0C548.0,469.5 554.3,487.5 547.0,492.0C539.7,496.5 510.2,493.0 503.0,492.0C495.8,491.0 500.7,487.0 503.5,486.0C506.3,485.0 513.9,485.9 520.0,485.8C526.1,485.7 536.3,486.0 540.0,485.4C543.7,484.8 541.8,485.4 542.0,482.0C542.2,478.6 540.2,467.8 541.0,465.0Z" fill="#9dd0ec"/>
<path d="M380.5,491.7C380.5,488.7 380.5,482.1 380.5,474.0C380.5,465.8 380.5,455.5 380.5,442.6C380.5,429.7 380.5,413.4 380.5,396.5C380.5,379.7 379.8,353.5 380.5,341.3C381.2,329.0 383.3,328.1 384.9,322.8C386.6,317.6 389.3,314.6 390.7,309.9C392.0,305.3 392.8,297.3 393.2,294.8M385.9,491.7C385.9,488.7 385.9,482.1 385.9,474.0C385.9,465.8 385.9,455.5 385.9,442.6C385.9,429.7 385.9,413.4 385.9,396.5C385.9,379.7 385.2,353.5 385.9,341.3C386.6,329.0 388.4,328.1 389.9,322.8C391.5,317.6 393.9,314.6 395.1,309.9C396.3,305.3 397.0,297.3 397.4,294.8M395.5,491.7C395.5,488.7 395.5,482.1 395.5,474.0C395.5,465.8 395.5,455.5 395.5,442.6C395.5,429.7 395.5,413.4 395.5,396.5C395.5,379.7 395.0,353.5 395.5,341.3C396.0,329.0 397.3,328.1 398.3,322.8C399.4,317.6 401.1,314.6 402.0,309.9C402.9,305.3 403.3,297.3 403.6,294.8M426.8,491.7C426.8,488.7 426.8,482.1 426.8,474.0C426.8,465.8 426.8,455.5 426.8,442.6C426.8,429.7 426.8,413.4 426.8,396.5C426.8,379.7 426.8,353.5 426.8,341.3C426.8,329.0 426.8,328.1 426.7,322.8C426.7,317.6 426.7,314.6 426.6,309.9C426.6,305.3 426.6,297.3 426.6,294.8M454.1,491.7C454.1,488.7 454.1,482.1 454.1,474.0C454.1,465.8 454.1,455.5 454.1,442.6C454.1,429.7 454.1,413.4 454.1,396.5C454.1,379.7 454.4,353.5 454.1,341.3C453.8,329.0 453.1,328.1 452.6,322.8C452.0,317.6 451.1,314.6 450.6,309.9C450.1,305.3 449.8,297.3 449.7,294.8M484.1,491.7C484.1,488.7 484.1,482.1 484.1,474.0C484.1,465.8 484.1,455.5 484.1,442.6C484.1,429.7 484.1,413.4 484.1,396.5C484.1,379.7 485.1,353.5 484.1,341.3C483.1,329.0 480.3,328.1 477.9,322.8C475.5,317.6 471.9,314.6 469.9,309.9C468.0,305.3 467.0,297.3 466.4,294.8M488.2,491.7C488.2,488.7 488.2,482.1 488.2,474.0C488.2,465.8 488.2,455.5 488.2,442.6C488.2,429.7 488.2,413.4 488.2,396.5C488.2,379.7 489.1,353.5 488.2,341.3C487.3,329.0 484.8,328.1 482.8,322.8C480.7,317.6 477.5,314.6 475.8,309.9C474.1,305.3 473.2,297.3 472.7,294.8M493.6,491.7C493.6,488.7 493.6,482.1 493.6,474.0C493.6,465.8 493.6,455.5 493.6,442.6C493.6,429.7 493.6,413.4 493.6,396.5C493.6,379.7 494.6,353.5 493.6,341.3C492.6,329.0 490.0,328.1 487.7,322.8C485.5,317.6 482.0,314.6 480.2,309.9C478.3,305.3 477.4,297.3 476.8,294.8M395.0,296.0C393.8,297.3 391.3,301.7 388.0,304.0C384.7,306.3 380.5,308.5 375.0,310.0C369.5,311.5 360.8,312.2 355.0,313.0C349.2,313.8 343.5,313.3 340.0,314.5C336.5,315.7 335.2,314.1 334.0,320.0C332.8,325.9 333.1,338.3 333.0,350.0C332.9,361.7 333.0,378.3 333.5,390.0C334.0,401.7 334.1,412.3 336.0,420.0C337.9,427.7 341.0,432.3 345.0,436.0C349.0,439.7 355.5,441.7 360.0,442.0C364.5,442.3 369.5,441.7 372.0,438.0C374.5,434.3 375.0,427.2 375.0,420.0C375.0,412.8 373.7,402.5 372.0,395.0C370.3,387.5 367.8,380.5 365.0,375.0C362.2,369.5 358.3,363.8 355.0,362.0C351.7,360.2 346.7,363.7 345.0,364.0M396.0,296.0C395.0,297.7 393.0,303.2 390.0,306.0C387.0,308.8 382.7,311.0 378.0,313.0C373.3,315.0 366.3,315.8 362.0,318.0C357.7,320.2 353.9,322.3 352.0,326.0C350.1,329.7 350.8,332.3 350.6,340.0C350.4,347.7 350.4,364.3 350.6,372.0C350.8,379.7 351.8,383.7 352.0,386.0M372.2,480.0C372.2,473.3 372.1,453.3 372.2,440.0C372.2,426.7 372.4,413.3 372.5,400.0C372.6,386.7 373.0,371.7 373.0,360.0C373.0,348.3 373.3,337.0 372.5,330.0C371.7,323.0 368.8,320.0 368.0,318.0M477.8,296.0C479.0,297.3 481.5,301.7 484.8,304.0C488.1,306.3 492.3,308.5 497.8,310.0C503.3,311.5 512.0,312.2 517.8,313.0C523.6,313.8 529.3,313.3 532.8,314.5C536.3,315.7 537.6,314.1 538.8,320.0C540.0,325.9 539.7,338.3 539.8,350.0C539.9,361.7 539.8,378.3 539.3,390.0C538.8,401.7 538.7,412.3 536.8,420.0C534.9,427.7 531.8,432.3 527.8,436.0C523.8,439.7 517.3,441.7 512.8,442.0C508.3,442.3 503.3,441.7 500.8,438.0C498.3,434.3 497.8,427.2 497.8,420.0C497.8,412.8 499.1,402.5 500.8,395.0C502.5,387.5 505.0,380.5 507.8,375.0C510.6,369.5 514.5,363.8 517.8,362.0C521.1,360.2 526.1,363.7 527.8,364.0M476.8,296.0C477.8,297.7 479.8,303.2 482.8,306.0C485.8,308.8 490.1,311.0 494.8,313.0C499.5,315.0 506.5,315.8 510.8,318.0C515.1,320.2 518.9,322.3 520.8,326.0C522.7,329.7 522.0,332.3 522.2,340.0C522.4,347.7 522.4,364.3 522.2,372.0C522.0,379.7 521.0,383.7 520.8,386.0M500.6,480.0C500.6,473.3 500.7,453.3 500.6,440.0C500.6,426.7 500.4,413.3 500.3,400.0C500.2,386.7 499.8,371.7 499.8,360.0C499.8,348.3 499.5,337.0 500.3,330.0C501.1,323.0 504.1,320.0 504.8,318.0M365.5,490.0C366.0,489.3 367.1,486.8 368.5,485.7C369.9,484.6 371.9,483.5 374.0,483.2C376.1,482.9 379.2,483.1 381.0,483.8C382.8,484.5 384.2,486.2 385.0,487.2C385.8,488.2 385.8,489.5 386.0,490.0M489.0,490.0C489.3,489.4 489.8,487.8 491.0,486.7C492.2,485.6 494.2,483.9 496.0,483.4C497.8,482.9 500.3,483.1 502.0,483.6C503.7,484.2 505.2,485.6 506.0,486.7C506.8,487.8 506.8,489.4 507.0,490.0M358.9,389.2L362.1,392.2L364.9,396.1L367.0,400.7L368.4,405.9L369.0,411.3L369.0,416.8L368.2,422.0L366.8,426.8L364.7,431.0L362.2,434.3L359.4,436.8L356.3,438.2L353.1,438.6L350.0,438.0L347.1,436.4L344.6,433.9L342.4,430.7L340.8,426.9L339.7,422.8L339.2,418.5L339.3,414.1L340.0,410.0L341.1,406.3L342.8,403.1L344.8,400.5L347.0,398.7L349.4,397.6L351.8,397.4L354.2,398.0L356.4,399.3L358.3,401.2L359.9,403.7L361.1,406.6L361.9,409.7L362.2,413.0L362.0,416.2L361.5,419.2L360.6,421.8L359.3,424.1L357.9,425.9L356.2,427.1L354.5,427.7L352.8,427.8L351.1,427.3L349.7,426.3L348.4,424.8L347.4,423.1L346.6,421.1L346.2,419.0L346.1,416.8L346.2,414.8L346.7,412.9L347.3,411.2L348.2,409.9L349.1,408.9L350.1,408.3L351.2,408.1L352.2,408.2L353.1,408.7L353.9,409.4L354.5,410.3L355.0,411.3L355.3,412.4L355.4,413.6L355.3,414.6L355.1,415.5L355.1,415.5M509.0,392.8L506.6,397.3L504.9,402.4L504.0,407.9L503.7,413.5L504.3,418.9L505.5,424.0L507.4,428.5L509.8,432.3L512.6,435.2L515.6,437.0L518.9,437.8L522.1,437.6L525.1,436.3L527.9,434.1L530.3,431.1L532.2,427.4L533.5,423.3L534.3,418.9L534.4,414.4L533.9,410.1L532.9,406.1L531.4,402.5L529.5,399.6L527.2,397.4L524.8,396.1L522.3,395.5L519.8,395.8L517.5,396.9L515.4,398.6L513.6,401.0L512.2,403.8L511.2,407.0L510.7,410.3L510.7,413.7L511.1,416.9L511.9,419.8L513.1,422.4L514.5,424.4L516.2,425.9L517.9,426.8L519.7,427.1L521.5,426.8L523.1,426.0L524.6,424.6L525.7,422.9L526.6,420.9L527.2,418.7L527.5,416.4L527.4,414.2L527.1,412.1L526.5,410.3L525.7,408.7L524.7,407.5L523.6,406.7L522.5,406.3L521.4,406.3L520.4,406.6L519.5,407.2L518.7,408.1L518.1,409.2L517.7,410.4L517.5,411.6L517.5,412.8L517.6,413.9L517.9,414.9L518.3,415.6L518.3,415.6M361.7,480.8L359.8,482.5L357.5,483.9L354.8,484.9L351.9,485.6L348.8,485.8L345.8,485.6L342.9,485.0L340.2,484.0L338.0,482.6L336.2,481.0L335.0,479.2L334.3,477.2L334.3,475.2L334.9,473.3L336.1,471.5L337.8,469.9L340.0,468.6L342.5,467.6L345.3,467.0L348.2,466.8L351.0,467.0L353.8,467.6L356.2,468.5L358.4,469.8L360.0,471.3L361.2,473.0L361.8,474.9L361.8,476.7L361.2,478.5L360.1,480.2L360.1,480.2M358.2,479.6L356.8,480.9L355.1,481.9L353.2,482.7L351.0,483.2L348.8,483.3L346.5,483.2L344.4,482.7L342.4,482.0L340.8,481.0L339.5,479.7L338.6,478.4L338.1,476.9L338.1,475.4L338.6,474.0L339.4,472.6L340.7,471.4L342.3,470.4L344.1,469.7L346.2,469.3L348.3,469.1L350.4,469.2L352.4,469.7L354.2,470.4L355.7,471.3L357.0,472.5L357.8,473.8L358.2,475.1L358.2,476.5L357.8,477.9L357.0,479.2L357.0,479.2M355.1,478.5L354.2,479.4L353.0,480.1L351.7,480.6L350.2,481.0L348.7,481.1L347.1,481.0L345.7,480.7L344.4,480.1L343.2,479.4L342.4,478.6L341.7,477.6L341.4,476.6L341.4,475.6L341.7,474.6L342.3,473.7L343.2,472.8L344.3,472.1L345.5,471.6L346.9,471.3L348.3,471.2L349.8,471.3L351.1,471.6L352.4,472.1L353.4,472.8L354.3,473.6L354.8,474.5L355.1,475.4L355.1,476.4L354.9,477.3L354.3,478.2L354.3,478.2M352.4,477.5L351.9,478.1L351.2,478.5L350.4,478.9L349.5,479.1L348.6,479.1L347.7,479.1L346.8,478.9L346.0,478.5L345.3,478.1L344.8,477.6L344.4,477.0L344.3,476.4L344.2,475.8L344.4,475.1L344.8,474.6L345.3,474.0L346.0,473.6L346.7,473.3L347.5,473.1L348.4,473.1L349.3,473.1L350.1,473.3L350.8,473.6L351.5,474.0L352.0,474.5L352.3,475.0L352.5,475.6L352.5,476.2L352.3,476.8L352.0,477.4L352.0,477.4M350.3,476.7L350.0,477.0L349.7,477.2L349.3,477.3L349.0,477.4L348.5,477.5L348.1,477.4L347.8,477.3L347.4,477.2L347.1,477.0L346.9,476.7L346.7,476.5L346.6,476.2L346.6,475.9L346.7,475.6L346.9,475.3L347.1,475.1L347.4,474.9L347.7,474.7L348.1,474.7L348.5,474.6L348.8,474.6L349.2,474.7L349.5,474.9L349.8,475.1L350.0,475.3L350.2,475.6L350.3,475.8L350.3,476.1L350.2,476.4L350.0,476.6L350.0,476.6M515.5,486.0L512.5,484.7L509.9,483.1L507.9,481.1L506.6,478.9L506.0,476.6L506.1,474.2L506.9,471.9L508.4,469.8L510.5,468.0L513.1,466.4L516.1,465.3L519.4,464.7L522.8,464.5L526.1,464.8L529.3,465.6L532.2,466.8L534.6,468.3L536.5,470.2L537.8,472.3L538.4,474.5L538.3,476.7L537.5,478.9L536.1,480.9L534.1,482.7L531.6,484.1L528.8,485.1L525.7,485.8L522.4,485.9L519.3,485.6L516.2,484.9L516.2,484.9M517.2,483.2L514.9,482.3L512.9,481.1L511.4,479.6L510.4,478.0L509.9,476.3L509.9,474.5L510.6,472.9L511.7,471.3L513.3,469.9L515.3,468.8L517.6,468.0L520.1,467.5L522.7,467.4L525.3,467.6L527.7,468.2L529.9,469.0L531.8,470.2L533.2,471.6L534.2,473.1L534.7,474.8L534.6,476.4L534.0,478.0L532.9,479.5L531.4,480.8L529.5,481.9L527.3,482.6L524.9,483.1L522.5,483.2L520.0,483.0L517.7,482.5L517.7,482.5" fill="none" stroke="#000" stroke-opacity="0.55" stroke-width="0.75" stroke-linejoin="round"/><path d="M380.5,474.4L381.5,477.0L379.5,477.0ZM380.5,440.4L381.5,443.0L379.5,443.0ZM380.5,406.4L381.5,409.0L379.5,409.0ZM380.3,372.4L381.3,375.0L379.3,375.0ZM380.7,338.4L381.5,341.1L379.5,341.0ZM391.5,306.4L391.9,309.2L390.0,308.8ZM385.9,474.4L386.9,477.0L384.9,477.0ZM385.9,440.4L386.9,443.0L384.9,443.0ZM385.9,406.4L386.9,409.0L384.9,409.0ZM385.7,372.4L386.7,375.0L384.7,375.0ZM386.1,338.4L386.9,341.1L384.9,341.0ZM395.9,306.0L396.4,308.8L394.4,308.4ZM395.5,474.4L396.5,477.0L394.5,477.0ZM395.5,440.4L396.5,443.0L394.5,443.0ZM395.5,406.4L396.5,409.0L394.5,409.0ZM395.4,372.4L396.4,375.0L394.4,375.0ZM395.6,338.4L396.5,341.1L394.5,341.0ZM402.6,305.2L403.3,308.0L401.4,307.7ZM426.8,474.4L427.8,477.0L425.8,477.0ZM426.8,440.4L427.8,443.0L425.8,443.0ZM426.8,406.4L427.8,409.0L425.8,409.0ZM426.8,372.4L427.8,375.0L425.8,375.0ZM426.8,338.4L427.8,341.0L425.8,341.0ZM426.6,304.4L427.6,307.0L425.6,307.0ZM454.1,474.4L455.1,477.0L453.1,477.0ZM454.1,440.4L455.1,443.0L453.1,443.0ZM454.1,406.4L455.1,409.0L453.1,409.0ZM454.2,372.4L455.2,375.0L453.2,375.0ZM454.0,338.4L455.1,341.0L453.1,341.0ZM450.2,304.6L451.3,307.2L449.4,307.3ZM484.1,474.4L485.1,477.0L483.1,477.0ZM484.1,440.4L485.1,443.0L483.1,443.0ZM484.1,406.4L485.1,409.0L483.1,409.0ZM484.4,372.4L485.4,375.0L483.4,375.0ZM483.8,338.4L485.1,340.9L483.1,341.1ZM469.3,308.1L471.1,310.2L469.2,310.9ZM488.2,474.4L489.2,477.0L487.2,477.0ZM488.2,440.4L489.2,443.0L487.2,443.0ZM488.2,406.4L489.2,409.0L487.2,409.0ZM488.5,372.4L489.4,375.0L487.4,375.0ZM487.9,338.4L489.2,340.9L487.2,341.1ZM475.0,307.3L476.7,309.5L474.8,310.1ZM493.6,474.4L494.6,477.0L492.6,477.0ZM493.6,440.4L494.6,443.0L492.6,443.0ZM493.6,406.4L494.6,409.0L492.6,409.0ZM493.9,372.4L494.8,375.0L492.9,375.0ZM493.3,338.4L494.6,340.9L492.6,341.1ZM479.4,307.8L481.2,309.9L479.3,310.6ZM382.3,307.4L384.2,305.3L385.1,307.0ZM349.0,313.5L351.6,312.3L351.7,314.3ZM333.1,335.7L332.1,333.1L334.1,333.1ZM333.0,369.7L332.0,367.1L334.0,367.1ZM334.1,403.7L332.9,401.1L334.9,401.0ZM344.2,435.3L341.7,434.0L343.1,432.7ZM373.5,435.1L373.3,437.9L371.5,437.1ZM373.2,401.3L374.6,403.7L372.7,404.0ZM361.8,369.5L364.1,371.2L362.4,372.3ZM385.5,309.4L387.1,307.1L388.3,308.7ZM354.5,322.7L356.0,320.3L357.2,321.8ZM350.4,355.6L349.4,353.0L351.4,353.0ZM372.2,462.7L373.2,465.3L371.2,465.3ZM372.3,428.7L373.2,431.3L371.3,431.3ZM372.6,394.7L373.5,397.3L371.5,397.3ZM373.0,360.7L374.0,363.3L372.0,363.3ZM372.0,326.7L373.4,329.2L371.4,329.5ZM490.5,307.4L487.7,307.0L488.6,305.3ZM523.8,313.5L521.1,314.3L521.2,312.3ZM539.7,335.7L538.7,333.1L540.7,333.1ZM539.8,369.7L538.8,367.1L540.8,367.1ZM538.7,403.7L537.9,401.0L539.9,401.1ZM528.6,435.3L529.7,432.7L531.1,434.0ZM499.3,435.1L501.3,437.1L499.5,437.9ZM499.6,401.3L500.1,404.0L498.2,403.7ZM511.0,369.5L510.4,372.3L508.7,371.2ZM487.3,309.4L484.5,308.7L485.7,307.1ZM518.3,322.7L515.6,321.8L516.8,320.3ZM522.4,355.6L521.4,353.0L523.4,353.0ZM500.6,462.7L501.6,465.3L499.6,465.3ZM500.5,428.7L501.5,431.3L499.6,431.3ZM500.2,394.7L501.3,397.3L499.3,397.3ZM499.8,360.7L500.8,363.3L498.8,363.3ZM500.8,326.7L501.4,329.5L499.4,329.2ZM379.9,483.4L377.2,484.1L377.4,482.1ZM503.2,484.2L500.4,483.9L501.3,482.1Z" fill="#000" fill-opacity="0.55"/><path d="M531.1,475.5L531.0,476.2L530.8,476.9L530.5,477.6L530.0,478.2L529.3,478.8L528.6,479.3L527.8,479.8L526.9,480.2L525.9,480.5L524.8,480.7L523.7,480.9L522.6,480.9L521.5,480.9L520.4,480.7L519.3,480.5L518.4,480.2L517.4,479.8L516.6,479.3L515.9,478.8L515.2,478.2L514.7,477.6L514.4,476.9L514.2,476.2L514.1,475.5L514.2,474.8L514.4,474.1L514.7,473.4L515.2,472.8L515.9,472.2L516.6,471.7L517.4,471.2L518.4,470.8L519.3,470.5L520.4,470.3L521.5,470.1L522.6,470.1L523.7,470.1L524.8,470.3L525.9,470.5L526.9,470.8L527.8,471.2L528.6,471.7L529.3,472.2L530.0,472.8L530.5,473.4L530.8,474.1L531.0,474.8L531.1,475.5Z" fill="none" stroke="#000" stroke-width="1.9"/>
</g>
<path d="M329.60,304.40V488.70H543.20" fill="none" stroke="#111" stroke-width="1.1"/>
<path d="M329.60,461.04h5M329.60,425.44h5M329.60,389.84h5M329.60,354.24h5M329.60,318.64h5M329.60,488.70v-5M365.20,488.70v-5M400.80,488.70v-5M436.40,488.70v-5M472.00,488.70v-5M507.60,488.70v-5M543.20,488.70v-5" stroke="#111" stroke-width="1.2" fill="none"/>
<path d="M329.60,482.40h2M329.60,475.28h2M329.60,468.16h2M329.60,453.92h2M329.60,446.80h2M329.60,439.68h2M329.60,432.56h2M329.60,418.32h2M329.60,411.20h2M329.60,404.08h2M329.60,396.96h2M329.60,382.72h2M329.60,375.60h2M329.60,368.48h2M329.60,361.36h2M329.60,347.12h2M329.60,340.00h2M329.60,332.88h2M329.60,325.76h2M329.60,311.52h2M329.60,304.40h2M336.72,488.70v-2M343.84,488.70v-2M350.96,488.70v-2M358.08,488.70v-2M372.32,488.70v-2M379.44,488.70v-2M386.56,488.70v-2M393.68,488.70v-2M407.92,488.70v-2M415.04,488.70v-2M422.16,488.70v-2M429.28,488.70v-2M443.52,488.70v-2M450.64,488.70v-2M457.76,488.70v-2M464.88,488.70v-2M479.12,488.70v-2M486.24,488.70v-2M493.36,488.70v-2M500.48,488.70v-2M514.72,488.70v-2M521.84,488.70v-2M528.96,488.70v-2M536.08,488.70v-2" stroke="#222" stroke-width="0.6" stroke-opacity="0.6" fill="none"/>
<g font-family="'Liberation Sans', Arial, sans-serif" font-size="7.2" fill="#222" stroke="#222" stroke-width="0.22"><text x="326.90" y="463.54" text-anchor="end">0.5</text><text x="326.90" y="427.94" text-anchor="end">1</text><text x="326.90" y="392.34" text-anchor="end">1.5</text><text x="326.90" y="356.74" text-anchor="end">2</text><text x="326.90" y="321.14" text-anchor="end">2.5</text><text x="329.60" y="496.50" text-anchor="middle">-1.5</text><text x="365.20" y="496.50" text-anchor="middle">-1</text><text x="400.80" y="496.50" text-anchor="middle">-0.5</text><text x="436.40" y="496.50" text-anchor="middle">0</text><text x="472.00" y="496.50" text-anchor="middle">0.5</text><text x="507.60" y="496.50" text-anchor="middle">1</text><text x="543.20" y="496.50" text-anchor="middle">1.5</text></g>
<text x="437.1" y="505.1" text-anchor="middle" font-family="'Liberation Sans', Arial, sans-serif" font-weight="bold" font-size="8.7" fill="#111">X/m</text>
<text transform="translate(313.5,395.5) rotate(-90)" text-anchor="middle" font-family="'Liberation Sans', Arial, sans-serif" font-weight="bold" font-size="8.9" fill="#111">Y/m</text>
<text x="321.0" y="298.7" font-family="'Liberation Serif', 'Times New Roman', serif" font-size="9.6" fill="#111" stroke="#111" stroke-width="0.2">S2S</text>
<text x="441.1" y="520.6" text-anchor="middle" font-family="'Liberation Serif', 'Times New Roman', serif" font-size="14.2" fill="#111" stroke="#111" stroke-width="0.45">(d)</text>
<g font-family="'Liberation Sans', Arial, sans-serif" font-size="7.2" fill="#222"><rect x="363.20" y="271.0" width="6.33" height="10.80" fill="#0a6cc2"/><rect x="369.48" y="271.0" width="12.60" height="10.80" fill="#048eca"/><rect x="382.03" y="271.0" width="12.60" height="10.80" fill="#4eaedb"/><rect x="394.59" y="271.0" width="12.60" height="10.80" fill="#9dd0ec"/><rect x="407.14" y="271.0" width="12.60" height="10.80" fill="#d2eaf4"/><rect x="419.70" y="271.0" width="12.60" height="10.80" fill="#eaf2f4"/><rect x="432.25" y="271.0" width="12.60" height="10.80" fill="#fcf0ec"/><rect x="444.80" y="271.0" width="12.60" height="10.80" fill="#fddecd"/><rect x="457.36" y="271.0" width="12.60" height="10.80" fill="#fcbc96"/><rect x="469.91" y="271.0" width="12.60" height="10.80" fill="#fa8c64"/><rect x="482.47" y="271.0" width="12.60" height="10.80" fill="#f05046"/><rect x="495.02" y="271.0" width="6.33" height="10.80" fill="#d71428"/><path d="M369.48,271.0V281.8M382.03,271.0V281.8M394.59,271.0V281.8M407.14,271.0V281.8M419.70,271.0V281.8M432.25,271.0V281.8M444.80,271.0V281.8M457.36,271.0V281.8M469.91,271.0V281.8M482.47,271.0V281.8M495.02,271.0V281.8" stroke="#333" stroke-width="0.6" stroke-opacity="0.85"/><rect x="363.2" y="271.0" width="138.10" height="10.80" fill="none" stroke="#333" stroke-width="0.6"/><text x="369.48" y="291.0" text-anchor="middle" stroke="#222" stroke-width="0.22">0.1</text><text x="382.03" y="291.0" text-anchor="middle" stroke="#222" stroke-width="0.22">0.2</text><text x="394.59" y="291.0" text-anchor="middle" stroke="#222" stroke-width="0.22">0.3</text><text x="407.14" y="291.0" text-anchor="middle" stroke="#222" stroke-width="0.22">0.4</text><text x="419.70" y="291.0" text-anchor="middle" stroke="#222" stroke-width="0.22">0.5</text><text x="432.25" y="291.0" text-anchor="middle" stroke="#222" stroke-width="0.22">0.6</text><text x="444.80" y="291.0" text-anchor="middle" stroke="#222" stroke-width="0.22">0.7</text><text x="457.36" y="291.0" text-anchor="middle" stroke="#222" stroke-width="0.22">0.8</text><text x="469.91" y="291.0" text-anchor="middle" stroke="#222" stroke-width="0.22">0.9</text><text x="482.47" y="291.0" text-anchor="middle" stroke="#222" stroke-width="0.22">1</text><text x="495.02" y="291.0" text-anchor="middle" stroke="#222" stroke-width="0.22">1.1</text></g>
</svg>
</body></html>
